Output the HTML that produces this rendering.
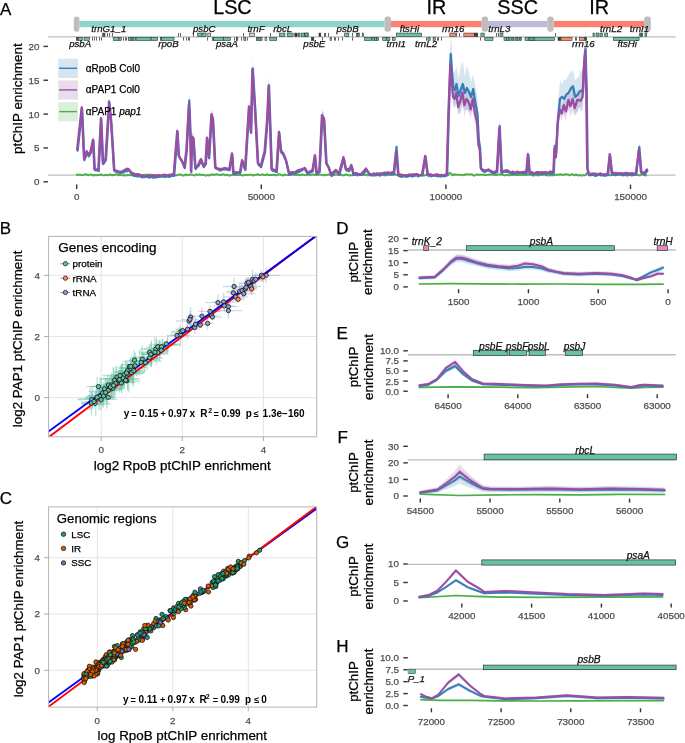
<!DOCTYPE html>
<html><head><meta charset="utf-8"><title>ptChIP figure</title>
<style>html,body{margin:0;padding:0;background:#fff;}body{width:685px;height:743px;overflow:hidden;}svg{display:block;}</style>
</head><body>
<svg width="685" height="743" viewBox="0 0 685 743" font-family='"Liberation Sans", Arial, sans-serif'>
<text x="0" y="14.8" font-size="17" text-anchor="start" fill="#000" stroke="#000" stroke-width="0.25">A</text>
<rect x="79.4" y="20.9" width="305.1" height="6.3" fill="#8dd3c7" stroke="none" stroke-width="0.5" rx="0"/>
<rect x="391" y="20.9" width="90.7" height="6.3" fill="#fb8072" stroke="none" stroke-width="0.5" rx="0"/>
<rect x="488" y="20.9" width="59.4" height="6.3" fill="#bebada" stroke="none" stroke-width="0.5" rx="0"/>
<rect x="553.6" y="20.9" width="90.6" height="6.3" fill="#fb8072" stroke="none" stroke-width="0.5" rx="0"/>
<rect x="73.8" y="16.4" width="5.6" height="15.4" fill="#bdbdbd" stroke="none" stroke-width="0.5" rx="2.8"/>
<rect x="384.5" y="16.4" width="6.5" height="15.4" fill="#bdbdbd" stroke="none" stroke-width="0.5" rx="2.8"/>
<rect x="481.7" y="16.4" width="6.3" height="15.4" fill="#bdbdbd" stroke="none" stroke-width="0.5" rx="2.8"/>
<rect x="547.4" y="16.4" width="6.2" height="15.4" fill="#bdbdbd" stroke="none" stroke-width="0.5" rx="2.8"/>
<rect x="644.2" y="16.4" width="6.6" height="15.4" fill="#bdbdbd" stroke="none" stroke-width="0.5" rx="2.8"/>
<text x="232.4" y="14.4" font-size="19.8" text-anchor="middle" fill="#000" stroke="#000" stroke-width="0.25">LSC</text>
<text x="436.4" y="14.4" font-size="19.8" text-anchor="middle" fill="#000" stroke="#000" stroke-width="0.25">IR</text>
<text x="517.6" y="14.4" font-size="19.8" text-anchor="middle" fill="#000" stroke="#000" stroke-width="0.25">SSC</text>
<text x="599.2" y="14.4" font-size="19.8" text-anchor="middle" fill="#000" stroke="#000" stroke-width="0.25">IR</text>
<line x1="48" y1="36.8" x2="675.5" y2="36.8" stroke="#bebebe" stroke-width="1.3"/>
<rect x="76.4" y="37.3" width="1.8" height="3.2" fill="#3d5f55" stroke="#333" stroke-width="0.6" rx="0"/>
<rect x="78.2" y="37.3" width="4.1" height="3.2" fill="#66c2a5" stroke="#333" stroke-width="0.6" rx="0"/>
<rect x="84" y="37.3" width="5.3" height="3.2" fill="#66c2a5" stroke="#333" stroke-width="0.6" rx="0"/>
<rect x="113.2" y="37.3" width="5.8" height="3.2" fill="#66c2a5" stroke="#333" stroke-width="0.6" rx="0"/>
<rect x="119" y="37.3" width="2.4" height="3.2" fill="#66c2a5" stroke="#333" stroke-width="0.6" rx="0"/>
<rect x="128.4" y="37.3" width="2.6" height="3.2" fill="#66c2a5" stroke="#333" stroke-width="0.6" rx="0"/>
<rect x="131" y="37.3" width="2" height="3.2" fill="#66c2a5" stroke="#333" stroke-width="0.6" rx="0"/>
<rect x="133" y="37.3" width="2.4" height="3.2" fill="#66c2a5" stroke="#333" stroke-width="0.6" rx="0"/>
<rect x="136" y="37.3" width="15" height="3.2" fill="#66c2a5" stroke="#333" stroke-width="0.6" rx="0"/>
<rect x="151" y="37.3" width="6.6" height="3.2" fill="#66c2a5" stroke="#333" stroke-width="0.6" rx="0"/>
<rect x="160.3" y="37.3" width="1.4" height="3.2" fill="#66c2a5" stroke="#333" stroke-width="0.6" rx="0"/>
<rect x="161.7" y="37.3" width="12.3" height="3.2" fill="#66c2a5" stroke="#333" stroke-width="0.6" rx="0"/>
<rect x="212.5" y="37.3" width="1.1" height="3.2" fill="#66c2a5" stroke="#333" stroke-width="0.6" rx="0"/>
<rect x="213.6" y="37.3" width="10" height="3.2" fill="#66c2a5" stroke="#333" stroke-width="0.6" rx="0"/>
<rect x="223.6" y="37.3" width="6.9" height="3.2" fill="#66c2a5" stroke="#333" stroke-width="0.6" rx="0"/>
<rect x="236.3" y="37.3" width="1.6" height="3.2" fill="#66c2a5" stroke="#333" stroke-width="0.6" rx="0"/>
<rect x="243.8" y="37.3" width="2" height="3.2" fill="#66c2a5" stroke="#333" stroke-width="0.6" rx="0"/>
<rect x="256.3" y="37.3" width="1.7" height="3.2" fill="#66c2a5" stroke="#333" stroke-width="0.6" rx="0"/>
<rect x="258" y="37.3" width="2.2" height="3.2" fill="#66c2a5" stroke="#333" stroke-width="0.6" rx="0"/>
<rect x="260.2" y="37.3" width="1.9" height="3.2" fill="#66c2a5" stroke="#333" stroke-width="0.6" rx="0"/>
<rect x="265" y="37.3" width="1.8" height="3.2" fill="#cfcfcf" stroke="#333" stroke-width="0.6" rx="0"/>
<rect x="269.7" y="37.3" width="7" height="3.2" fill="#66c2a5" stroke="#333" stroke-width="0.6" rx="0"/>
<rect x="311.4" y="37.3" width="2.4" height="3.2" fill="#2f3f3a" stroke="#333" stroke-width="0.6" rx="0"/>
<rect x="330.1" y="37.3" width="1.2" height="3.2" fill="#66c2a5" stroke="#333" stroke-width="0.6" rx="0"/>
<rect x="364.6" y="37.3" width="7" height="3.2" fill="#66c2a5" stroke="#333" stroke-width="0.6" rx="0"/>
<rect x="372.2" y="37.3" width="2.3" height="3.2" fill="#66c2a5" stroke="#333" stroke-width="0.6" rx="0"/>
<rect x="374.5" y="37.3" width="2.1" height="3.2" fill="#66c2a5" stroke="#333" stroke-width="0.6" rx="0"/>
<rect x="376.6" y="37.3" width="2" height="3.2" fill="#66c2a5" stroke="#333" stroke-width="0.6" rx="0"/>
<rect x="382.7" y="37.3" width="4.3" height="3.2" fill="#66c2a5" stroke="#333" stroke-width="0.6" rx="0"/>
<rect x="387" y="37.3" width="2.9" height="3.2" fill="#66c2a5" stroke="#333" stroke-width="0.6" rx="0"/>
<rect x="392.3" y="37.3" width="2.9" height="3.2" fill="#66c2a5" stroke="#333" stroke-width="0.6" rx="0"/>
<rect x="427.9" y="37.3" width="2.3" height="3.2" fill="#66c2a5" stroke="#333" stroke-width="0.6" rx="0"/>
<rect x="433.1" y="37.3" width="2.4" height="3.2" fill="#66c2a5" stroke="#333" stroke-width="0.6" rx="0"/>
<rect x="484.8" y="37.3" width="8.2" height="3.2" fill="#66c2a5" stroke="#333" stroke-width="0.6" rx="0"/>
<rect x="504" y="37.3" width="2.5" height="3.2" fill="#66c2a5" stroke="#333" stroke-width="0.6" rx="0"/>
<rect x="506.5" y="37.3" width="2.5" height="3.2" fill="#66c2a5" stroke="#333" stroke-width="0.6" rx="0"/>
<rect x="509" y="37.3" width="2.6" height="3.2" fill="#66c2a5" stroke="#333" stroke-width="0.6" rx="0"/>
<rect x="512.2" y="37.3" width="1.8" height="3.2" fill="#66c2a5" stroke="#333" stroke-width="0.6" rx="0"/>
<rect x="515" y="37.3" width="2" height="3.2" fill="#66c2a5" stroke="#333" stroke-width="0.6" rx="0"/>
<rect x="517.5" y="37.3" width="2" height="3.2" fill="#66c2a5" stroke="#333" stroke-width="0.6" rx="0"/>
<rect x="520" y="37.3" width="1.6" height="3.2" fill="#66c2a5" stroke="#333" stroke-width="0.6" rx="0"/>
<rect x="525" y="37.3" width="4" height="3.2" fill="#66c2a5" stroke="#333" stroke-width="0.6" rx="0"/>
<rect x="529" y="37.3" width="3" height="3.2" fill="#66c2a5" stroke="#333" stroke-width="0.6" rx="0"/>
<rect x="532" y="37.3" width="3" height="3.2" fill="#66c2a5" stroke="#333" stroke-width="0.6" rx="0"/>
<rect x="530" y="37.3" width="2.9" height="3.2" fill="#66c2a5" stroke="#333" stroke-width="0.6" rx="0"/>
<rect x="534.1" y="37.3" width="20.4" height="3.2" fill="#66c2a5" stroke="#333" stroke-width="0.6" rx="0"/>
<rect x="558" y="37.3" width="2.9" height="3.2" fill="#3a3a3a" stroke="#333" stroke-width="0.6" rx="0"/>
<rect x="560.9" y="37.3" width="11.1" height="3.2" fill="#fc8d62" stroke="#333" stroke-width="0.6" rx="0"/>
<rect x="579.6" y="37.3" width="5.3" height="3.2" fill="#fc8d62" stroke="#333" stroke-width="0.6" rx="0"/>
<rect x="584.9" y="37.3" width="1.7" height="3.2" fill="#3a3a3a" stroke="#333" stroke-width="0.6" rx="0"/>
<rect x="613.4" y="37.3" width="25.7" height="3.2" fill="#66c2a5" stroke="#333" stroke-width="0.6" rx="0"/>
<rect x="102.7" y="33.1" width="2.3" height="3.4" fill="#4a5a55" stroke="#333" stroke-width="0.6" rx="0"/>
<rect x="197.6" y="33.1" width="4.4" height="3.4" fill="#66c2a5" stroke="#333" stroke-width="0.6" rx="0"/>
<rect x="202" y="33.1" width="4.1" height="3.4" fill="#66c2a5" stroke="#333" stroke-width="0.6" rx="0"/>
<rect x="207.8" y="33.1" width="2.9" height="3.4" fill="#cfcfcf" stroke="#333" stroke-width="0.6" rx="0"/>
<rect x="249.3" y="33.1" width="5.2" height="3.4" fill="#d0d0d0" stroke="#333" stroke-width="0.6" rx="0"/>
<rect x="279.6" y="33.1" width="5.3" height="3.4" fill="#66c2a5" stroke="#333" stroke-width="0.6" rx="0"/>
<rect x="287.2" y="33.1" width="5.9" height="3.4" fill="#66c2a5" stroke="#333" stroke-width="0.6" rx="0"/>
<rect x="294.8" y="33.1" width="2.4" height="3.4" fill="#2f3f3a" stroke="#333" stroke-width="0.6" rx="0"/>
<rect x="298.3" y="33.1" width="1.7" height="3.4" fill="#66c2a5" stroke="#333" stroke-width="0.6" rx="0"/>
<rect x="301.2" y="33.1" width="3.3" height="3.4" fill="#66c2a5" stroke="#333" stroke-width="0.6" rx="0"/>
<rect x="304.5" y="33.1" width="3.7" height="3.4" fill="#66c2a5" stroke="#333" stroke-width="0.6" rx="0"/>
<rect x="305" y="33.1" width="2.9" height="3.4" fill="#66c2a5" stroke="#333" stroke-width="0.6" rx="0"/>
<rect x="319" y="33.1" width="1.8" height="3.4" fill="#2f3f3a" stroke="#333" stroke-width="0.6" rx="0"/>
<rect x="344.7" y="33.1" width="4.1" height="3.4" fill="#66c2a5" stroke="#333" stroke-width="0.6" rx="0"/>
<rect x="356.4" y="33.1" width="1.5" height="3.4" fill="#66c2a5" stroke="#333" stroke-width="0.6" rx="0"/>
<rect x="357.9" y="33.1" width="1.4" height="3.4" fill="#66c2a5" stroke="#333" stroke-width="0.6" rx="0"/>
<rect x="362.2" y="33.1" width="1.2" height="3.4" fill="#66c2a5" stroke="#333" stroke-width="0.6" rx="0"/>
<rect x="396.4" y="33.1" width="25.1" height="3.4" fill="#66c2a5" stroke="#333" stroke-width="0.6" rx="0"/>
<rect x="449.8" y="33.1" width="5.5" height="3.4" fill="#fc8d62" stroke="#333" stroke-width="0.6" rx="0"/>
<rect x="463.8" y="33.1" width="10.5" height="3.4" fill="#fc8d62" stroke="#333" stroke-width="0.6" rx="0"/>
<rect x="474.3" y="33.1" width="3.5" height="3.4" fill="#3a3a3a" stroke="#333" stroke-width="0.6" rx="0"/>
<rect x="480.9" y="33.1" width="3.3" height="3.4" fill="#66c2a5" stroke="#333" stroke-width="0.6" rx="0"/>
<rect x="500" y="33.1" width="2.9" height="3.4" fill="#66c2a5" stroke="#333" stroke-width="0.6" rx="0"/>
<rect x="593" y="33.1" width="1.2" height="3.4" fill="#66c2a5" stroke="#333" stroke-width="0.6" rx="0"/>
<rect x="596" y="33.1" width="2.9" height="3.4" fill="#66c2a5" stroke="#333" stroke-width="0.6" rx="0"/>
<rect x="600" y="33.1" width="2.3" height="3.4" fill="#66c2a5" stroke="#333" stroke-width="0.6" rx="0"/>
<rect x="604.7" y="33.1" width="3" height="3.4" fill="#66c2a5" stroke="#333" stroke-width="0.6" rx="0"/>
<rect x="639.7" y="33.1" width="2.9" height="3.4" fill="#2e7a62" stroke="#333" stroke-width="0.6" rx="0"/>
<rect x="645" y="33.1" width="1.7" height="3.4" fill="#66c2a5" stroke="#333" stroke-width="0.6" rx="0"/>
<line x1="92.5" y1="37.3" x2="92.5" y2="40.6" stroke="#3c3c3c" stroke-width="0.8"/>
<line x1="94.5" y1="37.3" x2="94.5" y2="40.6" stroke="#3c3c3c" stroke-width="0.8"/>
<line x1="96.5" y1="37.3" x2="96.5" y2="40.6" stroke="#3c3c3c" stroke-width="0.8"/>
<line x1="99.5" y1="37.3" x2="99.5" y2="40.6" stroke="#3c3c3c" stroke-width="0.8"/>
<line x1="101.5" y1="37.3" x2="101.5" y2="40.6" stroke="#3c3c3c" stroke-width="0.8"/>
<line x1="123.5" y1="37.3" x2="123.5" y2="40.6" stroke="#3c3c3c" stroke-width="0.8"/>
<line x1="125.5" y1="37.3" x2="125.5" y2="40.6" stroke="#3c3c3c" stroke-width="0.8"/>
<line x1="126.5" y1="37.3" x2="126.5" y2="40.6" stroke="#3c3c3c" stroke-width="0.8"/>
<line x1="183.5" y1="37.3" x2="183.5" y2="40.6" stroke="#3c3c3c" stroke-width="0.8"/>
<line x1="186.5" y1="37.3" x2="186.5" y2="40.6" stroke="#3c3c3c" stroke-width="0.8"/>
<line x1="188.5" y1="37.3" x2="188.5" y2="40.6" stroke="#3c3c3c" stroke-width="0.8"/>
<line x1="189.5" y1="37.3" x2="189.5" y2="40.6" stroke="#3c3c3c" stroke-width="0.8"/>
<line x1="207.5" y1="37.3" x2="207.5" y2="40.6" stroke="#3c3c3c" stroke-width="0.8"/>
<line x1="234.5" y1="37.3" x2="234.5" y2="40.6" stroke="#3c3c3c" stroke-width="0.8"/>
<line x1="236.5" y1="37.3" x2="236.5" y2="40.6" stroke="#3c3c3c" stroke-width="0.8"/>
<line x1="241.5" y1="37.3" x2="241.5" y2="40.6" stroke="#3c3c3c" stroke-width="0.8"/>
<line x1="247.5" y1="37.3" x2="247.5" y2="40.6" stroke="#3c3c3c" stroke-width="0.8"/>
<line x1="322.5" y1="37.3" x2="322.5" y2="40.6" stroke="#3c3c3c" stroke-width="0.8"/>
<line x1="334.5" y1="37.3" x2="334.5" y2="40.6" stroke="#3c3c3c" stroke-width="0.8"/>
<line x1="335.5" y1="37.3" x2="335.5" y2="40.6" stroke="#3c3c3c" stroke-width="0.8"/>
<line x1="338.5" y1="37.3" x2="338.5" y2="40.6" stroke="#3c3c3c" stroke-width="0.8"/>
<line x1="342.5" y1="37.3" x2="342.5" y2="40.6" stroke="#3c3c3c" stroke-width="0.8"/>
<line x1="352.5" y1="37.3" x2="352.5" y2="40.6" stroke="#3c3c3c" stroke-width="0.8"/>
<line x1="426.5" y1="37.3" x2="426.5" y2="40.6" stroke="#3c3c3c" stroke-width="0.8"/>
<line x1="437.5" y1="37.3" x2="437.5" y2="40.6" stroke="#3c3c3c" stroke-width="0.8"/>
<line x1="438.5" y1="37.3" x2="438.5" y2="40.6" stroke="#3c3c3c" stroke-width="0.8"/>
<line x1="441.5" y1="37.3" x2="441.5" y2="40.6" stroke="#3c3c3c" stroke-width="0.8"/>
<line x1="480.5" y1="37.3" x2="480.5" y2="40.6" stroke="#3c3c3c" stroke-width="0.8"/>
<line x1="575.5" y1="37.3" x2="575.5" y2="40.6" stroke="#3c3c3c" stroke-width="0.8"/>
<line x1="576.5" y1="37.3" x2="576.5" y2="40.6" stroke="#3c3c3c" stroke-width="0.8"/>
<line x1="107.5" y1="33" x2="107.5" y2="36.6" stroke="#3c3c3c" stroke-width="0.8"/>
<line x1="109.5" y1="33" x2="109.5" y2="36.6" stroke="#3c3c3c" stroke-width="0.8"/>
<line x1="112.5" y1="33" x2="112.5" y2="36.6" stroke="#3c3c3c" stroke-width="0.8"/>
<line x1="178.5" y1="33" x2="178.5" y2="36.6" stroke="#3c3c3c" stroke-width="0.8"/>
<line x1="180.5" y1="33" x2="180.5" y2="36.6" stroke="#3c3c3c" stroke-width="0.8"/>
<line x1="193.5" y1="33" x2="193.5" y2="36.6" stroke="#3c3c3c" stroke-width="0.8"/>
<line x1="243.5" y1="33" x2="243.5" y2="36.6" stroke="#3c3c3c" stroke-width="0.8"/>
<line x1="270.5" y1="33" x2="270.5" y2="36.6" stroke="#3c3c3c" stroke-width="0.8"/>
<line x1="324.5" y1="33" x2="324.5" y2="36.6" stroke="#3c3c3c" stroke-width="0.8"/>
<line x1="325.5" y1="33" x2="325.5" y2="36.6" stroke="#3c3c3c" stroke-width="0.8"/>
<line x1="328.5" y1="33" x2="328.5" y2="36.6" stroke="#3c3c3c" stroke-width="0.8"/>
<line x1="352.5" y1="33" x2="352.5" y2="36.6" stroke="#3c3c3c" stroke-width="0.8"/>
<line x1="456.5" y1="33" x2="456.5" y2="36.6" stroke="#3c3c3c" stroke-width="0.8"/>
<line x1="459.5" y1="33" x2="459.5" y2="36.6" stroke="#3c3c3c" stroke-width="0.8"/>
<line x1="496.5" y1="33" x2="496.5" y2="36.6" stroke="#3c3c3c" stroke-width="0.8"/>
<line x1="498.5" y1="33" x2="498.5" y2="36.6" stroke="#3c3c3c" stroke-width="0.8"/>
<line x1="555.5" y1="33" x2="555.5" y2="36.6" stroke="#3c3c3c" stroke-width="0.8"/>
<text x="108.8" y="32.3" font-size="9.7" text-anchor="middle" fill="#111" stroke="#111" stroke-width="0.25" font-style="italic">trnG1_1</text>
<text x="204.3" y="32.3" font-size="9.7" text-anchor="middle" fill="#111" stroke="#111" stroke-width="0.25" font-style="italic">psbC</text>
<text x="256" y="32.3" font-size="9.7" text-anchor="middle" fill="#111" stroke="#111" stroke-width="0.25" font-style="italic">trnF</text>
<text x="282.8" y="32.3" font-size="9.7" text-anchor="middle" fill="#111" stroke="#111" stroke-width="0.25" font-style="italic">rbcL</text>
<text x="347.6" y="32.3" font-size="9.7" text-anchor="middle" fill="#111" stroke="#111" stroke-width="0.25" font-style="italic">psbB</text>
<text x="409.4" y="32.3" font-size="9.7" text-anchor="middle" fill="#111" stroke="#111" stroke-width="0.25" font-style="italic">ftsHi</text>
<text x="453.2" y="32.3" font-size="9.7" text-anchor="middle" fill="#111" stroke="#111" stroke-width="0.25" font-style="italic">rrn16</text>
<text x="499.3" y="32.3" font-size="9.7" text-anchor="middle" fill="#111" stroke="#111" stroke-width="0.25" font-style="italic">trnL3</text>
<text x="611" y="32.3" font-size="9.7" text-anchor="middle" fill="#111" stroke="#111" stroke-width="0.25" font-style="italic">trnL2</text>
<text x="639.5" y="32.3" font-size="9.7" text-anchor="middle" fill="#111" stroke="#111" stroke-width="0.25" font-style="italic">trnI1</text>
<text x="80.2" y="47.2" font-size="9.7" text-anchor="middle" fill="#111" stroke="#111" stroke-width="0.25" font-style="italic">psbA</text>
<text x="168.4" y="47.2" font-size="9.7" text-anchor="middle" fill="#111" stroke="#111" stroke-width="0.25" font-style="italic">rpoB</text>
<text x="227" y="47.2" font-size="9.7" text-anchor="middle" fill="#111" stroke="#111" stroke-width="0.25" font-style="italic">psaA</text>
<text x="314.3" y="47.2" font-size="9.7" text-anchor="middle" fill="#111" stroke="#111" stroke-width="0.25" font-style="italic">psbE</text>
<text x="396.3" y="47.2" font-size="9.7" text-anchor="middle" fill="#111" stroke="#111" stroke-width="0.25" font-style="italic">trnI1</text>
<text x="426" y="47.2" font-size="9.7" text-anchor="middle" fill="#111" stroke="#111" stroke-width="0.25" font-style="italic">trnL2</text>
<text x="583.4" y="47.2" font-size="9.7" text-anchor="middle" fill="#111" stroke="#111" stroke-width="0.25" font-style="italic">rrn16</text>
<text x="627.2" y="47.2" font-size="9.7" text-anchor="middle" fill="#111" stroke="#111" stroke-width="0.25" font-style="italic">ftsHi</text>
<line x1="43.5" y1="181.8" x2="48" y2="181.8" stroke="#333333" stroke-width="1.4"/>
<text x="39.5" y="185.2" font-size="9.8" text-anchor="end" fill="#4d4d4d" stroke="#4d4d4d" stroke-width="0.25">0</text>
<line x1="43.5" y1="147.95" x2="48" y2="147.95" stroke="#333333" stroke-width="1.4"/>
<text x="39.5" y="151.35" font-size="9.8" text-anchor="end" fill="#4d4d4d" stroke="#4d4d4d" stroke-width="0.25">5</text>
<line x1="43.5" y1="114.1" x2="48" y2="114.1" stroke="#333333" stroke-width="1.4"/>
<text x="39.5" y="117.5" font-size="9.8" text-anchor="end" fill="#4d4d4d" stroke="#4d4d4d" stroke-width="0.25">10</text>
<line x1="43.5" y1="80.25" x2="48" y2="80.25" stroke="#333333" stroke-width="1.4"/>
<text x="39.5" y="83.65" font-size="9.8" text-anchor="end" fill="#4d4d4d" stroke="#4d4d4d" stroke-width="0.25">15</text>
<line x1="43.5" y1="46.4" x2="48" y2="46.4" stroke="#333333" stroke-width="1.4"/>
<text x="39.5" y="49.8" font-size="9.8" text-anchor="end" fill="#4d4d4d" stroke="#4d4d4d" stroke-width="0.25">20</text>
<line x1="76.7" y1="184.6" x2="76.7" y2="189" stroke="#333333" stroke-width="1.4"/>
<text x="76.7" y="199.9" font-size="9.8" text-anchor="middle" fill="#4d4d4d" stroke="#4d4d4d" stroke-width="0.25">0</text>
<line x1="261.3" y1="184.6" x2="261.3" y2="189" stroke="#333333" stroke-width="1.4"/>
<text x="261.3" y="199.9" font-size="9.8" text-anchor="middle" fill="#4d4d4d" stroke="#4d4d4d" stroke-width="0.25">50000</text>
<line x1="445.9" y1="184.6" x2="445.9" y2="189" stroke="#333333" stroke-width="1.4"/>
<text x="445.9" y="199.9" font-size="9.8" text-anchor="middle" fill="#4d4d4d" stroke="#4d4d4d" stroke-width="0.25">100000</text>
<line x1="630.5" y1="184.6" x2="630.5" y2="189" stroke="#333333" stroke-width="1.4"/>
<text x="630.5" y="199.9" font-size="9.8" text-anchor="middle" fill="#4d4d4d" stroke="#4d4d4d" stroke-width="0.25">150000</text>
<text x="21.8" y="98.7" font-size="13.4" text-anchor="middle" fill="#000" stroke="#000" stroke-width="0.25" transform="rotate(-90 21.8 98.7)">ptChIP enrichment</text>
<line x1="48" y1="175.03" x2="675.5" y2="175.03" stroke="#bebebe" stroke-width="1.3"/>
<polygon points="77.6,147.11 79.1,132.3 80.6,115.59 82.1,100.25 84.4,157.36 87,148.63 88.9,154.37 90.9,149.45 93.4,135.71 94.8,168.26 96.75,167.83 98.7,169.83 101.3,113.64 103.2,162.34 105.9,157.65 107.65,127.21 109.4,97.65 111.4,118.66 112.9,143.6 114.4,169.1 115.85,169.2 117.3,170.85 119.25,171.03 121.2,171.83 122.68,170.57 124.16,171.19 125.64,169.71 127.12,169.39 128.6,168.68 130.03,170.15 131.47,171.7 132.9,173.42 134.3,174.73 135.7,174.17 137.1,175.08 138.5,174.95 139.9,174.64 141.3,175.54 142.7,175.46 144.24,175.45 145.78,175.17 147.32,175.49 148.86,176.43 150.4,176.14 151.83,176.2 153.26,176.68 154.69,176.21 156.11,176.19 157.54,175.99 158.97,175.62 160.4,175.52 161.92,175.62 163.44,174.68 164.97,175.82 166.49,174.96 168.01,175.42 169.53,175.42 171.06,175.39 172.58,173.93 174.1,175.04 175.85,151.08 177.6,126.29 179,154.38 180.45,156.07 181.9,159.08 183.35,162.05 184.8,166.86 186.8,148.2 189.3,94.71 190.7,131.38 191.3,170.82 192.2,132.98 193.6,133.65 195.6,166.87 197.05,165.24 198.5,164.35 199.95,161.02 201.4,157.42 203.8,165.7 205.9,161.72 207.3,133.97 209.2,155.22 211.8,110.99 213.1,112.02 215.5,166.78 217.25,166.83 219,168.29 220.47,168.41 221.95,168.08 223.43,167.28 224.9,167.38 226.5,167.8 228.1,168.5 229.7,168.71 232.3,152.27 233.6,172.88 235.3,172.83 237,171.38 238.7,171.89 240.4,171.9 242.4,158.22 243.9,163.73 245.4,168.49 247.35,134.99 249.3,100.53 251.2,127.44 252.8,58.82 255.3,103.36 256.75,133.82 258.2,161.51 259.65,164.26 261.1,165.28 263.05,156.74 265,150.06 267.6,112.75 269,74.55 270.3,117.33 271.9,168.12 273.53,169.74 275.17,169.94 276.8,170.86 279.3,127.39 281.3,149.76 283.6,151.63 285.05,154.37 286.5,159.51 288,167.11 289.5,173.73 291.06,172.86 292.62,172.16 294.18,171.68 295.74,172 297.3,170.64 298.86,170.92 300.42,169.44 301.98,168.06 303.54,166.98 305.1,167.3 306.55,170.62 308,172.74 309.63,171.42 311.27,170.79 312.9,169.22 315.2,153.01 316.8,172.72 318.25,171.12 319.7,170.32 322.3,109.72 324.2,112.98 326.6,161.71 328.5,165.42 330,169.58 331.5,174.86 333.1,172.8 334.7,170.55 336.3,169.31 337.8,171.06 339.3,173.37 340.8,167.62 342.3,162.09 343.8,156.51 346.1,168.35 347.65,169.39 349.2,169.32 351.7,164.23 353.7,173.46 355.34,173.13 356.98,173.76 358.62,173.13 360.26,173.45 361.9,173.52 363.4,172.02 364.9,170.64 366.4,167.63 368.05,170.45 369.7,173.56 371.26,173.76 372.82,173.18 374.38,173.46 375.94,173.45 377.5,173.51 379.13,173.65 380.77,173.09 382.4,172.91 384.03,173.03 385.67,172.77 387.3,172.43 389,172.65 390.7,172.83 392.4,173.03 394.1,172.48 396.5,143.72 398.6,174.61 400.17,174.8 401.75,175.52 403.32,174.32 404.9,175.64 406.36,175.46 407.82,175.36 409.27,174.72 410.73,174.71 412.19,175.02 413.65,174.61 415.11,174.72 416.57,174.01 418.02,175.4 419.48,174.58 420.94,174.11 422.4,174.43 424,164.24 425.6,154.74 427.9,174.63 429.46,174.11 431.02,175.15 432.59,174.15 434.15,174.42 435.71,174.55 437.27,174.72 438.84,175.13 440.4,175.37 442.07,174.89 443.75,174.99 445.42,175.12 447.1,173.66 448.8,102.32 450.7,35.67 451.9,46.29 453.4,73.92 455,71.31 456.5,66.47 458.6,78.17 460.7,66.8 462.8,60.89 464.8,76.25 466.9,65.91 469,72.68 471.1,81.52 473.2,74.55 475.3,85.29 477.4,98.88 478.8,129.55 480.1,139.55 481.1,166.32 482.9,169.53 484.7,170.22 486.8,169.57 488.9,169.41 490.95,170.16 493,171.65 495.1,171.97 497.2,170.45 499.7,119.68 501.8,171.85 503.4,170.49 505,170.32 506.6,170.1 508.33,170.25 510.07,171.35 511.8,171.81 513.2,172.19 514.6,172.34 516,172.17 517.4,171.22 518.8,171.54 520.2,171.61 521.6,171.34 523,171.66 524.4,171.75 526.7,171.81 528.3,152.45 529.8,172.59 531.24,171.73 532.67,173.03 534.11,172.83 535.55,171.61 536.99,172.3 538.42,173.14 539.86,171.95 541.3,172.89 542.86,172.23 544.42,171.51 545.99,172.91 547.55,171.62 549.11,172.52 550.67,172.27 552.24,172.77 553.8,171.3 554.8,139.11 556.3,145.7 558,104.61 560,80.08 562.1,83.82 564.2,79.91 566.3,79.5 568.8,74.56 570.9,71.7 573,69.67 575.1,79.66 577.8,77.81 579.35,75.6 580.9,69.74 583,73.23 584,51.69 585.5,26.29 586.7,72.28 587.6,165.75 589.2,173.62 590.65,173.92 592.09,173.72 593.54,173.47 594.98,174.46 596.43,174.29 597.88,173.01 599.32,173.63 600.77,174.11 602.22,173.11 603.66,174.41 605.11,174.53 606.55,173.72 608,174.12 610.1,152.76 612.2,173.12 613.61,173.48 615.02,173.65 616.44,173.24 617.85,172.95 619.26,173.19 620.67,172.64 622.08,173.58 623.49,173.65 624.91,173.68 626.32,173.81 627.73,174.06 629.14,173.03 630.55,173.48 631.96,173.86 633.38,173.54 634.79,173.52 636.2,173.57 637.75,158.15 639.3,142.74 641.4,171.51 642.95,172.42 644.5,173.2 647.3,168.49 647.3,172.51 644.5,176 642.95,174.32 641.4,174.49 639.3,150.86 637.75,163.69 636.2,175.63 634.79,175.36 633.38,176.39 631.96,176.39 630.55,175.45 629.14,175.3 627.73,176.46 626.32,176.28 624.91,176.07 623.49,175.58 622.08,176.57 620.67,175.61 619.26,175.38 617.85,175.38 616.44,175.99 615.02,176.53 613.61,175.33 612.2,176.08 610.1,157.64 608,176.08 606.55,176.63 605.11,176.77 603.66,176.64 602.22,176.18 600.77,176.48 599.32,176.23 597.88,175.82 596.43,176.8 594.98,176.76 593.54,176.29 592.09,175.47 590.65,176.38 589.2,176.58 587.6,171.85 586.7,107.72 585.5,71.31 584,84.31 583,110.77 580.9,111.26 579.35,108.26 577.8,111.59 575.1,113.94 573,102.93 570.9,105.1 568.8,110.64 566.3,109.9 564.2,117.89 562.1,109.78 560,117.72 558,131.39 556.3,158.3 554.8,152.89 553.8,174.7 552.24,175.22 550.67,175.59 549.11,174.6 547.55,173.99 545.99,175.08 544.42,174.67 542.86,175.49 541.3,175.11 539.86,174.67 538.42,174.95 536.99,175.39 535.55,174.75 534.11,175.08 532.67,175.46 531.24,174.62 529.8,174.61 528.3,157.95 526.7,174.19 524.4,174.45 523,175.09 521.6,173.82 520.2,174.2 518.8,174.27 517.4,174.73 516,174.46 514.6,175.09 513.2,175.42 511.8,175.19 510.07,173.92 508.33,173.93 506.6,172.7 505,172.78 503.4,173.27 501.8,174.35 499.7,132.32 497.2,173.55 495.1,174.1 493,174.55 490.95,173.2 488.9,171.79 486.8,171.74 484.7,173.78 482.9,172.31 481.1,171.48 480.1,156.45 478.8,150.45 477.4,127.12 475.3,118.71 473.2,103.45 471.1,112.48 469,111.32 466.9,110.09 464.8,109.75 462.8,107.11 460.7,113.2 458.6,113.83 456.5,101.53 455,108.69 453.4,102.08 451.9,93.71 450.7,72.33 448.8,126.88 447.1,176.54 445.42,176.97 443.75,177.26 442.07,176.97 440.4,177.63 438.84,176.81 437.27,177.7 435.71,176.57 434.15,176.95 432.59,176.71 431.02,177.38 429.46,176.46 427.9,176.37 425.6,159.06 424,167.37 422.4,176.57 420.94,175.98 419.48,176.34 418.02,177.41 416.57,176.37 415.11,176.46 413.65,177.2 412.19,177.69 410.73,176.7 409.27,177.33 407.82,177.68 406.36,177.37 404.9,177.36 403.32,177.03 401.75,178.12 400.17,177.6 398.6,177.19 396.5,150.28 394.1,175.32 392.4,175.66 390.7,175.77 389,174.74 387.3,175.37 385.67,175.63 384.03,175.81 382.4,175.41 380.77,176.19 379.13,176.53 377.5,175.49 375.94,175.94 374.38,175.93 372.82,176.29 371.26,176.85 369.7,176.24 368.05,173.94 366.4,171.57 364.9,173.27 363.4,175.16 361.9,176.28 360.26,176.1 358.62,175.42 356.98,176.59 355.34,175.83 353.7,176.34 351.7,167.97 349.2,172.68 347.65,172.02 346.1,171.65 343.8,160.09 342.3,166.41 340.8,171.21 339.3,176.43 337.8,173.54 336.3,172.69 334.7,173.86 333.1,175.33 331.5,176.94 330,172.94 328.5,168.78 326.6,166.49 324.2,125.42 322.3,122.88 319.7,173.68 318.25,174.36 316.8,175.08 315.2,159.59 312.9,172.78 311.27,173.27 309.63,173.53 308,175.06 306.55,173.49 305.1,170.9 303.54,171.25 301.98,172.18 300.42,172.28 298.86,173.18 297.3,173.36 295.74,174.36 294.18,174.36 292.62,175.13 291.06,175.38 289.5,176.07 288,171.38 286.5,164.89 285.05,161.08 283.6,157.17 281.3,155.04 279.3,138.41 276.8,173.14 275.17,172.8 273.53,172.08 271.9,171.88 270.3,128.87 269,95.85 267.6,125.65 265,154.74 263.05,162.58 261.1,168.92 259.65,167.06 258.2,166.69 256.75,140.05 255.3,115.64 252.8,77.78 251.2,138.36 249.3,114.47 247.35,141.94 245.4,171.51 243.9,167.7 242.4,164.18 240.4,173.9 238.7,174.06 237,174.88 235.3,175.64 233.6,174.92 232.3,156.53 229.7,171.29 228.1,171.35 226.5,170.74 224.9,170.82 223.43,171.42 221.95,171.04 220.47,172.33 219,171.71 217.25,169.96 215.5,169.42 213.1,126.38 211.8,119.61 209.2,161.38 207.3,143.63 205.9,166.48 203.8,168.5 201.4,162.98 199.95,165.37 198.5,167.85 197.05,168.59 195.6,171.13 193.6,143.95 192.2,142.62 191.3,173.18 190.7,142.22 189.3,106.29 186.8,152.8 184.8,169.34 183.35,166.37 181.9,163.32 180.45,161.89 179,158.22 177.6,137.51 175.85,157.63 174.1,176.76 172.58,177.02 171.06,177.15 169.53,178.12 168.01,177.79 166.49,177.09 164.97,178.19 163.44,177.54 161.92,177.74 160.4,177.68 158.97,178.28 157.54,177.68 156.11,178.73 154.69,178.33 153.26,178.46 151.83,178.09 150.4,178.06 148.86,178.63 147.32,177.6 145.78,178.14 144.24,178.52 142.7,178.14 141.3,178.58 139.9,176.61 138.5,177.61 137.1,177.54 135.7,177.23 134.3,176.82 132.9,176.38 131.47,175.12 130.03,172.62 128.6,171.32 127.12,173.06 125.64,171.86 124.16,173.39 122.68,173.64 121.2,173.97 119.25,174.3 117.3,173.15 115.85,172.73 114.4,172.9 112.9,149.62 111.4,127.54 109.4,107.55 107.65,136.89 105.9,162.55 103.2,165.86 101.3,124.76 98.7,172.17 96.75,171.83 94.8,171.74 93.4,145.69 90.9,155.35 88.9,158.23 87,156.17 84.4,162.84 82.1,116.75 80.6,128.4 79.1,141.98 77.6,153.89" fill="rgba(55,126,184,0.2)"/>
<polygon points="77.2,146.48 78.7,131.11 80.2,117.83 81.7,103.48 84,157.6 86.6,148.68 88.5,153.05 90.5,148.54 93,136.86 94.4,167.15 96.35,168.32 98.3,168.18 100.9,113.5 102.8,161.29 105.5,156.95 107.25,126.41 109,97.52 111,118.03 112.5,142.39 114,168.65 115.45,169.14 116.9,169.34 118.85,170.14 120.8,170.57 122.28,170.19 123.76,168.97 125.24,167.96 126.72,167.32 128.2,167.76 129.63,169.18 131.07,170.84 132.5,172.7 133.9,171.85 135.3,173.48 136.7,173.22 138.1,173.17 139.5,173.39 140.9,174.61 142.3,174.21 143.84,174.88 145.38,175.04 146.92,174.7 148.46,173.87 150,174.46 151.43,174.83 152.86,174.75 154.29,173.97 155.71,175.29 157.14,174.19 158.57,174.18 160,174.03 161.52,174.65 163.04,173.89 164.57,174.55 166.09,174.06 167.61,174.2 169.13,173.62 170.66,173.99 172.18,173.43 173.7,173.32 175.45,149.53 177.2,128.39 178.6,152.64 180.05,156.71 181.5,158.35 182.95,160.95 184.4,165.28 186.4,147.21 188.9,100.12 190.3,132.75 190.9,169.81 191.8,132.65 193.2,135.46 195.2,166.42 196.65,165 198.1,163.4 199.55,159.24 201,157.41 203.4,163.88 205.5,160.78 206.9,134.32 208.8,154.62 211.4,110.09 212.7,113.25 215.1,165.12 216.85,167.07 218.6,167.42 220.07,167.55 221.55,167.38 223.03,167.45 224.5,166.22 226.1,167.1 227.7,167.43 229.3,167.14 231.9,151.46 233.2,171.87 234.9,170.98 236.6,170.86 238.3,171.29 240,170.64 242,158.21 243.5,161.89 245,167.62 246.95,135.37 248.9,100.72 250.8,128.21 252.4,63.72 254.9,103.94 256.35,133.15 257.8,161.59 259.25,162.77 260.7,164.54 262.65,156.06 264.6,149.17 267.2,113.67 268.6,78.65 269.9,117.17 271.5,167.51 273.13,167.93 274.77,168.78 276.4,169.58 278.9,128.46 280.9,148.5 283.2,150.42 284.65,156.1 286.1,159.77 287.6,165.75 289.1,172.87 290.66,171.61 292.22,170.5 293.78,171.34 295.34,170.65 296.9,169.61 298.46,168.5 300.02,167.95 301.58,168.13 303.14,167.7 304.7,166.03 306.15,168.46 307.6,171.55 309.23,170.41 310.87,169.28 312.5,168.45 314.8,153.05 316.4,171.8 317.85,170.78 319.3,169.79 321.9,110.69 323.8,113.8 326.2,161.58 328.1,164.22 329.6,168.85 331.1,173.88 332.7,171.28 334.3,169.97 335.9,168.1 337.4,171.02 338.9,172.39 340.4,166.85 341.9,160.7 343.4,155.63 345.7,167.29 347.25,167.27 348.8,168.09 351.3,162.9 353.3,172.58 354.94,171.81 356.58,171.68 358.22,173.27 359.86,172.62 361.5,172.23 363,170.55 364.5,168.86 366,167.02 367.65,170.2 369.3,172.38 370.86,173.37 372.42,172.82 373.98,171.78 375.54,173.08 377.1,171.78 378.73,173.01 380.37,171.77 382,172.54 383.63,171.32 385.27,171.47 386.9,171.16 388.6,171.49 390.3,172.36 392,170.74 393.7,171.38 396.1,148.86 398.2,173.93 399.77,173.36 401.35,174.42 402.93,174.76 404.5,173.85 405.96,173.9 407.42,174.18 408.88,173.15 410.33,173.63 411.79,173.78 413.25,173.41 414.71,173.41 416.17,172.85 417.62,173.22 419.08,173.93 420.54,174.27 422,173.48 423.6,163.75 425.2,154.25 427.5,173.15 429.06,173.53 430.62,173.23 432.19,174.47 433.75,173.68 435.31,174.23 436.88,173.47 438.44,173.87 440,174.15 441.68,174.03 443.35,173.97 445.02,173.92 446.7,172.83 448.4,106.78 450.3,50.45 451.5,64.09 453,86.59 454.6,91.12 456.1,83.41 458.2,99.16 460.3,91.99 462.4,82.97 464.4,93.67 466.5,89.04 468.6,91.87 470.7,99.78 472.8,88.5 474.9,104.08 477,115.4 478.4,139.83 479.7,143.79 480.7,166.21 482.5,167.91 484.3,169.59 486.4,169.03 488.5,168.43 490.55,169.24 492.6,170.96 494.7,170.41 496.8,169.83 499.3,124.84 501.4,171.03 503,169.74 504.6,169.27 506.2,169.1 507.93,169.22 509.67,170.39 511.4,171.23 512.8,170.33 514.2,171.07 515.6,171.31 517,170.46 518.4,170.85 519.8,171.31 521.2,171.57 522.6,170.43 524,171.01 526.3,170.2 527.9,151.52 529.4,171.04 530.84,170.69 532.27,171.02 533.71,172.17 535.15,172.02 536.59,171.14 538.02,170.61 539.46,170.72 540.9,171.37 542.46,171 544.02,171.18 545.59,170.87 547.15,171.38 548.71,170.97 550.27,169.85 551.84,170.56 553.4,170.19 554.4,144.15 555.9,154.92 557.6,116.69 559.6,103.24 561.7,106.17 563.8,98.25 565.9,101 568.4,93.12 570.5,95.22 572.6,86.76 574.7,99.98 577.4,88.55 578.95,93.05 580.5,93.57 582.6,89.88 583.6,62.39 585.1,40.48 586.3,80.31 587.2,166.19 588.8,172.68 590.25,172.91 591.69,172.62 593.14,172.32 594.58,172.53 596.03,172.21 597.48,173.14 598.92,172.75 600.37,172.03 601.82,172.97 603.26,173.31 604.71,173.32 606.15,173.45 607.6,172.46 609.7,152.27 611.8,172.26 613.21,171.26 614.62,172.11 616.04,171.23 617.45,172.38 618.86,171.74 620.27,172.82 621.68,171.79 623.09,172.53 624.51,171.67 625.92,171.53 627.33,171.91 628.74,171.7 630.15,172.84 631.56,171.66 632.98,171.92 634.39,172.56 635.8,171.9 637.35,160.14 638.9,147.03 641,170.68 642.55,170.99 644.1,172.51 646.9,168.03 646.9,170.77 644.1,174.49 642.55,173.28 641,173.12 638.9,152.97 637.35,164.61 635.8,175.1 634.39,174.58 632.98,175.08 631.56,174.77 630.15,175.29 628.74,174.76 627.33,174.78 625.92,174.19 624.51,174.81 623.09,175.02 621.68,174.52 620.27,174.77 618.86,174.35 617.45,175.36 616.04,174.55 614.62,174.79 613.21,174.36 611.8,174.74 609.7,155.93 607.6,175.54 606.15,175.37 604.71,175.45 603.26,175.73 601.82,175.62 600.37,174.7 598.92,175.39 597.48,175.44 596.03,175.45 594.58,174.59 593.14,174.74 591.69,174.6 590.25,175.07 588.8,175.32 587.2,169.21 586.3,104.89 585.1,61.32 583.6,81.01 582.6,103.72 580.5,108.23 578.95,106.87 577.4,111.25 574.7,116.42 572.6,111.04 570.5,117.18 568.4,106.68 565.9,121.8 563.8,111.95 561.7,120.83 559.6,115.36 557.6,131.11 555.9,159.68 554.4,153.65 553.4,173.61 551.84,173.59 550.27,173.4 548.71,174.01 547.15,174.45 545.59,173.17 544.02,173.97 542.46,173.22 540.9,174.43 539.46,173.84 538.02,173.86 536.59,173.34 535.15,174.51 533.71,174.41 532.27,173.91 530.84,173.73 529.4,173.96 527.9,156.68 526.3,173.6 524,172.99 522.6,173.89 521.2,173.59 519.8,173.36 518.4,173.77 517,172.65 515.6,174.49 514.2,174.07 512.8,173.01 511.4,173.57 509.67,173.76 507.93,172.16 506.2,171.5 504.6,172.56 503,172.59 501.4,172.97 499.3,131.36 496.8,171.97 494.7,173.46 492.6,173.04 490.55,172.49 488.5,170.57 486.4,171.16 484.3,172.21 482.5,171.08 480.7,169.39 479.7,154.21 478.4,149.77 477,128.4 474.9,122.92 472.8,109.3 470.7,118.82 468.6,112.13 466.5,108.76 464.4,116.73 462.4,102.23 460.3,110.01 458.2,115.24 456.1,101.79 454.6,106.68 453,107.01 451.5,91.91 450.3,78.35 448.4,120.22 446.7,175.17 445.02,175.85 443.35,176.26 441.68,177.02 440,176.65 438.44,175.88 436.88,175.51 435.31,176.46 433.75,176.19 432.19,176.37 430.62,175.38 429.06,175.46 427.5,175.65 425.2,157.35 423.6,167.14 422,175.32 420.54,176.05 419.08,176.32 417.62,175.63 416.17,175.41 414.71,175.3 413.25,176.17 411.79,175.6 410.33,175.83 408.88,175.89 407.42,177.23 405.96,176.68 404.5,176.95 402.93,176.51 401.35,176.63 399.77,175.34 398.2,175.67 396.1,153.74 393.7,174.22 392,173.91 390.3,174.29 388.6,173.4 386.9,174.44 385.27,173.98 383.63,174.65 382,174.74 380.37,174.89 378.73,174.89 377.1,175.02 375.54,175.25 373.98,175.08 372.42,175.74 370.86,175.19 369.3,175.22 367.65,172.59 366,169.98 364.5,172.19 363,173.17 361.5,175.37 359.86,175.76 358.22,175.21 356.58,174.71 354.94,174.68 353.3,175.02 351.3,167.1 348.8,171.71 347.25,170.99 345.7,170.51 343.4,158.77 341.9,165.04 340.4,169.25 338.9,175.21 337.4,173.88 335.9,171.7 334.3,172.67 332.7,174.13 331.1,175.72 329.6,171.05 328.1,167.78 326.2,164.42 323.8,122.4 321.9,119.71 319.3,172.01 317.85,173.26 316.4,173.8 314.8,157.35 312.5,171.35 310.87,172.61 309.23,173.57 307.6,174.05 306.15,171.56 304.7,169.97 303.14,170.15 301.58,170.33 300.02,171.5 298.46,172.13 296.9,172.19 295.34,173.69 293.78,173.39 292.22,173.64 290.66,173.51 289.1,174.73 287.6,168.83 286.1,162.43 284.65,159.69 283.2,156.18 280.9,154.1 278.9,135.14 276.4,172.22 274.77,171.36 273.13,171.06 271.5,170.29 269.9,126.83 268.6,93.15 267.2,122.53 264.6,153.43 262.65,160.86 260.7,167.46 259.25,165.98 257.8,164.41 256.35,139.34 254.9,112.86 252.4,74.88 250.8,135.39 248.9,112.08 246.95,141.12 245,170.18 243.5,166.28 242,161.99 240,172.96 238.3,173.72 236.6,173.68 234.9,173.07 233.2,173.73 231.9,155.14 229.3,170.66 227.7,170.41 226.1,169.73 224.5,169.78 223.03,169.74 221.55,170.23 220.07,170.9 218.6,170.38 216.85,170.14 215.1,168.88 212.7,122.95 211.4,118.31 208.8,159.78 206.9,141.08 205.5,165.22 203.4,168.12 201,160.79 199.55,164.05 198.1,166.6 196.65,168.69 195.2,169.38 193.2,139.94 191.8,140.75 190.9,171.99 190.3,138.65 188.9,108.88 186.4,151.59 184.4,168.72 182.95,165.4 181.5,161.85 180.05,159.61 178.6,157.76 177.2,133.21 175.45,154.77 173.7,176.28 172.18,175.45 170.66,175.88 169.13,176.01 167.61,176.17 166.09,176.19 164.57,177.18 163.04,175.75 161.52,177.08 160,176.97 158.57,175.99 157.14,176.72 155.71,177.41 154.29,176.52 152.86,176.95 151.43,176.55 150,177.54 148.46,176.71 146.92,177.38 145.38,177.65 143.84,177.3 142.3,177.19 140.9,177.64 139.5,175.64 138.1,175.85 136.7,175.26 135.3,176.03 133.9,175.09 132.5,174.9 131.07,173.73 129.63,171.52 128.2,170.04 126.72,170.25 125.24,171.42 123.76,172.32 122.28,172.29 120.8,173.03 118.85,173.42 116.9,172.46 115.45,172.48 114,171.15 112.5,148.71 111,125.97 109,105.48 107.25,134.04 105.5,161.05 102.8,164.71 100.9,122.7 98.3,171.62 96.35,170.86 94.4,170.65 93,142.34 90.5,154.06 88.5,157.35 86.6,153.92 84,160.4 81.7,111.32 80.2,125.5 78.7,138.75 77.2,152.32" fill="rgba(152,78,163,0.2)"/>
<polygon points="76.7,173.33 78.3,173.76 79.9,173.52 81.5,173.85 83.1,173.88 84.7,173.09 86.3,173.02 87.9,174.17 89.5,173.36 91.1,173.33 92.7,174.39 94.3,173.66 95.9,174.17 97.5,173.67 99.1,173.89 100.7,173.21 102.3,173.89 103.9,174.22 105.5,173.73 107.1,174.04 108.7,173.94 110.3,173.09 111.9,174.06 113.5,173.83 115.1,173.42 116.7,173.04 118.3,174.21 119.9,173.66 121.5,174.01 123.1,174.23 124.7,174 126.3,174.29 127.9,173.55 129.5,174.12 131.1,173.62 132.7,174.31 134.3,174.23 135.9,173.14 137.5,173.19 139.1,173.3 140.7,174.35 142.3,173.61 143.9,173.88 145.5,173.42 147.1,173.71 148.7,173.54 150.3,173.49 151.9,173.82 153.5,173.82 155.1,174.27 156.7,173.95 158.3,174.3 159.9,174.2 161.5,174.39 163.1,173.94 164.7,173.23 166.3,174.2 167.9,174.35 169.5,174.27 171.1,173.8 172.7,174 174.3,173.3 175.9,174.16 177.5,173.8 179.1,173.4 180.7,173.09 182.3,174.2 183.9,174.39 185.5,173.12 187.1,174.12 188.7,173.57 190.3,173.21 191.9,173.41 193.5,174.08 195.1,174.22 196.7,173.06 198.3,173.86 199.9,173.06 201.5,174.01 203.1,173.46 204.7,174.23 206.3,174.37 207.9,173.71 209.5,174.4 211.1,173.43 212.7,173.11 214.3,173.84 215.9,173.04 217.5,173.28 219.1,173.57 220.7,173.85 222.3,173.22 223.9,173.06 225.5,174.21 227.1,173.44 228.7,174.34 230.3,174.26 231.9,173.53 233.5,173.64 235.1,173.73 236.7,173.9 238.3,173.83 239.9,173.78 241.5,173.87 243.1,174.32 244.7,173.71 246.3,173.6 247.9,174.01 249.5,173.33 251.1,173.42 252.7,174.37 254.3,173.73 255.9,173.77 257.5,173.02 259.1,173.58 260.7,173.81 262.3,173.03 263.9,173.86 265.5,173.89 267.1,173.08 268.7,173.88 270.3,173.65 271.9,173.95 273.5,173.49 275.1,173.99 276.7,174.03 278.3,173.03 279.9,173.08 281.5,173.95 283.1,174.35 284.7,173.35 286.3,173.64 287.9,173.83 289.5,173.45 291.1,173.51 292.7,173.44 294.3,173.52 295.9,173.83 297.5,173.42 299.1,173.53 300.7,174.08 302.3,173.04 303.9,173.8 305.5,174.03 307.1,173.43 308.7,173.31 310.3,174.13 311.9,173.33 313.5,173.26 315.1,173.61 316.7,173.98 318.3,173.14 319.9,173.45 321.5,173.47 323.1,174.17 324.7,173.61 326.3,174.2 327.9,173.24 329.5,173.47 331.1,173.91 332.7,174.24 334.3,173.63 335.9,173.32 337.5,173.17 339.1,173.74 340.7,173.27 342.3,174.13 343.9,174.17 345.5,173.26 347.1,173.39 348.7,174.13 350.3,173.9 351.9,174.13 353.5,173.48 355.1,173.18 356.7,173.41 358.3,174.11 359.9,173.38 361.5,173.48 363.1,173.58 364.7,173.59 366.3,173.57 367.9,174.29 369.5,173.22 371.1,173.01 372.7,174.32 374.3,174.23 375.9,174.38 377.5,173.61 379.1,174.33 380.7,174.3 382.3,173.31 383.9,174.04 385.5,174.17 387.1,173.93 388.7,173.73 390.3,173.4 391.9,173.48 393.5,173.32 395.1,173.1 396.7,173.82 398.3,173.4 399.9,174.13 401.5,173.06 403.1,174.27 404.7,173.97 406.3,174.29 407.9,174.26 409.5,174.26 411.1,173.81 412.7,173.02 414.3,174.04 415.9,173.24 417.5,173.42 419.1,173.93 420.7,173.73 422.3,173.58 423.9,174.31 425.5,173.86 427.1,173.48 428.7,173.35 430.3,174.21 431.9,173.67 433.5,174.1 435.1,173.49 436.7,173.28 438.3,173.75 439.9,174.14 441.5,173.24 443.1,174.11 444.7,174.29 446.3,174.13 447.9,174.15 449.5,171.51 451.1,172.38 452.7,174.21 454.3,173.07 455.9,173.38 457.5,173.38 459.1,173.74 460.7,173.59 462.3,173.66 463.9,174.09 465.5,173 467.1,173.08 468.7,173.18 470.3,173.17 471.9,173.1 473.5,174.36 475.1,174.2 476.7,173.12 478.3,173.7 479.9,173.44 481.5,173.44 483.1,173.49 484.7,173.91 486.3,173.82 487.9,173.51 489.5,173.27 491.1,173.46 492.7,173.17 494.3,173.78 495.9,174 497.5,173.53 499.1,173.11 500.7,173.25 502.3,173.52 503.9,173.85 505.5,174.1 507.1,173.53 508.7,174.12 510.3,173.87 511.9,173.6 513.5,173.52 515.1,173.69 516.7,173.98 518.3,173.59 519.9,173.97 521.5,173.65 523.1,173.34 524.7,173.75 526.3,173.97 527.9,173.1 529.5,173.59 531.1,173.6 532.7,174.23 534.3,174.31 535.9,173.52 537.5,174.26 539.1,174.11 540.7,173.37 542.3,173.65 543.9,173.17 545.5,174.14 547.1,173.93 548.7,174.24 550.3,174.11 551.9,173.93 553.5,174.03 555.1,173.79 556.7,173.14 558.3,173.82 559.9,173.01 561.5,173.2 563.1,174.08 564.7,173.06 566.3,173.13 567.9,173.14 569.5,174.23 571.1,173.25 572.7,173.03 574.3,174.18 575.9,173.17 577.5,174.18 579.1,173.94 580.7,174.17 582.3,174.33 583.9,173.81 585.5,174.12 587.1,171.55 588.7,172.57 590.3,173.72 591.9,174 593.5,173.15 595.1,174.05 596.7,174.31 598.3,173.09 599.9,173.45 601.5,173.79 603.1,174.16 604.7,173.34 606.3,173.25 607.9,173.35 609.5,173.86 611.1,174.05 612.7,173.55 614.3,173.51 615.9,173.56 617.5,173.49 619.1,173.59 620.7,173.12 622.3,173.7 623.9,174.36 625.5,173.58 627.1,174.05 628.7,173.22 630.3,173.97 631.9,174.06 633.5,173.94 635.1,173.72 636.7,173.68 638.3,173.9 639.9,174.26 641.5,173.21 643.1,173.13 644.7,174.05 646.3,174.28 646.3,176.68 644.7,176.45 643.1,175.53 641.5,175.61 639.9,176.66 638.3,176.3 636.7,176.08 635.1,176.12 633.5,176.34 631.9,176.46 630.3,176.37 628.7,175.62 627.1,176.45 625.5,175.98 623.9,176.76 622.3,176.1 620.7,175.52 619.1,175.99 617.5,175.89 615.9,175.96 614.3,175.91 612.7,175.95 611.1,176.45 609.5,176.26 607.9,175.75 606.3,175.65 604.7,175.74 603.1,176.56 601.5,176.19 599.9,175.85 598.3,175.49 596.7,176.71 595.1,176.45 593.5,175.55 591.9,176.4 590.3,176.12 588.7,174.97 587.1,173.95 585.5,176.52 583.9,176.21 582.3,176.73 580.7,176.57 579.1,176.34 577.5,176.58 575.9,175.57 574.3,176.58 572.7,175.43 571.1,175.65 569.5,176.63 567.9,175.54 566.3,175.53 564.7,175.46 563.1,176.48 561.5,175.6 559.9,175.41 558.3,176.22 556.7,175.54 555.1,176.19 553.5,176.43 551.9,176.33 550.3,176.51 548.7,176.64 547.1,176.33 545.5,176.54 543.9,175.57 542.3,176.05 540.7,175.77 539.1,176.51 537.5,176.66 535.9,175.92 534.3,176.71 532.7,176.63 531.1,176 529.5,175.99 527.9,175.5 526.3,176.37 524.7,176.15 523.1,175.74 521.5,176.05 519.9,176.37 518.3,175.99 516.7,176.38 515.1,176.09 513.5,175.92 511.9,176 510.3,176.27 508.7,176.52 507.1,175.93 505.5,176.5 503.9,176.25 502.3,175.92 500.7,175.65 499.1,175.51 497.5,175.93 495.9,176.4 494.3,176.18 492.7,175.57 491.1,175.86 489.5,175.67 487.9,175.91 486.3,176.22 484.7,176.31 483.1,175.89 481.5,175.84 479.9,175.84 478.3,176.1 476.7,175.52 475.1,176.6 473.5,176.76 471.9,175.5 470.3,175.57 468.7,175.58 467.1,175.48 465.5,175.4 463.9,176.49 462.3,176.06 460.7,175.99 459.1,176.14 457.5,175.78 455.9,175.78 454.3,175.47 452.7,176.61 451.1,174.78 449.5,173.91 447.9,176.55 446.3,176.53 444.7,176.69 443.1,176.51 441.5,175.64 439.9,176.54 438.3,176.15 436.7,175.68 435.1,175.89 433.5,176.5 431.9,176.07 430.3,176.61 428.7,175.75 427.1,175.88 425.5,176.26 423.9,176.71 422.3,175.98 420.7,176.13 419.1,176.33 417.5,175.82 415.9,175.64 414.3,176.44 412.7,175.42 411.1,176.21 409.5,176.66 407.9,176.66 406.3,176.69 404.7,176.37 403.1,176.67 401.5,175.46 399.9,176.53 398.3,175.8 396.7,176.22 395.1,175.5 393.5,175.72 391.9,175.88 390.3,175.8 388.7,176.13 387.1,176.33 385.5,176.57 383.9,176.44 382.3,175.71 380.7,176.7 379.1,176.73 377.5,176.01 375.9,176.78 374.3,176.63 372.7,176.72 371.1,175.41 369.5,175.62 367.9,176.69 366.3,175.97 364.7,175.99 363.1,175.98 361.5,175.88 359.9,175.78 358.3,176.51 356.7,175.81 355.1,175.58 353.5,175.88 351.9,176.53 350.3,176.3 348.7,176.53 347.1,175.79 345.5,175.66 343.9,176.57 342.3,176.53 340.7,175.67 339.1,176.14 337.5,175.57 335.9,175.72 334.3,176.03 332.7,176.64 331.1,176.31 329.5,175.87 327.9,175.64 326.3,176.6 324.7,176.01 323.1,176.57 321.5,175.87 319.9,175.85 318.3,175.54 316.7,176.38 315.1,176.01 313.5,175.66 311.9,175.73 310.3,176.53 308.7,175.71 307.1,175.83 305.5,176.43 303.9,176.2 302.3,175.44 300.7,176.48 299.1,175.93 297.5,175.82 295.9,176.23 294.3,175.92 292.7,175.84 291.1,175.91 289.5,175.85 287.9,176.23 286.3,176.04 284.7,175.75 283.1,176.75 281.5,176.35 279.9,175.48 278.3,175.43 276.7,176.43 275.1,176.39 273.5,175.89 271.9,176.35 270.3,176.05 268.7,176.28 267.1,175.48 265.5,176.29 263.9,176.26 262.3,175.43 260.7,176.21 259.1,175.98 257.5,175.42 255.9,176.17 254.3,176.13 252.7,176.77 251.1,175.82 249.5,175.73 247.9,176.41 246.3,176 244.7,176.11 243.1,176.72 241.5,176.27 239.9,176.18 238.3,176.23 236.7,176.3 235.1,176.13 233.5,176.04 231.9,175.93 230.3,176.66 228.7,176.74 227.1,175.84 225.5,176.61 223.9,175.46 222.3,175.62 220.7,176.25 219.1,175.97 217.5,175.68 215.9,175.44 214.3,176.24 212.7,175.51 211.1,175.83 209.5,176.8 207.9,176.11 206.3,176.77 204.7,176.63 203.1,175.86 201.5,176.41 199.9,175.46 198.3,176.26 196.7,175.46 195.1,176.62 193.5,176.48 191.9,175.81 190.3,175.61 188.7,175.97 187.1,176.52 185.5,175.52 183.9,176.79 182.3,176.6 180.7,175.49 179.1,175.8 177.5,176.2 175.9,176.56 174.3,175.7 172.7,176.4 171.1,176.2 169.5,176.67 167.9,176.75 166.3,176.6 164.7,175.63 163.1,176.34 161.5,176.79 159.9,176.6 158.3,176.7 156.7,176.35 155.1,176.67 153.5,176.22 151.9,176.22 150.3,175.89 148.7,175.94 147.1,176.11 145.5,175.82 143.9,176.28 142.3,176.01 140.7,176.75 139.1,175.7 137.5,175.59 135.9,175.54 134.3,176.63 132.7,176.71 131.1,176.02 129.5,176.52 127.9,175.95 126.3,176.69 124.7,176.4 123.1,176.63 121.5,176.41 119.9,176.06 118.3,176.61 116.7,175.44 115.1,175.82 113.5,176.23 111.9,176.46 110.3,175.49 108.7,176.34 107.1,176.44 105.5,176.13 103.9,176.62 102.3,176.29 100.7,175.61 99.1,176.29 97.5,176.07 95.9,176.57 94.3,176.06 92.7,176.79 91.1,175.73 89.5,175.76 87.9,176.57 86.3,175.42 84.7,175.49 83.1,176.28 81.5,176.25 79.9,175.92 78.3,176.16 76.7,175.73" fill="rgba(77,175,74,0.2)"/>
<polyline points="76.7,174.53 78.3,174.96 79.9,174.72 81.5,175.05 83.1,175.08 84.7,174.29 86.3,174.22 87.9,175.37 89.5,174.56 91.1,174.53 92.7,175.59 94.3,174.86 95.9,175.37 97.5,174.87 99.1,175.09 100.7,174.41 102.3,175.09 103.9,175.42 105.5,174.93 107.1,175.24 108.7,175.14 110.3,174.29 111.9,175.26 113.5,175.03 115.1,174.62 116.7,174.24 118.3,175.41 119.9,174.86 121.5,175.21 123.1,175.43 124.7,175.2 126.3,175.49 127.9,174.75 129.5,175.32 131.1,174.82 132.7,175.51 134.3,175.43 135.9,174.34 137.5,174.39 139.1,174.5 140.7,175.55 142.3,174.81 143.9,175.08 145.5,174.62 147.1,174.91 148.7,174.74 150.3,174.69 151.9,175.02 153.5,175.02 155.1,175.47 156.7,175.15 158.3,175.5 159.9,175.4 161.5,175.59 163.1,175.14 164.7,174.43 166.3,175.4 167.9,175.55 169.5,175.47 171.1,175 172.7,175.2 174.3,174.5 175.9,175.36 177.5,175 179.1,174.6 180.7,174.29 182.3,175.4 183.9,175.59 185.5,174.32 187.1,175.32 188.7,174.77 190.3,174.41 191.9,174.61 193.5,175.28 195.1,175.42 196.7,174.26 198.3,175.06 199.9,174.26 201.5,175.21 203.1,174.66 204.7,175.43 206.3,175.57 207.9,174.91 209.5,175.6 211.1,174.63 212.7,174.31 214.3,175.04 215.9,174.24 217.5,174.48 219.1,174.77 220.7,175.05 222.3,174.42 223.9,174.26 225.5,175.41 227.1,174.64 228.7,175.54 230.3,175.46 231.9,174.73 233.5,174.84 235.1,174.93 236.7,175.1 238.3,175.03 239.9,174.98 241.5,175.07 243.1,175.52 244.7,174.91 246.3,174.8 247.9,175.21 249.5,174.53 251.1,174.62 252.7,175.57 254.3,174.93 255.9,174.97 257.5,174.22 259.1,174.78 260.7,175.01 262.3,174.23 263.9,175.06 265.5,175.09 267.1,174.28 268.7,175.08 270.3,174.85 271.9,175.15 273.5,174.69 275.1,175.19 276.7,175.23 278.3,174.23 279.9,174.28 281.5,175.15 283.1,175.55 284.7,174.55 286.3,174.84 287.9,175.03 289.5,174.65 291.1,174.71 292.7,174.64 294.3,174.72 295.9,175.03 297.5,174.62 299.1,174.73 300.7,175.28 302.3,174.24 303.9,175 305.5,175.23 307.1,174.63 308.7,174.51 310.3,175.33 311.9,174.53 313.5,174.46 315.1,174.81 316.7,175.18 318.3,174.34 319.9,174.65 321.5,174.67 323.1,175.37 324.7,174.81 326.3,175.4 327.9,174.44 329.5,174.67 331.1,175.11 332.7,175.44 334.3,174.83 335.9,174.52 337.5,174.37 339.1,174.94 340.7,174.47 342.3,175.33 343.9,175.37 345.5,174.46 347.1,174.59 348.7,175.33 350.3,175.1 351.9,175.33 353.5,174.68 355.1,174.38 356.7,174.61 358.3,175.31 359.9,174.58 361.5,174.68 363.1,174.78 364.7,174.79 366.3,174.77 367.9,175.49 369.5,174.42 371.1,174.21 372.7,175.52 374.3,175.43 375.9,175.58 377.5,174.81 379.1,175.53 380.7,175.5 382.3,174.51 383.9,175.24 385.5,175.37 387.1,175.13 388.7,174.93 390.3,174.6 391.9,174.68 393.5,174.52 395.1,174.3 396.7,175.02 398.3,174.6 399.9,175.33 401.5,174.26 403.1,175.47 404.7,175.17 406.3,175.49 407.9,175.46 409.5,175.46 411.1,175.01 412.7,174.22 414.3,175.24 415.9,174.44 417.5,174.62 419.1,175.13 420.7,174.93 422.3,174.78 423.9,175.51 425.5,175.06 427.1,174.68 428.7,174.55 430.3,175.41 431.9,174.87 433.5,175.3 435.1,174.69 436.7,174.48 438.3,174.95 439.9,175.34 441.5,174.44 443.1,175.31 444.7,175.49 446.3,175.33 447.9,175.35 449.5,172.71 451.1,173.58 452.7,175.41 454.3,174.27 455.9,174.58 457.5,174.58 459.1,174.94 460.7,174.79 462.3,174.86 463.9,175.29 465.5,174.2 467.1,174.28 468.7,174.38 470.3,174.37 471.9,174.3 473.5,175.56 475.1,175.4 476.7,174.32 478.3,174.9 479.9,174.64 481.5,174.64 483.1,174.69 484.7,175.11 486.3,175.02 487.9,174.71 489.5,174.47 491.1,174.66 492.7,174.37 494.3,174.98 495.9,175.2 497.5,174.73 499.1,174.31 500.7,174.45 502.3,174.72 503.9,175.05 505.5,175.3 507.1,174.73 508.7,175.32 510.3,175.07 511.9,174.8 513.5,174.72 515.1,174.89 516.7,175.18 518.3,174.79 519.9,175.17 521.5,174.85 523.1,174.54 524.7,174.95 526.3,175.17 527.9,174.3 529.5,174.79 531.1,174.8 532.7,175.43 534.3,175.51 535.9,174.72 537.5,175.46 539.1,175.31 540.7,174.57 542.3,174.85 543.9,174.37 545.5,175.34 547.1,175.13 548.7,175.44 550.3,175.31 551.9,175.13 553.5,175.23 555.1,174.99 556.7,174.34 558.3,175.02 559.9,174.21 561.5,174.4 563.1,175.28 564.7,174.26 566.3,174.33 567.9,174.34 569.5,175.43 571.1,174.45 572.7,174.23 574.3,175.38 575.9,174.37 577.5,175.38 579.1,175.14 580.7,175.37 582.3,175.53 583.9,175.01 585.5,175.32 587.1,172.75 588.7,173.77 590.3,174.92 591.9,175.2 593.5,174.35 595.1,175.25 596.7,175.51 598.3,174.29 599.9,174.65 601.5,174.99 603.1,175.36 604.7,174.54 606.3,174.45 607.9,174.55 609.5,175.06 611.1,175.25 612.7,174.75 614.3,174.71 615.9,174.76 617.5,174.69 619.1,174.79 620.7,174.32 622.3,174.9 623.9,175.56 625.5,174.78 627.1,175.25 628.7,174.42 630.3,175.17 631.9,175.26 633.5,175.14 635.1,174.92 636.7,174.88 638.3,175.1 639.9,175.46 641.5,174.41 643.1,174.33 644.7,175.25 646.3,175.48" fill="none" stroke="#4daf4a" stroke-width="1.8" stroke-linejoin="round" stroke-linecap="round"/>
<polyline points="77.6,150.5 79.1,137.14 80.6,122 82.1,108.5 84.4,160.1 87,152.4 88.9,156.3 90.9,152.4 93.4,140.7 94.8,170 96.75,169.83 98.7,171 101.3,119.2 103.2,164.1 105.9,160.1 107.65,132.05 109.4,102.6 111.4,123.1 112.9,146.61 114.4,171 115.85,170.97 117.3,172 119.25,172.66 121.2,172.9 122.68,172.1 124.16,172.29 125.64,170.78 127.12,171.22 128.6,170 130.03,171.38 131.47,173.41 132.9,174.9 134.3,175.78 135.7,175.7 137.1,176.31 138.5,176.28 139.9,175.62 141.3,177.06 142.7,176.8 144.24,176.99 145.78,176.65 147.32,176.55 148.86,177.53 150.4,177.1 151.83,177.14 153.26,177.57 154.69,177.27 156.11,177.46 157.54,176.84 158.97,176.95 160.4,176.6 161.92,176.68 163.44,176.11 164.97,177.01 166.49,176.03 168.01,176.6 169.53,176.77 171.06,176.27 172.58,175.48 174.1,175.9 175.85,154.36 177.6,131.9 179,156.3 180.45,158.98 181.9,161.2 183.35,164.21 184.8,168.1 186.8,150.5 189.3,100.5 190.7,136.8 191.3,172 192.2,137.8 193.6,138.8 195.6,169 197.05,166.92 198.5,166.1 199.95,163.19 201.4,160.2 203.8,167.1 205.9,164.1 207.3,138.8 209.2,158.3 211.8,115.3 213.1,119.2 215.5,168.1 217.25,168.4 219,170 220.47,170.37 221.95,169.56 223.43,169.35 224.9,169.1 226.5,169.27 228.1,169.93 229.7,170 232.3,154.4 233.6,173.9 235.3,174.23 237,173.13 238.7,172.97 240.4,172.9 242.4,161.2 243.9,165.72 245.4,170 247.35,138.47 249.3,107.5 251.2,132.9 252.8,68.3 255.3,109.5 256.75,136.93 258.2,164.1 259.65,165.66 261.1,167.1 263.05,159.66 265,152.4 267.6,119.2 269,85.2 270.3,123.1 271.9,170 273.53,170.91 275.17,171.37 276.8,172 279.3,132.9 281.3,152.4 283.6,154.4 285.05,157.72 286.5,162.2 288,169.25 289.5,174.9 291.06,174.12 292.62,173.64 294.18,173.02 295.74,173.18 297.3,172 298.86,172.05 300.42,170.86 301.98,170.12 303.54,169.12 305.1,169.1 306.55,172.05 308,173.9 309.63,172.47 311.27,172.03 312.9,171 315.2,156.3 316.8,173.9 318.25,172.74 319.7,172 322.3,116.3 324.2,119.2 326.6,164.1 328.5,167.1 330,171.26 331.5,175.9 333.1,174.07 334.7,172.2 336.3,171 337.8,172.3 339.3,174.9 340.8,169.42 342.3,164.25 343.8,158.3 346.1,170 347.65,170.71 349.2,171 351.7,166.1 353.7,174.9 355.34,174.48 356.98,175.17 358.62,174.27 360.26,174.78 361.9,174.9 363.4,173.59 364.9,171.96 366.4,169.6 368.05,172.19 369.7,174.9 371.26,175.31 372.82,174.74 374.38,174.69 375.94,174.7 377.5,174.5 379.13,175.09 380.77,174.64 382.4,174.16 384.03,174.42 385.67,174.2 387.3,173.9 389,173.7 390.7,174.3 392.4,174.35 394.1,173.9 396.5,147 398.6,175.9 400.17,176.2 401.75,176.82 403.32,175.68 404.9,176.5 406.36,176.42 407.82,176.52 409.27,176.03 410.73,175.71 412.19,176.35 413.65,175.91 415.11,175.59 416.57,175.19 418.02,176.4 419.48,175.46 420.94,175.05 422.4,175.5 424,165.8 425.6,156.9 427.9,175.5 429.46,175.28 431.02,176.26 432.59,175.43 434.15,175.69 435.71,175.56 437.27,176.21 438.84,175.97 440.4,176.5 442.07,175.93 443.75,176.13 445.42,176.05 447.1,175.1 448.8,114.6 450.7,54 451.9,70 453.4,88 455,90 456.5,84 458.6,96 460.7,90 462.8,84 464.8,93 466.9,88 469,92 471.1,97 473.2,89 475.3,102 477.4,113 478.8,140 480.1,148 481.1,168.9 482.9,170.92 484.7,172 486.8,170.65 488.9,170.6 490.95,171.68 493,173.1 495.1,173.04 497.2,172 499.7,126 501.8,173.1 503.4,171.88 505,171.55 506.6,171.4 508.33,172.09 510.07,172.64 511.8,173.5 513.2,173.81 514.6,173.72 516,173.32 517.4,172.97 518.8,172.9 520.2,172.91 521.6,172.58 523,173.38 524.4,173.1 526.7,173 528.3,155.2 529.8,173.6 531.24,173.17 532.67,174.25 534.11,173.95 535.55,173.18 536.99,173.85 538.42,174.05 539.86,173.31 541.3,174 542.86,173.86 544.42,173.09 545.99,174 547.55,172.81 549.11,173.56 550.67,173.93 552.24,174 553.8,173 554.8,146 556.3,152 558,118 560,98.9 562.1,96.8 564.2,98.9 566.3,94.7 568.8,92.6 570.9,88.4 573,86.3 575.1,96.8 577.8,94.7 579.35,91.93 580.9,90.5 583,92 584,68 585.5,48.8 586.7,90 587.6,168.8 589.2,175.1 590.65,175.15 592.09,174.6 593.54,174.88 594.98,175.61 596.43,175.54 597.88,174.41 599.32,174.93 600.77,175.3 602.22,174.65 603.66,175.52 605.11,175.65 606.55,175.17 608,175.1 610.1,155.2 612.2,174.6 613.61,174.41 615.02,175.09 616.44,174.62 617.85,174.16 619.26,174.29 620.67,174.12 622.08,175.07 623.49,174.61 624.91,174.88 626.32,175.04 627.73,175.26 629.14,174.17 630.55,174.47 631.96,175.12 633.38,174.97 634.79,174.44 636.2,174.6 637.75,160.92 639.3,146.8 641.4,173 642.95,173.37 644.5,174.6 647.3,170.5" fill="none" stroke="#377eb8" stroke-width="2.3" stroke-linejoin="round" stroke-linecap="round"/>
<polyline points="77.2,149.4 78.7,134.93 80.2,121.67 81.7,107.4 84,159 86.6,151.3 88.5,155.2 90.5,151.3 93,139.6 94.4,168.9 96.35,169.59 98.3,169.9 100.9,118.1 102.8,163 105.5,159 107.25,130.22 109,101.5 111,122 112.5,145.55 114,169.9 115.45,170.81 116.9,170.9 118.85,171.78 120.8,171.8 122.28,171.24 123.76,170.65 125.24,169.69 126.72,168.78 128.2,168.9 129.63,170.35 131.07,172.29 132.5,173.8 133.9,173.47 135.3,174.75 136.7,174.24 138.1,174.51 139.5,174.52 140.9,176.13 142.3,175.7 143.84,176.09 145.38,176.35 146.92,176.04 148.46,175.29 150,176 151.43,175.69 152.86,175.85 154.29,175.25 155.71,176.35 157.14,175.46 158.57,175.09 160,175.5 161.52,175.87 163.04,174.82 164.57,175.87 166.09,175.12 167.61,175.18 169.13,174.81 170.66,174.93 172.18,174.44 173.7,174.8 175.45,152.15 177.2,130.8 178.6,155.2 180.05,158.16 181.5,160.1 182.95,163.18 184.4,167 186.4,149.4 188.9,104.5 190.3,135.7 190.9,170.9 191.8,136.7 193.2,137.7 195.2,167.9 196.65,166.84 198.1,165 199.55,161.64 201,159.1 203.4,166 205.5,163 206.9,137.7 208.8,157.2 211.4,114.2 212.7,118.1 215.1,167 216.85,168.61 218.6,168.9 220.07,169.23 221.55,168.81 223.03,168.59 224.5,168 226.1,168.41 227.7,168.92 229.3,168.9 231.9,153.3 233.2,172.8 234.9,172.02 236.6,172.27 238.3,172.51 240,171.8 242,160.1 243.5,164.08 245,168.9 246.95,138.24 248.9,106.4 250.8,131.8 252.4,69.3 254.9,108.4 256.35,136.24 257.8,163 259.25,164.37 260.7,166 262.65,158.46 264.6,151.3 267.2,118.1 268.6,85.9 269.9,122 271.5,168.9 273.13,169.5 274.77,170.07 276.4,170.9 278.9,131.8 280.9,151.3 283.2,153.3 284.65,157.89 286.1,161.1 287.6,167.29 289.1,173.8 290.66,172.56 292.22,172.07 293.78,172.37 295.34,172.17 296.9,170.9 298.46,170.31 300.02,169.73 301.58,169.23 303.14,168.93 304.7,168 306.15,170.01 307.6,172.8 309.23,171.99 310.87,170.95 312.5,169.9 314.8,155.2 316.4,172.8 317.85,172.02 319.3,170.9 321.9,115.2 323.8,118.1 326.2,163 328.1,166 329.6,169.95 331.1,174.8 332.7,172.7 334.3,171.32 335.9,169.9 337.4,172.45 338.9,173.8 340.4,168.05 341.9,162.87 343.4,157.2 345.7,168.9 347.25,169.13 348.8,169.9 351.3,165 353.3,173.8 354.94,173.24 356.58,173.19 358.22,174.24 359.86,174.19 361.5,173.8 363,171.86 364.5,170.52 366,168.5 367.65,171.4 369.3,173.8 370.86,174.28 372.42,174.28 373.98,173.43 375.54,174.16 377.1,173.4 378.73,173.95 380.37,173.33 382,173.64 383.63,172.99 385.27,172.73 386.9,172.8 388.6,172.45 390.3,173.33 392,172.33 393.7,172.8 396.1,151.3 398.2,174.8 399.77,174.35 401.35,175.53 402.93,175.63 404.5,175.4 405.96,175.29 407.42,175.71 408.88,174.52 410.33,174.73 411.79,174.69 413.25,174.79 414.71,174.36 416.17,174.13 417.62,174.42 419.08,175.13 420.54,175.16 422,174.4 423.6,165.44 425.2,155.8 427.5,174.4 429.06,174.5 430.62,174.3 432.19,175.42 433.75,174.94 435.31,175.35 436.88,174.49 438.44,174.87 440,175.4 441.68,175.52 443.35,175.11 445.02,174.88 446.7,174 448.4,113.5 450.3,64.4 451.5,78 453,96.8 454.6,98.9 456.1,92.6 458.2,107.2 460.3,101 462.4,92.6 464.4,105.2 466.5,98.9 468.6,102 470.7,109.3 472.8,98.9 474.9,113.5 477,121.9 478.4,144.8 479.7,149 480.7,167.8 482.5,169.49 484.3,170.9 486.4,170.1 488.5,169.5 490.55,170.86 492.6,172 494.7,171.94 496.8,170.9 499.3,128.1 501.4,172 503,171.16 504.6,170.91 506.2,170.3 507.93,170.69 509.67,172.08 511.4,172.4 512.8,171.67 514.2,172.57 515.6,172.9 517,171.56 518.4,172.31 519.8,172.33 521.2,172.58 522.6,172.16 524,172 526.3,171.9 527.9,154.1 529.4,172.5 530.84,172.21 532.27,172.47 533.71,173.29 535.15,173.27 536.59,172.24 538.02,172.23 539.46,172.28 540.9,172.9 542.46,172.11 544.02,172.58 545.59,172.02 547.15,172.91 548.71,172.49 550.27,171.63 551.84,172.08 553.4,171.9 554.4,148.9 555.9,157.3 557.6,123.9 559.6,109.3 561.7,113.5 563.8,105.1 565.9,111.4 568.4,99.9 570.5,106.2 572.6,98.9 574.7,108.2 577.4,99.9 578.95,99.96 580.5,100.9 582.6,96.8 583.6,71.7 585.1,50.9 586.3,92.6 587.2,167.7 588.8,174 590.25,173.99 591.69,173.61 593.14,173.53 594.58,173.56 596.03,173.83 597.48,174.29 598.92,174.07 600.37,173.36 601.82,174.3 603.26,174.52 604.71,174.38 606.15,174.41 607.6,174 609.7,154.1 611.8,173.5 613.21,172.81 614.62,173.45 616.04,172.89 617.45,173.87 618.86,173.05 620.27,173.8 621.68,173.15 623.09,173.78 624.51,173.24 625.92,172.86 627.33,173.34 628.74,173.23 630.15,174.06 631.56,173.21 632.98,173.5 634.39,173.57 635.8,173.5 637.35,162.38 638.9,150 641,171.9 642.55,172.14 644.1,173.5 646.9,169.4" fill="none" stroke="#984ea3" stroke-width="2.3" stroke-linejoin="round" stroke-linecap="round"/>
<rect x="58.3" y="58.8" width="19.7" height="19.2" fill="rgba(55,126,184,0.2)" stroke="none" stroke-width="0.5" rx="0"/>
<line x1="59.2" y1="68.3" x2="77" y2="68.3" stroke="#377eb8" stroke-width="1.4"/>
<text x="85.8" y="71.8" font-size="10" text-anchor="start" fill="#000" stroke="#000" stroke-width="0.25">αRpoB Col0</text>
<rect x="58.3" y="80.4" width="19.7" height="19.2" fill="rgba(152,78,163,0.2)" stroke="none" stroke-width="0.5" rx="0"/>
<line x1="59.2" y1="89.9" x2="77" y2="89.9" stroke="#984ea3" stroke-width="1.4"/>
<text x="85.8" y="93.4" font-size="10" text-anchor="start" fill="#000" stroke="#000" stroke-width="0.25">αPAP1 Col0</text>
<rect x="58.3" y="102.1" width="19.7" height="19.2" fill="rgba(77,175,74,0.2)" stroke="none" stroke-width="0.5" rx="0"/>
<line x1="59.2" y1="111.6" x2="77" y2="111.6" stroke="#4daf4a" stroke-width="1.4"/>
<text x="85.8" y="115.1" font-size="10" text-anchor="start" fill="#000" stroke="#000" stroke-width="0.25">αPAP1 <tspan font-style="italic">pap1</tspan></text>
<text x="-0.3" y="234.1" font-size="17" text-anchor="start" fill="#000" stroke="#000" stroke-width="0.25">B</text>
<clipPath id="clipB"><rect x="48.6" y="236.4" width="268.09999999999997" height="200.4"/></clipPath>
<line x1="101.2" y1="236.4" x2="101.2" y2="436.8" stroke="#e4e4e4" stroke-width="1"/>
<line x1="48.6" y1="397.6" x2="316.7" y2="397.6" stroke="#e4e4e4" stroke-width="1"/>
<line x1="182.3" y1="236.4" x2="182.3" y2="436.8" stroke="#e4e4e4" stroke-width="1"/>
<line x1="48.6" y1="336.5" x2="316.7" y2="336.5" stroke="#e4e4e4" stroke-width="1"/>
<line x1="263.4" y1="236.4" x2="263.4" y2="436.8" stroke="#e4e4e4" stroke-width="1"/>
<line x1="48.6" y1="275.4" x2="316.7" y2="275.4" stroke="#e4e4e4" stroke-width="1"/>
<g clip-path="url(#clipB)">
<line x1="90.03" y1="386.46" x2="110.17" y2="386.46" stroke="rgba(102,194,165,0.45)" stroke-width="1.3"/>
<line x1="100.1" y1="376.98" x2="100.1" y2="395.94" stroke="rgba(102,194,165,0.45)" stroke-width="1.3"/>
<line x1="86.57" y1="386.65" x2="107.71" y2="386.65" stroke="rgba(102,194,165,0.45)" stroke-width="1.3"/>
<line x1="97.14" y1="376.95" x2="97.14" y2="396.35" stroke="rgba(102,194,165,0.45)" stroke-width="1.3"/>
<line x1="78.41" y1="398.91" x2="101.75" y2="398.91" stroke="rgba(102,194,165,0.45)" stroke-width="1.3"/>
<line x1="90.08" y1="387.57" x2="90.08" y2="410.26" stroke="rgba(102,194,165,0.45)" stroke-width="1.3"/>
<line x1="85.66" y1="397.87" x2="99.29" y2="397.87" stroke="rgba(102,194,165,0.45)" stroke-width="1.3"/>
<line x1="92.47" y1="386.39" x2="92.47" y2="409.34" stroke="rgba(102,194,165,0.45)" stroke-width="1.3"/>
<line x1="80.88" y1="403.86" x2="110.56" y2="403.86" stroke="rgba(102,194,165,0.45)" stroke-width="1.3"/>
<line x1="95.72" y1="391.14" x2="95.72" y2="416.58" stroke="rgba(102,194,165,0.45)" stroke-width="1.3"/>
<line x1="87.8" y1="401.64" x2="102.63" y2="401.64" stroke="rgba(102,194,165,0.45)" stroke-width="1.3"/>
<line x1="95.21" y1="396.52" x2="95.21" y2="406.76" stroke="rgba(102,194,165,0.45)" stroke-width="1.3"/>
<line x1="81.81" y1="402.86" x2="97.23" y2="402.86" stroke="rgba(102,194,165,0.45)" stroke-width="1.3"/>
<line x1="89.52" y1="395.92" x2="89.52" y2="409.79" stroke="rgba(102,194,165,0.45)" stroke-width="1.3"/>
<line x1="81.51" y1="403.56" x2="101.44" y2="403.56" stroke="rgba(102,194,165,0.45)" stroke-width="1.3"/>
<line x1="91.48" y1="391.82" x2="91.48" y2="415.3" stroke="rgba(102,194,165,0.45)" stroke-width="1.3"/>
<line x1="88.83" y1="395.41" x2="109.83" y2="395.41" stroke="rgba(102,194,165,0.45)" stroke-width="1.3"/>
<line x1="99.33" y1="385.11" x2="99.33" y2="405.71" stroke="rgba(102,194,165,0.45)" stroke-width="1.3"/>
<line x1="85.88" y1="397.13" x2="115.84" y2="397.13" stroke="rgba(102,194,165,0.45)" stroke-width="1.3"/>
<line x1="100.86" y1="384.17" x2="100.86" y2="410.1" stroke="rgba(102,194,165,0.45)" stroke-width="1.3"/>
<line x1="87.42" y1="395.58" x2="105.09" y2="395.58" stroke="rgba(102,194,165,0.45)" stroke-width="1.3"/>
<line x1="96.26" y1="388.74" x2="96.26" y2="402.42" stroke="rgba(102,194,165,0.45)" stroke-width="1.3"/>
<line x1="85.59" y1="396.85" x2="111.38" y2="396.85" stroke="rgba(102,194,165,0.45)" stroke-width="1.3"/>
<line x1="98.49" y1="388.64" x2="98.49" y2="405.05" stroke="rgba(102,194,165,0.45)" stroke-width="1.3"/>
<line x1="84.48" y1="398.54" x2="113.72" y2="398.54" stroke="rgba(102,194,165,0.45)" stroke-width="1.3"/>
<line x1="99.1" y1="386.76" x2="99.1" y2="410.32" stroke="rgba(102,194,165,0.45)" stroke-width="1.3"/>
<line x1="88.83" y1="399.29" x2="117.21" y2="399.29" stroke="rgba(102,194,165,0.45)" stroke-width="1.3"/>
<line x1="103.02" y1="390.53" x2="103.02" y2="408.05" stroke="rgba(102,194,165,0.45)" stroke-width="1.3"/>
<line x1="98.96" y1="387.98" x2="112.27" y2="387.98" stroke="rgba(102,194,165,0.45)" stroke-width="1.3"/>
<line x1="105.61" y1="377.94" x2="105.61" y2="398.01" stroke="rgba(102,194,165,0.45)" stroke-width="1.3"/>
<line x1="99.57" y1="389.93" x2="113.14" y2="389.93" stroke="rgba(102,194,165,0.45)" stroke-width="1.3"/>
<line x1="106.36" y1="382.27" x2="106.36" y2="397.59" stroke="rgba(102,194,165,0.45)" stroke-width="1.3"/>
<line x1="99.54" y1="388.54" x2="113.67" y2="388.54" stroke="rgba(102,194,165,0.45)" stroke-width="1.3"/>
<line x1="106.6" y1="381.57" x2="106.6" y2="395.51" stroke="rgba(102,194,165,0.45)" stroke-width="1.3"/>
<line x1="95.26" y1="390.09" x2="121.61" y2="390.09" stroke="rgba(102,194,165,0.45)" stroke-width="1.3"/>
<line x1="108.44" y1="383.67" x2="108.44" y2="396.51" stroke="rgba(102,194,165,0.45)" stroke-width="1.3"/>
<line x1="99.01" y1="397.87" x2="114.44" y2="397.87" stroke="rgba(102,194,165,0.45)" stroke-width="1.3"/>
<line x1="106.72" y1="387.02" x2="106.72" y2="408.73" stroke="rgba(102,194,165,0.45)" stroke-width="1.3"/>
<line x1="100" y1="396.38" x2="114.1" y2="396.38" stroke="rgba(102,194,165,0.45)" stroke-width="1.3"/>
<line x1="107.05" y1="388.01" x2="107.05" y2="404.75" stroke="rgba(102,194,165,0.45)" stroke-width="1.3"/>
<line x1="92.98" y1="386.44" x2="122.45" y2="386.44" stroke="rgba(102,194,165,0.45)" stroke-width="1.3"/>
<line x1="107.72" y1="375.01" x2="107.72" y2="397.87" stroke="rgba(102,194,165,0.45)" stroke-width="1.3"/>
<line x1="102.02" y1="385.47" x2="117.81" y2="385.47" stroke="rgba(102,194,165,0.45)" stroke-width="1.3"/>
<line x1="109.92" y1="377.31" x2="109.92" y2="393.62" stroke="rgba(102,194,165,0.45)" stroke-width="1.3"/>
<line x1="94.45" y1="392.03" x2="108.26" y2="392.03" stroke="rgba(102,194,165,0.45)" stroke-width="1.3"/>
<line x1="101.35" y1="379.12" x2="101.35" y2="404.95" stroke="rgba(102,194,165,0.45)" stroke-width="1.3"/>
<line x1="88.73" y1="391.29" x2="114.64" y2="391.29" stroke="rgba(102,194,165,0.45)" stroke-width="1.3"/>
<line x1="101.69" y1="383.66" x2="101.69" y2="398.93" stroke="rgba(102,194,165,0.45)" stroke-width="1.3"/>
<line x1="105.06" y1="388.61" x2="118.68" y2="388.61" stroke="rgba(102,194,165,0.45)" stroke-width="1.3"/>
<line x1="111.87" y1="378.94" x2="111.87" y2="398.27" stroke="rgba(102,194,165,0.45)" stroke-width="1.3"/>
<line x1="105.39" y1="388.13" x2="124.08" y2="388.13" stroke="rgba(102,194,165,0.45)" stroke-width="1.3"/>
<line x1="114.74" y1="379.51" x2="114.74" y2="396.76" stroke="rgba(102,194,165,0.45)" stroke-width="1.3"/>
<line x1="102.16" y1="378.82" x2="124.5" y2="378.82" stroke="rgba(102,194,165,0.45)" stroke-width="1.3"/>
<line x1="113.33" y1="366.88" x2="113.33" y2="390.75" stroke="rgba(102,194,165,0.45)" stroke-width="1.3"/>
<line x1="99.42" y1="378.96" x2="127.77" y2="378.96" stroke="rgba(102,194,165,0.45)" stroke-width="1.3"/>
<line x1="113.6" y1="367.42" x2="113.6" y2="390.5" stroke="rgba(102,194,165,0.45)" stroke-width="1.3"/>
<line x1="103.13" y1="378.9" x2="128.44" y2="378.9" stroke="rgba(102,194,165,0.45)" stroke-width="1.3"/>
<line x1="115.79" y1="366.38" x2="115.79" y2="391.42" stroke="rgba(102,194,165,0.45)" stroke-width="1.3"/>
<line x1="102.75" y1="375.52" x2="130.63" y2="375.52" stroke="rgba(102,194,165,0.45)" stroke-width="1.3"/>
<line x1="116.69" y1="365.69" x2="116.69" y2="385.34" stroke="rgba(102,194,165,0.45)" stroke-width="1.3"/>
<line x1="114.31" y1="377.92" x2="127" y2="377.92" stroke="rgba(102,194,165,0.45)" stroke-width="1.3"/>
<line x1="120.65" y1="365.22" x2="120.65" y2="390.62" stroke="rgba(102,194,165,0.45)" stroke-width="1.3"/>
<line x1="113.77" y1="376.27" x2="130.4" y2="376.27" stroke="rgba(102,194,165,0.45)" stroke-width="1.3"/>
<line x1="122.09" y1="364.68" x2="122.09" y2="387.86" stroke="rgba(102,194,165,0.45)" stroke-width="1.3"/>
<line x1="112" y1="381.81" x2="127.15" y2="381.81" stroke="rgba(102,194,165,0.45)" stroke-width="1.3"/>
<line x1="119.58" y1="371.05" x2="119.58" y2="392.58" stroke="rgba(102,194,165,0.45)" stroke-width="1.3"/>
<line x1="110.72" y1="382.02" x2="132.79" y2="382.02" stroke="rgba(102,194,165,0.45)" stroke-width="1.3"/>
<line x1="121.76" y1="370.2" x2="121.76" y2="393.84" stroke="rgba(102,194,165,0.45)" stroke-width="1.3"/>
<line x1="109.11" y1="379.28" x2="137.62" y2="379.28" stroke="rgba(102,194,165,0.45)" stroke-width="1.3"/>
<line x1="123.37" y1="372.64" x2="123.37" y2="385.91" stroke="rgba(102,194,165,0.45)" stroke-width="1.3"/>
<line x1="113.99" y1="379.68" x2="134.02" y2="379.68" stroke="rgba(102,194,165,0.45)" stroke-width="1.3"/>
<line x1="124.01" y1="374.19" x2="124.01" y2="385.16" stroke="rgba(102,194,165,0.45)" stroke-width="1.3"/>
<line x1="106.9" y1="381.76" x2="129.2" y2="381.76" stroke="rgba(102,194,165,0.45)" stroke-width="1.3"/>
<line x1="118.05" y1="375.71" x2="118.05" y2="387.82" stroke="rgba(102,194,165,0.45)" stroke-width="1.3"/>
<line x1="104.54" y1="380.54" x2="134.19" y2="380.54" stroke="rgba(102,194,165,0.45)" stroke-width="1.3"/>
<line x1="119.36" y1="370.28" x2="119.36" y2="390.79" stroke="rgba(102,194,165,0.45)" stroke-width="1.3"/>
<line x1="114.81" y1="376.44" x2="129.33" y2="376.44" stroke="rgba(102,194,165,0.45)" stroke-width="1.3"/>
<line x1="122.07" y1="371.16" x2="122.07" y2="381.72" stroke="rgba(102,194,165,0.45)" stroke-width="1.3"/>
<line x1="109.78" y1="375.34" x2="134.39" y2="375.34" stroke="rgba(102,194,165,0.45)" stroke-width="1.3"/>
<line x1="122.09" y1="362.64" x2="122.09" y2="388.05" stroke="rgba(102,194,165,0.45)" stroke-width="1.3"/>
<line x1="116.34" y1="372.8" x2="137.02" y2="372.8" stroke="rgba(102,194,165,0.45)" stroke-width="1.3"/>
<line x1="126.68" y1="361.95" x2="126.68" y2="383.64" stroke="rgba(102,194,165,0.45)" stroke-width="1.3"/>
<line x1="121.67" y1="372.4" x2="135.03" y2="372.4" stroke="rgba(102,194,165,0.45)" stroke-width="1.3"/>
<line x1="128.35" y1="363.03" x2="128.35" y2="381.77" stroke="rgba(102,194,165,0.45)" stroke-width="1.3"/>
<line x1="117.94" y1="368.36" x2="143.21" y2="368.36" stroke="rgba(102,194,165,0.45)" stroke-width="1.3"/>
<line x1="130.57" y1="357.73" x2="130.57" y2="378.99" stroke="rgba(102,194,165,0.45)" stroke-width="1.3"/>
<line x1="121.84" y1="368.18" x2="140.17" y2="368.18" stroke="rgba(102,194,165,0.45)" stroke-width="1.3"/>
<line x1="131" y1="357.7" x2="131" y2="378.67" stroke="rgba(102,194,165,0.45)" stroke-width="1.3"/>
<line x1="103.6" y1="385.19" x2="123.11" y2="385.19" stroke="rgba(102,194,165,0.45)" stroke-width="1.3"/>
<line x1="113.35" y1="373.87" x2="113.35" y2="396.52" stroke="rgba(102,194,165,0.45)" stroke-width="1.3"/>
<line x1="100.61" y1="385.34" x2="123.86" y2="385.34" stroke="rgba(102,194,165,0.45)" stroke-width="1.3"/>
<line x1="112.23" y1="377.28" x2="112.23" y2="393.39" stroke="rgba(102,194,165,0.45)" stroke-width="1.3"/>
<line x1="121.95" y1="382.32" x2="135.4" y2="382.32" stroke="rgba(102,194,165,0.45)" stroke-width="1.3"/>
<line x1="128.67" y1="372.2" x2="128.67" y2="392.43" stroke="rgba(102,194,165,0.45)" stroke-width="1.3"/>
<line x1="115.09" y1="381.12" x2="140.19" y2="381.12" stroke="rgba(102,194,165,0.45)" stroke-width="1.3"/>
<line x1="127.64" y1="373.02" x2="127.64" y2="389.23" stroke="rgba(102,194,165,0.45)" stroke-width="1.3"/>
<line x1="93.87" y1="393.5" x2="113.8" y2="393.5" stroke="rgba(102,194,165,0.45)" stroke-width="1.3"/>
<line x1="103.84" y1="381.79" x2="103.84" y2="405.21" stroke="rgba(102,194,165,0.45)" stroke-width="1.3"/>
<line x1="99.16" y1="391.42" x2="111.69" y2="391.42" stroke="rgba(102,194,165,0.45)" stroke-width="1.3"/>
<line x1="105.42" y1="381.61" x2="105.42" y2="401.23" stroke="rgba(102,194,165,0.45)" stroke-width="1.3"/>
<line x1="98.67" y1="388.68" x2="123.24" y2="388.68" stroke="rgba(102,194,165,0.45)" stroke-width="1.3"/>
<line x1="110.96" y1="379.7" x2="110.96" y2="397.66" stroke="rgba(102,194,165,0.45)" stroke-width="1.3"/>
<line x1="101.4" y1="387.71" x2="118.01" y2="387.71" stroke="rgba(102,194,165,0.45)" stroke-width="1.3"/>
<line x1="109.7" y1="382.62" x2="109.7" y2="392.8" stroke="rgba(102,194,165,0.45)" stroke-width="1.3"/>
<line x1="109.3" y1="384.14" x2="124.95" y2="384.14" stroke="rgba(102,194,165,0.45)" stroke-width="1.3"/>
<line x1="117.12" y1="377.78" x2="117.12" y2="390.5" stroke="rgba(102,194,165,0.45)" stroke-width="1.3"/>
<line x1="104.83" y1="384.16" x2="124.79" y2="384.16" stroke="rgba(102,194,165,0.45)" stroke-width="1.3"/>
<line x1="114.81" y1="372.03" x2="114.81" y2="396.3" stroke="rgba(102,194,165,0.45)" stroke-width="1.3"/>
<line x1="112.94" y1="381.16" x2="128.51" y2="381.16" stroke="rgba(102,194,165,0.45)" stroke-width="1.3"/>
<line x1="120.72" y1="372.71" x2="120.72" y2="389.6" stroke="rgba(102,194,165,0.45)" stroke-width="1.3"/>
<line x1="105.91" y1="378.77" x2="133.75" y2="378.77" stroke="rgba(102,194,165,0.45)" stroke-width="1.3"/>
<line x1="119.83" y1="370.69" x2="119.83" y2="386.84" stroke="rgba(102,194,165,0.45)" stroke-width="1.3"/>
<line x1="117.12" y1="379.39" x2="131.57" y2="379.39" stroke="rgba(102,194,165,0.45)" stroke-width="1.3"/>
<line x1="124.35" y1="370.42" x2="124.35" y2="388.37" stroke="rgba(102,194,165,0.45)" stroke-width="1.3"/>
<line x1="109.71" y1="376.68" x2="134.51" y2="376.68" stroke="rgba(102,194,165,0.45)" stroke-width="1.3"/>
<line x1="122.11" y1="364.08" x2="122.11" y2="389.28" stroke="rgba(102,194,165,0.45)" stroke-width="1.3"/>
<line x1="92.3" y1="395.66" x2="112.41" y2="395.66" stroke="rgba(102,194,165,0.45)" stroke-width="1.3"/>
<line x1="102.36" y1="388.45" x2="102.36" y2="402.86" stroke="rgba(102,194,165,0.45)" stroke-width="1.3"/>
<line x1="91.13" y1="397.36" x2="114.39" y2="397.36" stroke="rgba(102,194,165,0.45)" stroke-width="1.3"/>
<line x1="102.76" y1="388.41" x2="102.76" y2="406.31" stroke="rgba(102,194,165,0.45)" stroke-width="1.3"/>
<line x1="77.46" y1="399.63" x2="107.14" y2="399.63" stroke="rgba(102,194,165,0.45)" stroke-width="1.3"/>
<line x1="92.3" y1="391.01" x2="92.3" y2="408.25" stroke="rgba(102,194,165,0.45)" stroke-width="1.3"/>
<line x1="80.98" y1="401.78" x2="108.69" y2="401.78" stroke="rgba(102,194,165,0.45)" stroke-width="1.3"/>
<line x1="94.83" y1="396.45" x2="94.83" y2="407.11" stroke="rgba(102,194,165,0.45)" stroke-width="1.3"/>
<line x1="102.8" y1="384.04" x2="120.36" y2="384.04" stroke="rgba(102,194,165,0.45)" stroke-width="1.3"/>
<line x1="111.58" y1="372.71" x2="111.58" y2="395.38" stroke="rgba(102,194,165,0.45)" stroke-width="1.3"/>
<line x1="104.73" y1="384.45" x2="124.91" y2="384.45" stroke="rgba(102,194,165,0.45)" stroke-width="1.3"/>
<line x1="114.82" y1="379.25" x2="114.82" y2="389.65" stroke="rgba(102,194,165,0.45)" stroke-width="1.3"/>
<line x1="113.25" y1="375.29" x2="127.78" y2="375.29" stroke="rgba(102,194,165,0.45)" stroke-width="1.3"/>
<line x1="120.52" y1="369.91" x2="120.52" y2="380.66" stroke="rgba(102,194,165,0.45)" stroke-width="1.3"/>
<line x1="109.56" y1="377.33" x2="132.9" y2="377.33" stroke="rgba(102,194,165,0.45)" stroke-width="1.3"/>
<line x1="121.23" y1="367.09" x2="121.23" y2="387.57" stroke="rgba(102,194,165,0.45)" stroke-width="1.3"/>
<line x1="115.74" y1="372.71" x2="140.06" y2="372.71" stroke="rgba(102,194,165,0.45)" stroke-width="1.3"/>
<line x1="127.9" y1="366.12" x2="127.9" y2="379.31" stroke="rgba(102,194,165,0.45)" stroke-width="1.3"/>
<line x1="122.76" y1="372.72" x2="134.95" y2="372.72" stroke="rgba(102,194,165,0.45)" stroke-width="1.3"/>
<line x1="128.86" y1="363.94" x2="128.86" y2="381.49" stroke="rgba(102,194,165,0.45)" stroke-width="1.3"/>
<line x1="126.84" y1="360.28" x2="143.74" y2="360.28" stroke="rgba(102,194,165,0.45)" stroke-width="1.3"/>
<line x1="135.29" y1="352.52" x2="135.29" y2="368.05" stroke="rgba(102,194,165,0.45)" stroke-width="1.3"/>
<line x1="122.54" y1="361.37" x2="145.6" y2="361.37" stroke="rgba(102,194,165,0.45)" stroke-width="1.3"/>
<line x1="134.07" y1="350.32" x2="134.07" y2="372.42" stroke="rgba(102,194,165,0.45)" stroke-width="1.3"/>
<line x1="118.37" y1="367.29" x2="146.69" y2="367.29" stroke="rgba(102,194,165,0.45)" stroke-width="1.3"/>
<line x1="132.53" y1="361.59" x2="132.53" y2="372.99" stroke="rgba(102,194,165,0.45)" stroke-width="1.3"/>
<line x1="124.13" y1="368.04" x2="138.47" y2="368.04" stroke="rgba(102,194,165,0.45)" stroke-width="1.3"/>
<line x1="131.3" y1="359.41" x2="131.3" y2="376.67" stroke="rgba(102,194,165,0.45)" stroke-width="1.3"/>
<line x1="127.33" y1="366.89" x2="146.11" y2="366.89" stroke="rgba(102,194,165,0.45)" stroke-width="1.3"/>
<line x1="136.72" y1="357.34" x2="136.72" y2="376.44" stroke="rgba(102,194,165,0.45)" stroke-width="1.3"/>
<line x1="121.31" y1="364.52" x2="150.3" y2="364.52" stroke="rgba(102,194,165,0.45)" stroke-width="1.3"/>
<line x1="135.81" y1="355.81" x2="135.81" y2="373.23" stroke="rgba(102,194,165,0.45)" stroke-width="1.3"/>
<line x1="119.67" y1="373.47" x2="144.66" y2="373.47" stroke="rgba(102,194,165,0.45)" stroke-width="1.3"/>
<line x1="132.17" y1="361.92" x2="132.17" y2="385.02" stroke="rgba(102,194,165,0.45)" stroke-width="1.3"/>
<line x1="125.6" y1="374.51" x2="141.44" y2="374.51" stroke="rgba(102,194,165,0.45)" stroke-width="1.3"/>
<line x1="133.52" y1="362.31" x2="133.52" y2="386.71" stroke="rgba(102,194,165,0.45)" stroke-width="1.3"/>
<line x1="122.25" y1="372.44" x2="143.91" y2="372.44" stroke="rgba(102,194,165,0.45)" stroke-width="1.3"/>
<line x1="133.08" y1="361.11" x2="133.08" y2="383.77" stroke="rgba(102,194,165,0.45)" stroke-width="1.3"/>
<line x1="118.43" y1="370.56" x2="145.83" y2="370.56" stroke="rgba(102,194,165,0.45)" stroke-width="1.3"/>
<line x1="132.13" y1="362.78" x2="132.13" y2="378.35" stroke="rgba(102,194,165,0.45)" stroke-width="1.3"/>
<line x1="131.2" y1="357.21" x2="153.1" y2="357.21" stroke="rgba(102,194,165,0.45)" stroke-width="1.3"/>
<line x1="142.15" y1="346.07" x2="142.15" y2="368.36" stroke="rgba(102,194,165,0.45)" stroke-width="1.3"/>
<line x1="130.12" y1="357.79" x2="156.68" y2="357.79" stroke="rgba(102,194,165,0.45)" stroke-width="1.3"/>
<line x1="143.4" y1="352.28" x2="143.4" y2="363.3" stroke="rgba(102,194,165,0.45)" stroke-width="1.3"/>
<line x1="130.65" y1="360.99" x2="148.68" y2="360.99" stroke="rgba(102,194,165,0.45)" stroke-width="1.3"/>
<line x1="139.66" y1="349.69" x2="139.66" y2="372.3" stroke="rgba(102,194,165,0.45)" stroke-width="1.3"/>
<line x1="131.81" y1="363.16" x2="153.11" y2="363.16" stroke="rgba(102,194,165,0.45)" stroke-width="1.3"/>
<line x1="142.46" y1="352.37" x2="142.46" y2="373.95" stroke="rgba(102,194,165,0.45)" stroke-width="1.3"/>
<line x1="132.68" y1="361.04" x2="161.71" y2="361.04" stroke="rgba(102,194,165,0.45)" stroke-width="1.3"/>
<line x1="147.2" y1="352.1" x2="147.2" y2="369.98" stroke="rgba(102,194,165,0.45)" stroke-width="1.3"/>
<line x1="136.57" y1="363.62" x2="152.55" y2="363.62" stroke="rgba(102,194,165,0.45)" stroke-width="1.3"/>
<line x1="144.56" y1="354.4" x2="144.56" y2="372.83" stroke="rgba(102,194,165,0.45)" stroke-width="1.3"/>
<line x1="139.42" y1="357.84" x2="162.92" y2="357.84" stroke="rgba(102,194,165,0.45)" stroke-width="1.3"/>
<line x1="151.17" y1="348.66" x2="151.17" y2="367.02" stroke="rgba(102,194,165,0.45)" stroke-width="1.3"/>
<line x1="142.38" y1="359.2" x2="159.99" y2="359.2" stroke="rgba(102,194,165,0.45)" stroke-width="1.3"/>
<line x1="151.18" y1="351.15" x2="151.18" y2="367.25" stroke="rgba(102,194,165,0.45)" stroke-width="1.3"/>
<line x1="143.5" y1="352.3" x2="159.25" y2="352.3" stroke="rgba(102,194,165,0.45)" stroke-width="1.3"/>
<line x1="151.37" y1="340.49" x2="151.37" y2="364.1" stroke="rgba(102,194,165,0.45)" stroke-width="1.3"/>
<line x1="138.49" y1="352.21" x2="160.8" y2="352.21" stroke="rgba(102,194,165,0.45)" stroke-width="1.3"/>
<line x1="149.64" y1="345.6" x2="149.64" y2="358.82" stroke="rgba(102,194,165,0.45)" stroke-width="1.3"/>
<line x1="141.33" y1="354.36" x2="164.22" y2="354.36" stroke="rgba(102,194,165,0.45)" stroke-width="1.3"/>
<line x1="152.78" y1="349.14" x2="152.78" y2="359.59" stroke="rgba(102,194,165,0.45)" stroke-width="1.3"/>
<line x1="141.55" y1="354.26" x2="160.76" y2="354.26" stroke="rgba(102,194,165,0.45)" stroke-width="1.3"/>
<line x1="151.15" y1="342.86" x2="151.15" y2="365.67" stroke="rgba(102,194,165,0.45)" stroke-width="1.3"/>
<line x1="143.64" y1="348.86" x2="168.07" y2="348.86" stroke="rgba(102,194,165,0.45)" stroke-width="1.3"/>
<line x1="155.85" y1="343.33" x2="155.85" y2="354.38" stroke="rgba(102,194,165,0.45)" stroke-width="1.3"/>
<line x1="140.17" y1="349.09" x2="169.39" y2="349.09" stroke="rgba(102,194,165,0.45)" stroke-width="1.3"/>
<line x1="154.78" y1="336.71" x2="154.78" y2="361.48" stroke="rgba(102,194,165,0.45)" stroke-width="1.3"/>
<line x1="151.92" y1="348.3" x2="166.21" y2="348.3" stroke="rgba(102,194,165,0.45)" stroke-width="1.3"/>
<line x1="159.06" y1="339.83" x2="159.06" y2="356.77" stroke="rgba(102,194,165,0.45)" stroke-width="1.3"/>
<line x1="146.28" y1="347.17" x2="166.85" y2="347.17" stroke="rgba(102,194,165,0.45)" stroke-width="1.3"/>
<line x1="156.57" y1="339.63" x2="156.57" y2="354.71" stroke="rgba(102,194,165,0.45)" stroke-width="1.3"/>
<line x1="148.29" y1="344.79" x2="176.94" y2="344.79" stroke="rgba(102,194,165,0.45)" stroke-width="1.3"/>
<line x1="162.62" y1="338.76" x2="162.62" y2="350.83" stroke="rgba(102,194,165,0.45)" stroke-width="1.3"/>
<line x1="154.5" y1="345.99" x2="170" y2="345.99" stroke="rgba(102,194,165,0.45)" stroke-width="1.3"/>
<line x1="162.25" y1="339.17" x2="162.25" y2="352.81" stroke="rgba(102,194,165,0.45)" stroke-width="1.3"/>
<line x1="150.32" y1="351.22" x2="168.72" y2="351.22" stroke="rgba(102,194,165,0.45)" stroke-width="1.3"/>
<line x1="159.52" y1="341.27" x2="159.52" y2="361.18" stroke="rgba(102,194,165,0.45)" stroke-width="1.3"/>
<line x1="153" y1="349.09" x2="167.21" y2="349.09" stroke="rgba(102,194,165,0.45)" stroke-width="1.3"/>
<line x1="160.1" y1="340.01" x2="160.1" y2="358.17" stroke="rgba(102,194,165,0.45)" stroke-width="1.3"/>
<line x1="146.53" y1="352.15" x2="168.08" y2="352.15" stroke="rgba(102,194,165,0.45)" stroke-width="1.3"/>
<line x1="157.3" y1="343.66" x2="157.3" y2="360.65" stroke="rgba(102,194,165,0.45)" stroke-width="1.3"/>
<line x1="145.85" y1="353.03" x2="167.38" y2="353.03" stroke="rgba(102,194,165,0.45)" stroke-width="1.3"/>
<line x1="156.62" y1="346.75" x2="156.62" y2="359.3" stroke="rgba(102,194,165,0.45)" stroke-width="1.3"/>
<line x1="155.86" y1="344.25" x2="179.35" y2="344.25" stroke="rgba(102,194,165,0.45)" stroke-width="1.3"/>
<line x1="167.61" y1="335.01" x2="167.61" y2="353.48" stroke="rgba(102,194,165,0.45)" stroke-width="1.3"/>
<line x1="153.45" y1="345.04" x2="180.87" y2="345.04" stroke="rgba(102,194,165,0.45)" stroke-width="1.3"/>
<line x1="167.16" y1="338.18" x2="167.16" y2="351.9" stroke="rgba(102,194,165,0.45)" stroke-width="1.3"/>
<line x1="140.04" y1="353.89" x2="168.28" y2="353.89" stroke="rgba(102,194,165,0.45)" stroke-width="1.3"/>
<line x1="154.16" y1="346.36" x2="154.16" y2="361.42" stroke="rgba(102,194,165,0.45)" stroke-width="1.3"/>
<line x1="148.49" y1="350.74" x2="164.41" y2="350.74" stroke="rgba(102,194,165,0.45)" stroke-width="1.3"/>
<line x1="156.45" y1="337.75" x2="156.45" y2="363.72" stroke="rgba(102,194,165,0.45)" stroke-width="1.3"/>
<line x1="117.38" y1="371.39" x2="133.69" y2="371.39" stroke="rgba(102,194,165,0.45)" stroke-width="1.3"/>
<line x1="125.54" y1="360.58" x2="125.54" y2="382.2" stroke="rgba(102,194,165,0.45)" stroke-width="1.3"/>
<line x1="114.17" y1="371.5" x2="141.15" y2="371.5" stroke="rgba(102,194,165,0.45)" stroke-width="1.3"/>
<line x1="127.66" y1="363.13" x2="127.66" y2="379.88" stroke="rgba(102,194,165,0.45)" stroke-width="1.3"/>
<line x1="114.15" y1="379.1" x2="133.4" y2="379.1" stroke="rgba(102,194,165,0.45)" stroke-width="1.3"/>
<line x1="123.77" y1="368.62" x2="123.77" y2="389.59" stroke="rgba(102,194,165,0.45)" stroke-width="1.3"/>
<line x1="115.43" y1="378.76" x2="139.71" y2="378.76" stroke="rgba(102,194,165,0.45)" stroke-width="1.3"/>
<line x1="127.57" y1="366.47" x2="127.57" y2="391.05" stroke="rgba(102,194,165,0.45)" stroke-width="1.3"/>
<line x1="169.76" y1="335.44" x2="190.86" y2="335.44" stroke="rgba(102,194,165,0.45)" stroke-width="1.3"/>
<line x1="180.31" y1="324.38" x2="180.31" y2="346.51" stroke="rgba(102,194,165,0.45)" stroke-width="1.3"/>
<line x1="171.02" y1="332.85" x2="186.43" y2="332.85" stroke="rgba(102,194,165,0.45)" stroke-width="1.3"/>
<line x1="178.72" y1="327.29" x2="178.72" y2="338.41" stroke="rgba(102,194,165,0.45)" stroke-width="1.3"/>
<line x1="167.48" y1="335.5" x2="186.52" y2="335.5" stroke="rgba(141,160,203,0.4)" stroke-width="1.3"/>
<line x1="177" y1="328.9" x2="177" y2="342.1" stroke="rgba(141,160,203,0.4)" stroke-width="1.3"/>
<line x1="171.41" y1="331.5" x2="190.79" y2="331.5" stroke="rgba(141,160,203,0.4)" stroke-width="1.3"/>
<line x1="181.1" y1="327.47" x2="181.1" y2="335.53" stroke="rgba(141,160,203,0.4)" stroke-width="1.3"/>
<line x1="176.85" y1="330.7" x2="188.55" y2="330.7" stroke="rgba(141,160,203,0.4)" stroke-width="1.3"/>
<line x1="182.7" y1="326.27" x2="182.7" y2="335.13" stroke="rgba(141,160,203,0.4)" stroke-width="1.3"/>
<line x1="175.1" y1="329.1" x2="199.9" y2="329.1" stroke="rgba(141,160,203,0.4)" stroke-width="1.3"/>
<line x1="187.5" y1="319.17" x2="187.5" y2="339.03" stroke="rgba(141,160,203,0.4)" stroke-width="1.3"/>
<line x1="175.83" y1="321" x2="202.37" y2="321" stroke="rgba(141,160,203,0.4)" stroke-width="1.3"/>
<line x1="189.1" y1="317.33" x2="189.1" y2="324.67" stroke="rgba(141,160,203,0.4)" stroke-width="1.3"/>
<line x1="186.08" y1="317" x2="195.32" y2="317" stroke="rgba(141,160,203,0.4)" stroke-width="1.3"/>
<line x1="190.7" y1="307.34" x2="190.7" y2="326.66" stroke="rgba(141,160,203,0.4)" stroke-width="1.3"/>
<line x1="181.28" y1="319.4" x2="198.52" y2="319.4" stroke="rgba(141,160,203,0.4)" stroke-width="1.3"/>
<line x1="189.9" y1="311.05" x2="189.9" y2="327.75" stroke="rgba(141,160,203,0.4)" stroke-width="1.3"/>
<line x1="187.43" y1="327.4" x2="201.97" y2="327.4" stroke="rgba(141,160,203,0.4)" stroke-width="1.3"/>
<line x1="194.7" y1="321.13" x2="194.7" y2="333.67" stroke="rgba(141,160,203,0.4)" stroke-width="1.3"/>
<line x1="186.35" y1="324.2" x2="204.65" y2="324.2" stroke="rgba(141,160,203,0.4)" stroke-width="1.3"/>
<line x1="195.5" y1="318.19" x2="195.5" y2="330.21" stroke="rgba(141,160,203,0.4)" stroke-width="1.3"/>
<line x1="190.29" y1="325" x2="210.31" y2="325" stroke="rgba(141,160,203,0.4)" stroke-width="1.3"/>
<line x1="200.3" y1="321.91" x2="200.3" y2="328.09" stroke="rgba(141,160,203,0.4)" stroke-width="1.3"/>
<line x1="190.89" y1="316.2" x2="212.91" y2="316.2" stroke="rgba(141,160,203,0.4)" stroke-width="1.3"/>
<line x1="201.9" y1="307.29" x2="201.9" y2="325.11" stroke="rgba(141,160,203,0.4)" stroke-width="1.3"/>
<line x1="201.79" y1="323.4" x2="213.41" y2="323.4" stroke="rgba(141,160,203,0.4)" stroke-width="1.3"/>
<line x1="207.6" y1="317.22" x2="207.6" y2="329.58" stroke="rgba(141,160,203,0.4)" stroke-width="1.3"/>
<line x1="198.61" y1="311.4" x2="221.39" y2="311.4" stroke="rgba(141,160,203,0.4)" stroke-width="1.3"/>
<line x1="210" y1="305.56" x2="210" y2="317.24" stroke="rgba(141,160,203,0.4)" stroke-width="1.3"/>
<line x1="205.65" y1="315.4" x2="217.55" y2="315.4" stroke="rgba(141,160,203,0.4)" stroke-width="1.3"/>
<line x1="211.6" y1="311.24" x2="211.6" y2="319.56" stroke="rgba(141,160,203,0.4)" stroke-width="1.3"/>
<line x1="203.27" y1="317" x2="221.53" y2="317" stroke="rgba(141,160,203,0.4)" stroke-width="1.3"/>
<line x1="212.4" y1="313.89" x2="212.4" y2="320.11" stroke="rgba(141,160,203,0.4)" stroke-width="1.3"/>
<line x1="205.07" y1="302.6" x2="230.93" y2="302.6" stroke="rgba(141,160,203,0.4)" stroke-width="1.3"/>
<line x1="218" y1="293.99" x2="218" y2="311.21" stroke="rgba(141,160,203,0.4)" stroke-width="1.3"/>
<line x1="212.55" y1="301.8" x2="234.65" y2="301.8" stroke="rgba(141,160,203,0.4)" stroke-width="1.3"/>
<line x1="223.6" y1="292.77" x2="223.6" y2="310.83" stroke="rgba(141,160,203,0.4)" stroke-width="1.3"/>
<line x1="214.11" y1="305.8" x2="234.69" y2="305.8" stroke="rgba(141,160,203,0.4)" stroke-width="1.3"/>
<line x1="224.4" y1="299.97" x2="224.4" y2="311.63" stroke="rgba(141,160,203,0.4)" stroke-width="1.3"/>
<line x1="218.4" y1="306.6" x2="238.4" y2="306.6" stroke="rgba(141,160,203,0.4)" stroke-width="1.3"/>
<line x1="228.4" y1="300.07" x2="228.4" y2="313.13" stroke="rgba(141,160,203,0.4)" stroke-width="1.3"/>
<line x1="214.57" y1="310.6" x2="242.23" y2="310.6" stroke="rgba(141,160,203,0.4)" stroke-width="1.3"/>
<line x1="228.4" y1="301.97" x2="228.4" y2="319.23" stroke="rgba(141,160,203,0.4)" stroke-width="1.3"/>
<line x1="226.72" y1="292.9" x2="239.88" y2="292.9" stroke="rgba(141,160,203,0.4)" stroke-width="1.3"/>
<line x1="233.3" y1="283.52" x2="233.3" y2="302.28" stroke="rgba(141,160,203,0.4)" stroke-width="1.3"/>
<line x1="222.66" y1="286.5" x2="245.54" y2="286.5" stroke="rgba(141,160,203,0.4)" stroke-width="1.3"/>
<line x1="234.1" y1="278.05" x2="234.1" y2="294.95" stroke="rgba(141,160,203,0.4)" stroke-width="1.3"/>
<line x1="223.55" y1="296.9" x2="247.85" y2="296.9" stroke="rgba(141,160,203,0.4)" stroke-width="1.3"/>
<line x1="235.7" y1="291.06" x2="235.7" y2="302.74" stroke="rgba(141,160,203,0.4)" stroke-width="1.3"/>
<line x1="226.73" y1="291.3" x2="252.67" y2="291.3" stroke="rgba(141,160,203,0.4)" stroke-width="1.3"/>
<line x1="239.7" y1="282.14" x2="239.7" y2="300.46" stroke="rgba(141,160,203,0.4)" stroke-width="1.3"/>
<line x1="231.15" y1="290.5" x2="253.05" y2="290.5" stroke="rgba(141,160,203,0.4)" stroke-width="1.3"/>
<line x1="242.1" y1="282.13" x2="242.1" y2="298.87" stroke="rgba(141,160,203,0.4)" stroke-width="1.3"/>
<line x1="232.05" y1="293.7" x2="255.35" y2="293.7" stroke="rgba(141,160,203,0.4)" stroke-width="1.3"/>
<line x1="243.7" y1="287.86" x2="243.7" y2="299.54" stroke="rgba(141,160,203,0.4)" stroke-width="1.3"/>
<line x1="234.07" y1="288.9" x2="256.53" y2="288.9" stroke="rgba(141,160,203,0.4)" stroke-width="1.3"/>
<line x1="245.3" y1="285.41" x2="245.3" y2="292.39" stroke="rgba(141,160,203,0.4)" stroke-width="1.3"/>
<line x1="239.48" y1="283.3" x2="254.32" y2="283.3" stroke="rgba(141,160,203,0.4)" stroke-width="1.3"/>
<line x1="246.9" y1="277.02" x2="246.9" y2="289.58" stroke="rgba(141,160,203,0.4)" stroke-width="1.3"/>
<line x1="244.39" y1="282.5" x2="252.61" y2="282.5" stroke="rgba(141,160,203,0.4)" stroke-width="1.3"/>
<line x1="248.5" y1="277.01" x2="248.5" y2="287.99" stroke="rgba(141,160,203,0.4)" stroke-width="1.3"/>
<line x1="240.51" y1="286.5" x2="261.29" y2="286.5" stroke="rgba(141,160,203,0.4)" stroke-width="1.3"/>
<line x1="250.9" y1="279.13" x2="250.9" y2="293.87" stroke="rgba(141,160,203,0.4)" stroke-width="1.3"/>
<line x1="246.18" y1="279.3" x2="258.82" y2="279.3" stroke="rgba(141,160,203,0.4)" stroke-width="1.3"/>
<line x1="252.5" y1="269.69" x2="252.5" y2="288.91" stroke="rgba(141,160,203,0.4)" stroke-width="1.3"/>
<line x1="243.44" y1="280.9" x2="264.76" y2="280.9" stroke="rgba(141,160,203,0.4)" stroke-width="1.3"/>
<line x1="254.1" y1="275.54" x2="254.1" y2="286.26" stroke="rgba(141,160,203,0.4)" stroke-width="1.3"/>
<line x1="245.1" y1="279.3" x2="266.3" y2="279.3" stroke="rgba(141,160,203,0.4)" stroke-width="1.3"/>
<line x1="255.7" y1="272.31" x2="255.7" y2="286.29" stroke="rgba(141,160,203,0.4)" stroke-width="1.3"/>
<line x1="252.07" y1="275.3" x2="270.73" y2="275.3" stroke="rgba(141,160,203,0.4)" stroke-width="1.3"/>
<line x1="261.4" y1="269.57" x2="261.4" y2="281.03" stroke="rgba(141,160,203,0.4)" stroke-width="1.3"/>
<line x1="252.2" y1="275.3" x2="280.2" y2="275.3" stroke="rgba(141,160,203,0.4)" stroke-width="1.3"/>
<line x1="266.2" y1="267.8" x2="266.2" y2="282.8" stroke="rgba(141,160,203,0.4)" stroke-width="1.3"/>
<line x1="235.09" y1="287.3" x2="257.11" y2="287.3" stroke="rgba(141,160,203,0.4)" stroke-width="1.3"/>
<line x1="246.1" y1="278.97" x2="246.1" y2="295.63" stroke="rgba(141,160,203,0.4)" stroke-width="1.3"/>
<line x1="232.16" y1="299.3" x2="244.04" y2="299.3" stroke="rgba(252,141,98,0.45)" stroke-width="1.2"/>
<line x1="238.1" y1="296.19" x2="238.1" y2="302.41" stroke="rgba(252,141,98,0.45)" stroke-width="1.2"/>
<line x1="246.85" y1="288.9" x2="256.55" y2="288.9" stroke="rgba(252,141,98,0.45)" stroke-width="1.2"/>
<line x1="251.7" y1="282.21" x2="251.7" y2="295.59" stroke="rgba(252,141,98,0.45)" stroke-width="1.2"/>
<line x1="259.23" y1="276.9" x2="266.77" y2="276.9" stroke="rgba(252,141,98,0.45)" stroke-width="1.2"/>
<line x1="263" y1="271.89" x2="263" y2="281.91" stroke="rgba(252,141,98,0.45)" stroke-width="1.2"/>
<line x1="44.43" y1="440.37" x2="320.17" y2="232.63" stroke="#ff0000" stroke-width="1.9"/>
<line x1="44.43" y1="434.5" x2="320.17" y2="233" stroke="#0000ff" stroke-width="1.9"/>
<circle cx="98.4" cy="386.6" r="2.15" fill="#66c2a5" stroke="#111" stroke-width="0.8"/>
<circle cx="91.7" cy="399.7" r="2.15" fill="#66c2a5" stroke="#111" stroke-width="0.8"/>
<circle cx="95.1" cy="403.4" r="2.15" fill="#66c2a5" stroke="#111" stroke-width="0.8"/>
<circle cx="91.4" cy="403" r="2.15" fill="#66c2a5" stroke="#111" stroke-width="0.8"/>
<circle cx="99.5" cy="396.3" r="2.15" fill="#66c2a5" stroke="#111" stroke-width="0.8"/>
<circle cx="97.1" cy="397.3" r="2.15" fill="#66c2a5" stroke="#111" stroke-width="0.8"/>
<circle cx="101.1" cy="399.7" r="2.15" fill="#66c2a5" stroke="#111" stroke-width="0.8"/>
<circle cx="104.5" cy="388.9" r="2.15" fill="#66c2a5" stroke="#111" stroke-width="0.8"/>
<circle cx="108.2" cy="390.3" r="2.15" fill="#66c2a5" stroke="#111" stroke-width="0.8"/>
<circle cx="108.2" cy="397.3" r="2.15" fill="#66c2a5" stroke="#111" stroke-width="0.8"/>
<circle cx="108.5" cy="384.9" r="2.15" fill="#66c2a5" stroke="#111" stroke-width="0.8"/>
<circle cx="102.5" cy="393" r="2.15" fill="#66c2a5" stroke="#111" stroke-width="0.8"/>
<circle cx="112.9" cy="388.2" r="2.15" fill="#66c2a5" stroke="#111" stroke-width="0.8"/>
<circle cx="114.6" cy="380.2" r="2.15" fill="#66c2a5" stroke="#111" stroke-width="0.8"/>
<circle cx="117" cy="377.1" r="2.15" fill="#66c2a5" stroke="#111" stroke-width="0.8"/>
<circle cx="121.7" cy="377.1" r="2.15" fill="#66c2a5" stroke="#111" stroke-width="0.8"/>
<circle cx="121.3" cy="382.9" r="2.15" fill="#66c2a5" stroke="#111" stroke-width="0.8"/>
<circle cx="125.3" cy="380.2" r="2.15" fill="#66c2a5" stroke="#111" stroke-width="0.8"/>
<circle cx="118.6" cy="380.2" r="2.15" fill="#66c2a5" stroke="#111" stroke-width="0.8"/>
<circle cx="124" cy="374.8" r="2.15" fill="#66c2a5" stroke="#111" stroke-width="0.8"/>
<circle cx="127.4" cy="370.8" r="2.15" fill="#66c2a5" stroke="#111" stroke-width="0.8"/>
<circle cx="129.4" cy="366.7" r="2.15" fill="#66c2a5" stroke="#111" stroke-width="0.8"/>
<circle cx="111.9" cy="384.9" r="2.15" fill="#66c2a5" stroke="#111" stroke-width="0.8"/>
<circle cx="126.7" cy="380.8" r="2.15" fill="#66c2a5" stroke="#111" stroke-width="0.8"/>
<circle cx="105.5" cy="392.5" r="2.15" fill="#66c2a5" stroke="#111" stroke-width="0.8"/>
<circle cx="110.5" cy="387" r="2.15" fill="#66c2a5" stroke="#111" stroke-width="0.8"/>
<circle cx="115.5" cy="383.5" r="2.15" fill="#66c2a5" stroke="#111" stroke-width="0.8"/>
<circle cx="119.5" cy="379.5" r="2.15" fill="#66c2a5" stroke="#111" stroke-width="0.8"/>
<circle cx="123" cy="378" r="2.15" fill="#66c2a5" stroke="#111" stroke-width="0.8"/>
<circle cx="103.5" cy="396" r="2.15" fill="#66c2a5" stroke="#111" stroke-width="0.8"/>
<circle cx="94" cy="401.5" r="2.15" fill="#66c2a5" stroke="#111" stroke-width="0.8"/>
<circle cx="113.5" cy="385.5" r="2.15" fill="#66c2a5" stroke="#111" stroke-width="0.8"/>
<circle cx="120" cy="375.5" r="2.15" fill="#66c2a5" stroke="#111" stroke-width="0.8"/>
<circle cx="128" cy="374" r="2.15" fill="#66c2a5" stroke="#111" stroke-width="0.8"/>
<circle cx="134.5" cy="360.2" r="2.15" fill="#66c2a5" stroke="#111" stroke-width="0.8"/>
<circle cx="130.8" cy="366.4" r="2.15" fill="#66c2a5" stroke="#111" stroke-width="0.8"/>
<circle cx="135.2" cy="365.7" r="2.15" fill="#66c2a5" stroke="#111" stroke-width="0.8"/>
<circle cx="131.6" cy="372.6" r="2.15" fill="#66c2a5" stroke="#111" stroke-width="0.8"/>
<circle cx="133.8" cy="370.8" r="2.15" fill="#66c2a5" stroke="#111" stroke-width="0.8"/>
<circle cx="142.2" cy="359.1" r="2.15" fill="#66c2a5" stroke="#111" stroke-width="0.8"/>
<circle cx="141.1" cy="362.4" r="2.15" fill="#66c2a5" stroke="#111" stroke-width="0.8"/>
<circle cx="145.4" cy="362.7" r="2.15" fill="#66c2a5" stroke="#111" stroke-width="0.8"/>
<circle cx="149.8" cy="357.6" r="2.15" fill="#66c2a5" stroke="#111" stroke-width="0.8"/>
<circle cx="149.5" cy="352.2" r="2.15" fill="#66c2a5" stroke="#111" stroke-width="0.8"/>
<circle cx="150.9" cy="354.3" r="2.15" fill="#66c2a5" stroke="#111" stroke-width="0.8"/>
<circle cx="155.7" cy="349.2" r="2.15" fill="#66c2a5" stroke="#111" stroke-width="0.8"/>
<circle cx="157.8" cy="346.7" r="2.15" fill="#66c2a5" stroke="#111" stroke-width="0.8"/>
<circle cx="161.5" cy="346.7" r="2.15" fill="#66c2a5" stroke="#111" stroke-width="0.8"/>
<circle cx="161.1" cy="350.3" r="2.15" fill="#66c2a5" stroke="#111" stroke-width="0.8"/>
<circle cx="157.8" cy="352.5" r="2.15" fill="#66c2a5" stroke="#111" stroke-width="0.8"/>
<circle cx="166.2" cy="343.8" r="2.15" fill="#66c2a5" stroke="#111" stroke-width="0.8"/>
<circle cx="154.9" cy="352.2" r="2.15" fill="#66c2a5" stroke="#111" stroke-width="0.8"/>
<circle cx="126.5" cy="373" r="2.15" fill="#66c2a5" stroke="#111" stroke-width="0.8"/>
<circle cx="125.7" cy="380.3" r="2.15" fill="#66c2a5" stroke="#111" stroke-width="0.8"/>
<circle cx="180.3" cy="334.7" r="2.15" fill="#66c2a5" stroke="#111" stroke-width="0.8"/>
<circle cx="177" cy="335.5" r="2.15" fill="#8da0cb" stroke="#111" stroke-width="0.8"/>
<circle cx="181.1" cy="331.5" r="2.15" fill="#8da0cb" stroke="#111" stroke-width="0.8"/>
<circle cx="182.7" cy="330.7" r="2.15" fill="#8da0cb" stroke="#111" stroke-width="0.8"/>
<circle cx="187.5" cy="329.1" r="2.15" fill="#8da0cb" stroke="#111" stroke-width="0.8"/>
<circle cx="189.1" cy="321" r="2.15" fill="#8da0cb" stroke="#111" stroke-width="0.8"/>
<circle cx="190.7" cy="317" r="2.15" fill="#8da0cb" stroke="#111" stroke-width="0.8"/>
<circle cx="189.9" cy="319.4" r="2.15" fill="#8da0cb" stroke="#111" stroke-width="0.8"/>
<circle cx="194.7" cy="327.4" r="2.15" fill="#8da0cb" stroke="#111" stroke-width="0.8"/>
<circle cx="195.5" cy="324.2" r="2.15" fill="#8da0cb" stroke="#111" stroke-width="0.8"/>
<circle cx="200.3" cy="325" r="2.15" fill="#8da0cb" stroke="#111" stroke-width="0.8"/>
<circle cx="201.9" cy="316.2" r="2.15" fill="#8da0cb" stroke="#111" stroke-width="0.8"/>
<circle cx="207.6" cy="323.4" r="2.15" fill="#8da0cb" stroke="#111" stroke-width="0.8"/>
<circle cx="210" cy="311.4" r="2.15" fill="#8da0cb" stroke="#111" stroke-width="0.8"/>
<circle cx="211.6" cy="315.4" r="2.15" fill="#8da0cb" stroke="#111" stroke-width="0.8"/>
<circle cx="212.4" cy="317" r="2.15" fill="#8da0cb" stroke="#111" stroke-width="0.8"/>
<circle cx="218" cy="302.6" r="2.15" fill="#8da0cb" stroke="#111" stroke-width="0.8"/>
<circle cx="223.6" cy="301.8" r="2.15" fill="#8da0cb" stroke="#111" stroke-width="0.8"/>
<circle cx="224.4" cy="305.8" r="2.15" fill="#8da0cb" stroke="#111" stroke-width="0.8"/>
<circle cx="228.4" cy="306.6" r="2.15" fill="#8da0cb" stroke="#111" stroke-width="0.8"/>
<circle cx="228.4" cy="310.6" r="2.15" fill="#8da0cb" stroke="#111" stroke-width="0.8"/>
<circle cx="233.3" cy="292.9" r="2.15" fill="#8da0cb" stroke="#111" stroke-width="0.8"/>
<circle cx="234.1" cy="286.5" r="2.15" fill="#8da0cb" stroke="#111" stroke-width="0.8"/>
<circle cx="235.7" cy="296.9" r="2.15" fill="#8da0cb" stroke="#111" stroke-width="0.8"/>
<circle cx="239.7" cy="291.3" r="2.15" fill="#8da0cb" stroke="#111" stroke-width="0.8"/>
<circle cx="242.1" cy="290.5" r="2.15" fill="#8da0cb" stroke="#111" stroke-width="0.8"/>
<circle cx="243.7" cy="293.7" r="2.15" fill="#8da0cb" stroke="#111" stroke-width="0.8"/>
<circle cx="245.3" cy="288.9" r="2.15" fill="#8da0cb" stroke="#111" stroke-width="0.8"/>
<circle cx="246.9" cy="283.3" r="2.15" fill="#8da0cb" stroke="#111" stroke-width="0.8"/>
<circle cx="248.5" cy="282.5" r="2.15" fill="#8da0cb" stroke="#111" stroke-width="0.8"/>
<circle cx="250.9" cy="286.5" r="2.15" fill="#8da0cb" stroke="#111" stroke-width="0.8"/>
<circle cx="252.5" cy="279.3" r="2.15" fill="#8da0cb" stroke="#111" stroke-width="0.8"/>
<circle cx="254.1" cy="280.9" r="2.15" fill="#8da0cb" stroke="#111" stroke-width="0.8"/>
<circle cx="255.7" cy="279.3" r="2.15" fill="#8da0cb" stroke="#111" stroke-width="0.8"/>
<circle cx="261.4" cy="275.3" r="2.15" fill="#8da0cb" stroke="#111" stroke-width="0.8"/>
<circle cx="266.2" cy="275.3" r="2.15" fill="#8da0cb" stroke="#111" stroke-width="0.8"/>
<circle cx="246.1" cy="287.3" r="2.15" fill="#8da0cb" stroke="#111" stroke-width="0.8"/>
<circle cx="238.1" cy="299.3" r="2.15" fill="#fc8d62" stroke="#111" stroke-width="0.8"/>
<circle cx="251.7" cy="288.9" r="2.15" fill="#fc8d62" stroke="#111" stroke-width="0.8"/>
<circle cx="263" cy="276.9" r="2.15" fill="#fc8d62" stroke="#111" stroke-width="0.8"/>
</g>
<rect x="48.6" y="236.4" width="268.1" height="200.4" fill="none" stroke="#b3b3b3" stroke-width="1" rx="0"/>
<line x1="44" y1="397.6" x2="48.6" y2="397.6" stroke="#b3b3b3" stroke-width="1.1"/>
<text x="40" y="401" font-size="9.8" text-anchor="end" fill="#4d4d4d" stroke="#4d4d4d" stroke-width="0.25">0</text>
<line x1="101.2" y1="436.8" x2="101.2" y2="441" stroke="#b3b3b3" stroke-width="1.1"/>
<text x="101.2" y="453" font-size="9.8" text-anchor="middle" fill="#4d4d4d" stroke="#4d4d4d" stroke-width="0.25">0</text>
<line x1="44" y1="336.5" x2="48.6" y2="336.5" stroke="#b3b3b3" stroke-width="1.1"/>
<text x="40" y="339.9" font-size="9.8" text-anchor="end" fill="#4d4d4d" stroke="#4d4d4d" stroke-width="0.25">2</text>
<line x1="182.3" y1="436.8" x2="182.3" y2="441" stroke="#b3b3b3" stroke-width="1.1"/>
<text x="182.3" y="453" font-size="9.8" text-anchor="middle" fill="#4d4d4d" stroke="#4d4d4d" stroke-width="0.25">2</text>
<line x1="44" y1="275.4" x2="48.6" y2="275.4" stroke="#b3b3b3" stroke-width="1.1"/>
<text x="40" y="278.8" font-size="9.8" text-anchor="end" fill="#4d4d4d" stroke="#4d4d4d" stroke-width="0.25">4</text>
<line x1="263.4" y1="436.8" x2="263.4" y2="441" stroke="#b3b3b3" stroke-width="1.1"/>
<text x="263.4" y="453" font-size="9.8" text-anchor="middle" fill="#4d4d4d" stroke="#4d4d4d" stroke-width="0.25">4</text>
<text x="182.3" y="470" font-size="13.4" text-anchor="middle" fill="#000" stroke="#000" stroke-width="0.25">log2 RpoB ptChIP enrichment</text>
<text x="22.5" y="338.9" font-size="13.4" text-anchor="middle" fill="#000" stroke="#000" stroke-width="0.25" transform="rotate(-90 22.5 338.9)">log2 PAP1 ptChIP enrichment</text>
<text x="58.2" y="251.9" font-size="13.5" text-anchor="start" fill="#000" stroke="#000" stroke-width="0.25">Genes encoding</text>
<line x1="60.3" y1="263.7" x2="70" y2="263.7" stroke="#66c2a5" stroke-width="1.2"/>
<circle cx="65.4" cy="263.7" r="2.15" fill="#66c2a5" stroke="#1a1a1a" stroke-width="0.75"/>
<text x="72.6" y="267.2" font-size="9.8" text-anchor="start" fill="#000" stroke="#000" stroke-width="0.25">protein</text>
<line x1="60.3" y1="278.2" x2="70" y2="278.2" stroke="#fc8d62" stroke-width="1.2"/>
<circle cx="65.4" cy="278.2" r="2.15" fill="#fc8d62" stroke="#1a1a1a" stroke-width="0.75"/>
<text x="72.6" y="281.7" font-size="9.8" text-anchor="start" fill="#000" stroke="#000" stroke-width="0.25">rRNA</text>
<line x1="60.3" y1="292.5" x2="70" y2="292.5" stroke="#8da0cb" stroke-width="1.2"/>
<circle cx="65.4" cy="292.5" r="2.15" fill="#8da0cb" stroke="#1a1a1a" stroke-width="0.75"/>
<text x="72.6" y="296" font-size="9.8" text-anchor="start" fill="#000" stroke="#000" stroke-width="0.25">tRNA</text>
<text x="123.8" y="417.4" font-size="10" font-weight="bold" fill="#000">y</text>
<text x="131.2" y="417.1" font-size="9.2" font-weight="bold" fill="#000">=</text>
<text x="138.9" y="417.4" font-size="10" font-weight="bold" fill="#000">0.15</text>
<text x="160.6" y="417.1" font-size="9.2" font-weight="bold" fill="#000">+</text>
<text x="168" y="417.4" font-size="10" font-weight="bold" fill="#000">0.97</text>
<text x="189.6" y="417.4" font-size="10" font-weight="bold" fill="#000">x</text>
<text x="200.2" y="417.4" font-size="10" font-weight="bold" fill="#000">R</text>
<text x="208.2" y="413.2" font-size="7" font-weight="bold" fill="#000">2</text>
<text x="213.5" y="417.1" font-size="9.2" font-weight="bold" fill="#000">=</text>
<text x="221.2" y="417.4" font-size="10" font-weight="bold" fill="#000">0.99</text>
<text x="245.8" y="417.4" font-size="10" font-weight="bold" fill="#000">p</text>
<text x="253.6" y="417.1" font-size="9.2" font-weight="bold" fill="#000">≤</text>
<text x="262.6" y="417.4" font-size="10" font-weight="bold" fill="#000">1.3e−160</text>
<text x="-0.3" y="504" font-size="17" text-anchor="start" fill="#000" stroke="#000" stroke-width="0.25">C</text>
<clipPath id="clipC"><rect x="48.6" y="506.9" width="268.09999999999997" height="200.20000000000005"/></clipPath>
<line x1="97.3" y1="506.9" x2="97.3" y2="707.1" stroke="#e4e4e4" stroke-width="1"/>
<line x1="48.6" y1="670.3" x2="316.7" y2="670.3" stroke="#e4e4e4" stroke-width="1"/>
<line x1="172.8" y1="506.9" x2="172.8" y2="707.1" stroke="#e4e4e4" stroke-width="1"/>
<line x1="48.6" y1="614" x2="316.7" y2="614" stroke="#e4e4e4" stroke-width="1"/>
<line x1="248.3" y1="506.9" x2="248.3" y2="707.1" stroke="#e4e4e4" stroke-width="1"/>
<line x1="48.6" y1="557.7" x2="316.7" y2="557.7" stroke="#e4e4e4" stroke-width="1"/>
<g clip-path="url(#clipC)">
<line x1="44.45" y1="705.43" x2="323.8" y2="503.37" stroke="#0000ff" stroke-width="1.9"/>
<line x1="44.45" y1="709.71" x2="323.8" y2="501.4" stroke="#ff0000" stroke-width="1.9"/>
<circle cx="103.34" cy="664.6" r="2.15" fill="#d95f02" stroke="#111" stroke-width="0.75"/>
<circle cx="85.87" cy="675.52" r="2.15" fill="#d95f02" stroke="#111" stroke-width="0.75"/>
<circle cx="99.35" cy="667.62" r="2.15" fill="#d95f02" stroke="#111" stroke-width="0.75"/>
<circle cx="104.55" cy="658.99" r="2.15" fill="#d95f02" stroke="#111" stroke-width="0.75"/>
<circle cx="94.21" cy="670.27" r="2.15" fill="#d95f02" stroke="#111" stroke-width="0.75"/>
<circle cx="172.18" cy="611.39" r="2.15" fill="#1b9e77" stroke="#111" stroke-width="0.75"/>
<circle cx="231.13" cy="571.58" r="2.15" fill="#1b9e77" stroke="#111" stroke-width="0.75"/>
<circle cx="106.93" cy="663.05" r="2.15" fill="#d95f02" stroke="#111" stroke-width="0.75"/>
<circle cx="83.89" cy="675.37" r="2.15" fill="#7570b3" stroke="#111" stroke-width="0.75"/>
<circle cx="120.71" cy="648.86" r="2.15" fill="#1b9e77" stroke="#111" stroke-width="0.75"/>
<circle cx="126.86" cy="650.3" r="2.15" fill="#d95f02" stroke="#111" stroke-width="0.75"/>
<circle cx="100.09" cy="662.36" r="2.15" fill="#d95f02" stroke="#111" stroke-width="0.75"/>
<circle cx="216.59" cy="582.81" r="2.15" fill="#1b9e77" stroke="#111" stroke-width="0.75"/>
<circle cx="127.09" cy="641.61" r="2.15" fill="#1b9e77" stroke="#111" stroke-width="0.75"/>
<circle cx="99.98" cy="666.79" r="2.15" fill="#d95f02" stroke="#111" stroke-width="0.75"/>
<circle cx="108.27" cy="662.82" r="2.15" fill="#1b9e77" stroke="#111" stroke-width="0.75"/>
<circle cx="215.79" cy="586.57" r="2.15" fill="#1b9e77" stroke="#111" stroke-width="0.75"/>
<circle cx="178.61" cy="603.37" r="2.15" fill="#1b9e77" stroke="#111" stroke-width="0.75"/>
<circle cx="85.84" cy="676.6" r="2.15" fill="#d95f02" stroke="#111" stroke-width="0.75"/>
<circle cx="202.65" cy="592.13" r="2.15" fill="#1b9e77" stroke="#111" stroke-width="0.75"/>
<circle cx="131.41" cy="642.33" r="2.15" fill="#1b9e77" stroke="#111" stroke-width="0.75"/>
<circle cx="129.23" cy="639.83" r="2.15" fill="#d95f02" stroke="#111" stroke-width="0.75"/>
<circle cx="232.83" cy="571.42" r="2.15" fill="#1b9e77" stroke="#111" stroke-width="0.75"/>
<circle cx="138.36" cy="640.1" r="2.15" fill="#1b9e77" stroke="#111" stroke-width="0.75"/>
<circle cx="221.72" cy="576.69" r="2.15" fill="#1b9e77" stroke="#111" stroke-width="0.75"/>
<circle cx="138.26" cy="638.29" r="2.15" fill="#1b9e77" stroke="#111" stroke-width="0.75"/>
<circle cx="106.03" cy="661.55" r="2.15" fill="#1b9e77" stroke="#111" stroke-width="0.75"/>
<circle cx="240.58" cy="566.06" r="2.15" fill="#d95f02" stroke="#111" stroke-width="0.75"/>
<circle cx="117.82" cy="651.27" r="2.15" fill="#d95f02" stroke="#111" stroke-width="0.75"/>
<circle cx="216.48" cy="582.68" r="2.15" fill="#1b9e77" stroke="#111" stroke-width="0.75"/>
<circle cx="223.11" cy="577.29" r="2.15" fill="#d95f02" stroke="#111" stroke-width="0.75"/>
<circle cx="102.31" cy="661.4" r="2.15" fill="#d95f02" stroke="#111" stroke-width="0.75"/>
<circle cx="143.69" cy="628.84" r="2.15" fill="#d95f02" stroke="#111" stroke-width="0.75"/>
<circle cx="227.76" cy="568.36" r="2.15" fill="#d95f02" stroke="#111" stroke-width="0.75"/>
<circle cx="142.73" cy="635.43" r="2.15" fill="#d95f02" stroke="#111" stroke-width="0.75"/>
<circle cx="153.54" cy="627.72" r="2.15" fill="#1b9e77" stroke="#111" stroke-width="0.75"/>
<circle cx="189.57" cy="604.28" r="2.15" fill="#d95f02" stroke="#111" stroke-width="0.75"/>
<circle cx="150.82" cy="630.97" r="2.15" fill="#1b9e77" stroke="#111" stroke-width="0.75"/>
<circle cx="124.37" cy="650.61" r="2.15" fill="#d95f02" stroke="#111" stroke-width="0.75"/>
<circle cx="190.99" cy="606.08" r="2.15" fill="#d95f02" stroke="#111" stroke-width="0.75"/>
<circle cx="203.93" cy="591.35" r="2.15" fill="#1b9e77" stroke="#111" stroke-width="0.75"/>
<circle cx="93.29" cy="669.26" r="2.15" fill="#d95f02" stroke="#111" stroke-width="0.75"/>
<circle cx="170.08" cy="610.57" r="2.15" fill="#d95f02" stroke="#111" stroke-width="0.75"/>
<circle cx="249.28" cy="556.16" r="2.15" fill="#d95f02" stroke="#111" stroke-width="0.75"/>
<circle cx="123.51" cy="648.99" r="2.15" fill="#d95f02" stroke="#111" stroke-width="0.75"/>
<circle cx="156" cy="618.51" r="2.15" fill="#1b9e77" stroke="#111" stroke-width="0.75"/>
<circle cx="221.59" cy="573.6" r="2.15" fill="#d95f02" stroke="#111" stroke-width="0.75"/>
<circle cx="110.11" cy="660.08" r="2.15" fill="#1b9e77" stroke="#111" stroke-width="0.75"/>
<circle cx="124.38" cy="646.02" r="2.15" fill="#1b9e77" stroke="#111" stroke-width="0.75"/>
<circle cx="96.16" cy="666.86" r="2.15" fill="#d95f02" stroke="#111" stroke-width="0.75"/>
<circle cx="113.58" cy="658.8" r="2.15" fill="#d95f02" stroke="#111" stroke-width="0.75"/>
<circle cx="104.61" cy="661.42" r="2.15" fill="#d95f02" stroke="#111" stroke-width="0.75"/>
<circle cx="121.53" cy="651.19" r="2.15" fill="#7570b3" stroke="#111" stroke-width="0.75"/>
<circle cx="89.28" cy="673.06" r="2.15" fill="#d95f02" stroke="#111" stroke-width="0.75"/>
<circle cx="87.9" cy="673.89" r="2.15" fill="#d95f02" stroke="#111" stroke-width="0.75"/>
<circle cx="174.1" cy="613.49" r="2.15" fill="#1b9e77" stroke="#111" stroke-width="0.75"/>
<circle cx="151.17" cy="627.83" r="2.15" fill="#d95f02" stroke="#111" stroke-width="0.75"/>
<circle cx="151.53" cy="626.39" r="2.15" fill="#1b9e77" stroke="#111" stroke-width="0.75"/>
<circle cx="97.74" cy="673.81" r="2.15" fill="#1b9e77" stroke="#111" stroke-width="0.75"/>
<circle cx="183.99" cy="605.16" r="2.15" fill="#1b9e77" stroke="#111" stroke-width="0.75"/>
<circle cx="191" cy="601.81" r="2.15" fill="#d95f02" stroke="#111" stroke-width="0.75"/>
<circle cx="105.42" cy="665.24" r="2.15" fill="#d95f02" stroke="#111" stroke-width="0.75"/>
<circle cx="233.03" cy="572.9" r="2.15" fill="#d95f02" stroke="#111" stroke-width="0.75"/>
<circle cx="215.54" cy="577.38" r="2.15" fill="#1b9e77" stroke="#111" stroke-width="0.75"/>
<circle cx="122.41" cy="650.4" r="2.15" fill="#d95f02" stroke="#111" stroke-width="0.75"/>
<circle cx="126.4" cy="643.54" r="2.15" fill="#d95f02" stroke="#111" stroke-width="0.75"/>
<circle cx="110.62" cy="657.88" r="2.15" fill="#1b9e77" stroke="#111" stroke-width="0.75"/>
<circle cx="90.94" cy="671.09" r="2.15" fill="#1b9e77" stroke="#111" stroke-width="0.75"/>
<circle cx="97.61" cy="668.88" r="2.15" fill="#d95f02" stroke="#111" stroke-width="0.75"/>
<circle cx="175.11" cy="609.98" r="2.15" fill="#d95f02" stroke="#111" stroke-width="0.75"/>
<circle cx="88.73" cy="674.74" r="2.15" fill="#d95f02" stroke="#111" stroke-width="0.75"/>
<circle cx="113.28" cy="651.61" r="2.15" fill="#1b9e77" stroke="#111" stroke-width="0.75"/>
<circle cx="115.28" cy="657.65" r="2.15" fill="#d95f02" stroke="#111" stroke-width="0.75"/>
<circle cx="181.5" cy="606.38" r="2.15" fill="#d95f02" stroke="#111" stroke-width="0.75"/>
<circle cx="132.46" cy="635.7" r="2.15" fill="#1b9e77" stroke="#111" stroke-width="0.75"/>
<circle cx="144.35" cy="631.97" r="2.15" fill="#d95f02" stroke="#111" stroke-width="0.75"/>
<circle cx="130.42" cy="640.01" r="2.15" fill="#d95f02" stroke="#111" stroke-width="0.75"/>
<circle cx="126.28" cy="642.63" r="2.15" fill="#d95f02" stroke="#111" stroke-width="0.75"/>
<circle cx="208.5" cy="591.91" r="2.15" fill="#d95f02" stroke="#111" stroke-width="0.75"/>
<circle cx="237.72" cy="568.65" r="2.15" fill="#d95f02" stroke="#111" stroke-width="0.75"/>
<circle cx="123.16" cy="645.51" r="2.15" fill="#d95f02" stroke="#111" stroke-width="0.75"/>
<circle cx="128.18" cy="643.13" r="2.15" fill="#1b9e77" stroke="#111" stroke-width="0.75"/>
<circle cx="237.58" cy="568.25" r="2.15" fill="#d95f02" stroke="#111" stroke-width="0.75"/>
<circle cx="174.02" cy="610.02" r="2.15" fill="#1b9e77" stroke="#111" stroke-width="0.75"/>
<circle cx="116.37" cy="656.16" r="2.15" fill="#1b9e77" stroke="#111" stroke-width="0.75"/>
<circle cx="91.83" cy="670.89" r="2.15" fill="#d95f02" stroke="#111" stroke-width="0.75"/>
<circle cx="99.35" cy="666.13" r="2.15" fill="#d95f02" stroke="#111" stroke-width="0.75"/>
<circle cx="96.33" cy="669.35" r="2.15" fill="#1b9e77" stroke="#111" stroke-width="0.75"/>
<circle cx="236.16" cy="566.31" r="2.15" fill="#d95f02" stroke="#111" stroke-width="0.75"/>
<circle cx="119.88" cy="653.75" r="2.15" fill="#d95f02" stroke="#111" stroke-width="0.75"/>
<circle cx="97.5" cy="665.56" r="2.15" fill="#1b9e77" stroke="#111" stroke-width="0.75"/>
<circle cx="228.9" cy="573.28" r="2.15" fill="#1b9e77" stroke="#111" stroke-width="0.75"/>
<circle cx="193.62" cy="597.93" r="2.15" fill="#d95f02" stroke="#111" stroke-width="0.75"/>
<circle cx="102.86" cy="659.78" r="2.15" fill="#d95f02" stroke="#111" stroke-width="0.75"/>
<circle cx="236.18" cy="566.87" r="2.15" fill="#1b9e77" stroke="#111" stroke-width="0.75"/>
<circle cx="215.93" cy="579.3" r="2.15" fill="#d95f02" stroke="#111" stroke-width="0.75"/>
<circle cx="114.87" cy="650.75" r="2.15" fill="#7570b3" stroke="#111" stroke-width="0.75"/>
<circle cx="98.92" cy="668.57" r="2.15" fill="#d95f02" stroke="#111" stroke-width="0.75"/>
<circle cx="186.57" cy="599.44" r="2.15" fill="#1b9e77" stroke="#111" stroke-width="0.75"/>
<circle cx="216.69" cy="577.14" r="2.15" fill="#d95f02" stroke="#111" stroke-width="0.75"/>
<circle cx="111.48" cy="654.83" r="2.15" fill="#1b9e77" stroke="#111" stroke-width="0.75"/>
<circle cx="84.82" cy="675.66" r="2.15" fill="#d95f02" stroke="#111" stroke-width="0.75"/>
<circle cx="85.03" cy="674.07" r="2.15" fill="#d95f02" stroke="#111" stroke-width="0.75"/>
<circle cx="128.46" cy="640.61" r="2.15" fill="#d95f02" stroke="#111" stroke-width="0.75"/>
<circle cx="223.51" cy="574.93" r="2.15" fill="#1b9e77" stroke="#111" stroke-width="0.75"/>
<circle cx="114.61" cy="659.77" r="2.15" fill="#1b9e77" stroke="#111" stroke-width="0.75"/>
<circle cx="122.76" cy="646.81" r="2.15" fill="#1b9e77" stroke="#111" stroke-width="0.75"/>
<circle cx="145.08" cy="635.91" r="2.15" fill="#1b9e77" stroke="#111" stroke-width="0.75"/>
<circle cx="228.28" cy="575.15" r="2.15" fill="#1b9e77" stroke="#111" stroke-width="0.75"/>
<circle cx="187.12" cy="602.6" r="2.15" fill="#d95f02" stroke="#111" stroke-width="0.75"/>
<circle cx="93.7" cy="670.39" r="2.15" fill="#d95f02" stroke="#111" stroke-width="0.75"/>
<circle cx="84.44" cy="681.03" r="2.15" fill="#7570b3" stroke="#111" stroke-width="0.75"/>
<circle cx="185.7" cy="609.74" r="2.15" fill="#d95f02" stroke="#111" stroke-width="0.75"/>
<circle cx="83.94" cy="678.1" r="2.15" fill="#d95f02" stroke="#111" stroke-width="0.75"/>
<circle cx="103.24" cy="665.72" r="2.15" fill="#d95f02" stroke="#111" stroke-width="0.75"/>
<circle cx="90.51" cy="669.18" r="2.15" fill="#d95f02" stroke="#111" stroke-width="0.75"/>
<circle cx="105.99" cy="659.71" r="2.15" fill="#d95f02" stroke="#111" stroke-width="0.75"/>
<circle cx="97.96" cy="663.14" r="2.15" fill="#d95f02" stroke="#111" stroke-width="0.75"/>
<circle cx="105.37" cy="657.81" r="2.15" fill="#d95f02" stroke="#111" stroke-width="0.75"/>
<circle cx="97.03" cy="663.51" r="2.15" fill="#d95f02" stroke="#111" stroke-width="0.75"/>
<circle cx="110.39" cy="656.08" r="2.15" fill="#1b9e77" stroke="#111" stroke-width="0.75"/>
<circle cx="186.84" cy="603.32" r="2.15" fill="#7570b3" stroke="#111" stroke-width="0.75"/>
<circle cx="128.76" cy="649.43" r="2.15" fill="#1b9e77" stroke="#111" stroke-width="0.75"/>
<circle cx="239.96" cy="564.31" r="2.15" fill="#1b9e77" stroke="#111" stroke-width="0.75"/>
<circle cx="109.94" cy="660.01" r="2.15" fill="#d95f02" stroke="#111" stroke-width="0.75"/>
<circle cx="116.5" cy="650" r="2.15" fill="#d95f02" stroke="#111" stroke-width="0.75"/>
<circle cx="108.74" cy="661" r="2.15" fill="#1b9e77" stroke="#111" stroke-width="0.75"/>
<circle cx="120.65" cy="649.37" r="2.15" fill="#1b9e77" stroke="#111" stroke-width="0.75"/>
<circle cx="148.9" cy="627.39" r="2.15" fill="#7570b3" stroke="#111" stroke-width="0.75"/>
<circle cx="174.39" cy="610.63" r="2.15" fill="#1b9e77" stroke="#111" stroke-width="0.75"/>
<circle cx="96.19" cy="667.45" r="2.15" fill="#d95f02" stroke="#111" stroke-width="0.75"/>
<circle cx="161.38" cy="624.35" r="2.15" fill="#d95f02" stroke="#111" stroke-width="0.75"/>
<circle cx="123.73" cy="645.82" r="2.15" fill="#d95f02" stroke="#111" stroke-width="0.75"/>
<circle cx="106.57" cy="659.52" r="2.15" fill="#d95f02" stroke="#111" stroke-width="0.75"/>
<circle cx="94.81" cy="671.21" r="2.15" fill="#d95f02" stroke="#111" stroke-width="0.75"/>
<circle cx="212.09" cy="582.4" r="2.15" fill="#1b9e77" stroke="#111" stroke-width="0.75"/>
<circle cx="259.61" cy="550.27" r="2.15" fill="#1b9e77" stroke="#111" stroke-width="0.75"/>
<circle cx="87.81" cy="670.45" r="2.15" fill="#7570b3" stroke="#111" stroke-width="0.75"/>
<circle cx="117.63" cy="655.36" r="2.15" fill="#d95f02" stroke="#111" stroke-width="0.75"/>
<circle cx="114.2" cy="651.28" r="2.15" fill="#1b9e77" stroke="#111" stroke-width="0.75"/>
<circle cx="123.1" cy="644.88" r="2.15" fill="#d95f02" stroke="#111" stroke-width="0.75"/>
<circle cx="165.7" cy="616.56" r="2.15" fill="#1b9e77" stroke="#111" stroke-width="0.75"/>
<circle cx="161.67" cy="619.85" r="2.15" fill="#1b9e77" stroke="#111" stroke-width="0.75"/>
<circle cx="90.71" cy="675.23" r="2.15" fill="#d95f02" stroke="#111" stroke-width="0.75"/>
<circle cx="131.63" cy="646.48" r="2.15" fill="#d95f02" stroke="#111" stroke-width="0.75"/>
<circle cx="161.99" cy="614.35" r="2.15" fill="#1b9e77" stroke="#111" stroke-width="0.75"/>
<circle cx="105.18" cy="657.05" r="2.15" fill="#d95f02" stroke="#111" stroke-width="0.75"/>
<circle cx="234.71" cy="567.57" r="2.15" fill="#d95f02" stroke="#111" stroke-width="0.75"/>
<circle cx="103.17" cy="662.2" r="2.15" fill="#d95f02" stroke="#111" stroke-width="0.75"/>
<circle cx="114.41" cy="646.45" r="2.15" fill="#1b9e77" stroke="#111" stroke-width="0.75"/>
<circle cx="94.62" cy="669.99" r="2.15" fill="#d95f02" stroke="#111" stroke-width="0.75"/>
<circle cx="99.36" cy="664.79" r="2.15" fill="#d95f02" stroke="#111" stroke-width="0.75"/>
<circle cx="99.95" cy="663.62" r="2.15" fill="#d95f02" stroke="#111" stroke-width="0.75"/>
<circle cx="101.93" cy="663" r="2.15" fill="#d95f02" stroke="#111" stroke-width="0.75"/>
<circle cx="195.57" cy="599.32" r="2.15" fill="#1b9e77" stroke="#111" stroke-width="0.75"/>
<circle cx="119" cy="654.72" r="2.15" fill="#1b9e77" stroke="#111" stroke-width="0.75"/>
<circle cx="118.49" cy="652.97" r="2.15" fill="#d95f02" stroke="#111" stroke-width="0.75"/>
<circle cx="92.83" cy="667.05" r="2.15" fill="#d95f02" stroke="#111" stroke-width="0.75"/>
<circle cx="234.35" cy="571.01" r="2.15" fill="#1b9e77" stroke="#111" stroke-width="0.75"/>
<circle cx="173.64" cy="607.87" r="2.15" fill="#1b9e77" stroke="#111" stroke-width="0.75"/>
<circle cx="147.26" cy="637.43" r="2.15" fill="#1b9e77" stroke="#111" stroke-width="0.75"/>
<circle cx="106.27" cy="654.74" r="2.15" fill="#d95f02" stroke="#111" stroke-width="0.75"/>
<circle cx="159.92" cy="619.88" r="2.15" fill="#1b9e77" stroke="#111" stroke-width="0.75"/>
<circle cx="191.51" cy="597.73" r="2.15" fill="#1b9e77" stroke="#111" stroke-width="0.75"/>
<circle cx="116.94" cy="655.71" r="2.15" fill="#d95f02" stroke="#111" stroke-width="0.75"/>
<circle cx="187.3" cy="601.39" r="2.15" fill="#d95f02" stroke="#111" stroke-width="0.75"/>
<circle cx="85.27" cy="673.86" r="2.15" fill="#d95f02" stroke="#111" stroke-width="0.75"/>
<circle cx="91.04" cy="672.13" r="2.15" fill="#d95f02" stroke="#111" stroke-width="0.75"/>
<circle cx="100.48" cy="665.23" r="2.15" fill="#d95f02" stroke="#111" stroke-width="0.75"/>
<circle cx="190.31" cy="600.46" r="2.15" fill="#1b9e77" stroke="#111" stroke-width="0.75"/>
<circle cx="248.76" cy="557.86" r="2.15" fill="#d95f02" stroke="#111" stroke-width="0.75"/>
<circle cx="149.44" cy="627.73" r="2.15" fill="#d95f02" stroke="#111" stroke-width="0.75"/>
<circle cx="167.28" cy="618.34" r="2.15" fill="#1b9e77" stroke="#111" stroke-width="0.75"/>
<circle cx="106.35" cy="662.91" r="2.15" fill="#1b9e77" stroke="#111" stroke-width="0.75"/>
<circle cx="222.33" cy="577.1" r="2.15" fill="#1b9e77" stroke="#111" stroke-width="0.75"/>
<circle cx="218.15" cy="574.68" r="2.15" fill="#1b9e77" stroke="#111" stroke-width="0.75"/>
<circle cx="238.61" cy="565.61" r="2.15" fill="#1b9e77" stroke="#111" stroke-width="0.75"/>
<circle cx="137.32" cy="634.82" r="2.15" fill="#1b9e77" stroke="#111" stroke-width="0.75"/>
<circle cx="91.99" cy="671.75" r="2.15" fill="#d95f02" stroke="#111" stroke-width="0.75"/>
<circle cx="145.79" cy="632.26" r="2.15" fill="#d95f02" stroke="#111" stroke-width="0.75"/>
<circle cx="127.55" cy="648.04" r="2.15" fill="#d95f02" stroke="#111" stroke-width="0.75"/>
<circle cx="122.28" cy="643.88" r="2.15" fill="#d95f02" stroke="#111" stroke-width="0.75"/>
<circle cx="84.83" cy="675.84" r="2.15" fill="#d95f02" stroke="#111" stroke-width="0.75"/>
<circle cx="100.75" cy="664" r="2.15" fill="#d95f02" stroke="#111" stroke-width="0.75"/>
<circle cx="109.39" cy="662.77" r="2.15" fill="#d95f02" stroke="#111" stroke-width="0.75"/>
<circle cx="88.47" cy="673.52" r="2.15" fill="#d95f02" stroke="#111" stroke-width="0.75"/>
<circle cx="106.4" cy="660.57" r="2.15" fill="#d95f02" stroke="#111" stroke-width="0.75"/>
<circle cx="125.85" cy="647.44" r="2.15" fill="#7570b3" stroke="#111" stroke-width="0.75"/>
<circle cx="123.54" cy="647.15" r="2.15" fill="#1b9e77" stroke="#111" stroke-width="0.75"/>
<circle cx="239.61" cy="566.71" r="2.15" fill="#1b9e77" stroke="#111" stroke-width="0.75"/>
<circle cx="154.31" cy="624.36" r="2.15" fill="#d95f02" stroke="#111" stroke-width="0.75"/>
<circle cx="225.86" cy="576.19" r="2.15" fill="#1b9e77" stroke="#111" stroke-width="0.75"/>
<circle cx="135.17" cy="642.34" r="2.15" fill="#d95f02" stroke="#111" stroke-width="0.75"/>
<circle cx="117.19" cy="645.57" r="2.15" fill="#1b9e77" stroke="#111" stroke-width="0.75"/>
<circle cx="106.86" cy="658.46" r="2.15" fill="#1b9e77" stroke="#111" stroke-width="0.75"/>
<circle cx="194.49" cy="595.47" r="2.15" fill="#d95f02" stroke="#111" stroke-width="0.75"/>
<circle cx="184.33" cy="607.5" r="2.15" fill="#1b9e77" stroke="#111" stroke-width="0.75"/>
<circle cx="110.66" cy="656.57" r="2.15" fill="#d95f02" stroke="#111" stroke-width="0.75"/>
<circle cx="208.74" cy="586.42" r="2.15" fill="#1b9e77" stroke="#111" stroke-width="0.75"/>
<circle cx="233.2" cy="568.37" r="2.15" fill="#1b9e77" stroke="#111" stroke-width="0.75"/>
<circle cx="111.63" cy="657.36" r="2.15" fill="#d95f02" stroke="#111" stroke-width="0.75"/>
<circle cx="143.86" cy="633.97" r="2.15" fill="#1b9e77" stroke="#111" stroke-width="0.75"/>
<circle cx="89.07" cy="668.88" r="2.15" fill="#d95f02" stroke="#111" stroke-width="0.75"/>
<circle cx="91.79" cy="669.7" r="2.15" fill="#7570b3" stroke="#111" stroke-width="0.75"/>
<circle cx="106.65" cy="660.69" r="2.15" fill="#d95f02" stroke="#111" stroke-width="0.75"/>
<circle cx="88.98" cy="675.06" r="2.15" fill="#d95f02" stroke="#111" stroke-width="0.75"/>
<circle cx="153.72" cy="623.59" r="2.15" fill="#d95f02" stroke="#111" stroke-width="0.75"/>
<circle cx="229.31" cy="571.18" r="2.15" fill="#d95f02" stroke="#111" stroke-width="0.75"/>
<circle cx="194.61" cy="600.09" r="2.15" fill="#d95f02" stroke="#111" stroke-width="0.75"/>
<circle cx="126.32" cy="647.07" r="2.15" fill="#1b9e77" stroke="#111" stroke-width="0.75"/>
<circle cx="94.05" cy="670.17" r="2.15" fill="#d95f02" stroke="#111" stroke-width="0.75"/>
<circle cx="99.11" cy="667.87" r="2.15" fill="#d95f02" stroke="#111" stroke-width="0.75"/>
<circle cx="94.5" cy="670.73" r="2.15" fill="#d95f02" stroke="#111" stroke-width="0.75"/>
<circle cx="110.11" cy="656.13" r="2.15" fill="#d95f02" stroke="#111" stroke-width="0.75"/>
<circle cx="144.6" cy="634.51" r="2.15" fill="#1b9e77" stroke="#111" stroke-width="0.75"/>
<circle cx="125.88" cy="649.52" r="2.15" fill="#7570b3" stroke="#111" stroke-width="0.75"/>
<circle cx="107.25" cy="660.26" r="2.15" fill="#d95f02" stroke="#111" stroke-width="0.75"/>
<circle cx="107.98" cy="658" r="2.15" fill="#d95f02" stroke="#111" stroke-width="0.75"/>
<circle cx="149.8" cy="628.9" r="2.15" fill="#1b9e77" stroke="#111" stroke-width="0.75"/>
<circle cx="122.55" cy="650.79" r="2.15" fill="#d95f02" stroke="#111" stroke-width="0.75"/>
<circle cx="110.37" cy="654.92" r="2.15" fill="#d95f02" stroke="#111" stroke-width="0.75"/>
<circle cx="244.51" cy="560.62" r="2.15" fill="#1b9e77" stroke="#111" stroke-width="0.75"/>
<circle cx="92.27" cy="670.97" r="2.15" fill="#d95f02" stroke="#111" stroke-width="0.75"/>
<circle cx="98.35" cy="663.05" r="2.15" fill="#d95f02" stroke="#111" stroke-width="0.75"/>
<circle cx="231.96" cy="573.03" r="2.15" fill="#1b9e77" stroke="#111" stroke-width="0.75"/>
<circle cx="133.69" cy="642.03" r="2.15" fill="#1b9e77" stroke="#111" stroke-width="0.75"/>
<circle cx="95.22" cy="668.96" r="2.15" fill="#d95f02" stroke="#111" stroke-width="0.75"/>
<circle cx="100.09" cy="667.26" r="2.15" fill="#d95f02" stroke="#111" stroke-width="0.75"/>
<circle cx="84.26" cy="680.2" r="2.15" fill="#d95f02" stroke="#111" stroke-width="0.75"/>
<circle cx="237.42" cy="567.49" r="2.15" fill="#1b9e77" stroke="#111" stroke-width="0.75"/>
<circle cx="146.62" cy="628.08" r="2.15" fill="#d95f02" stroke="#111" stroke-width="0.75"/>
<circle cx="96.61" cy="671.02" r="2.15" fill="#1b9e77" stroke="#111" stroke-width="0.75"/>
<circle cx="106.09" cy="661.2" r="2.15" fill="#d95f02" stroke="#111" stroke-width="0.75"/>
<circle cx="124.58" cy="643.96" r="2.15" fill="#7570b3" stroke="#111" stroke-width="0.75"/>
<circle cx="95.95" cy="667.55" r="2.15" fill="#d95f02" stroke="#111" stroke-width="0.75"/>
<circle cx="234.39" cy="572.03" r="2.15" fill="#d95f02" stroke="#111" stroke-width="0.75"/>
<circle cx="155.32" cy="621.07" r="2.15" fill="#d95f02" stroke="#111" stroke-width="0.75"/>
<circle cx="182.88" cy="605.99" r="2.15" fill="#1b9e77" stroke="#111" stroke-width="0.75"/>
<circle cx="185.15" cy="599.43" r="2.15" fill="#1b9e77" stroke="#111" stroke-width="0.75"/>
<circle cx="178.5" cy="607.07" r="2.15" fill="#d95f02" stroke="#111" stroke-width="0.75"/>
<circle cx="237.33" cy="565.88" r="2.15" fill="#1b9e77" stroke="#111" stroke-width="0.75"/>
<circle cx="223.63" cy="571.14" r="2.15" fill="#d95f02" stroke="#111" stroke-width="0.75"/>
<circle cx="214.51" cy="576.7" r="2.15" fill="#1b9e77" stroke="#111" stroke-width="0.75"/>
<circle cx="240.35" cy="562.63" r="2.15" fill="#1b9e77" stroke="#111" stroke-width="0.75"/>
<circle cx="175.37" cy="609.11" r="2.15" fill="#1b9e77" stroke="#111" stroke-width="0.75"/>
<circle cx="98.71" cy="665.91" r="2.15" fill="#d95f02" stroke="#111" stroke-width="0.75"/>
<circle cx="105.39" cy="665.13" r="2.15" fill="#d95f02" stroke="#111" stroke-width="0.75"/>
<circle cx="236.38" cy="569.65" r="2.15" fill="#1b9e77" stroke="#111" stroke-width="0.75"/>
<circle cx="111.25" cy="659.21" r="2.15" fill="#1b9e77" stroke="#111" stroke-width="0.75"/>
<circle cx="101.48" cy="664.6" r="2.15" fill="#d95f02" stroke="#111" stroke-width="0.75"/>
<circle cx="142.62" cy="639.29" r="2.15" fill="#7570b3" stroke="#111" stroke-width="0.75"/>
<circle cx="173.43" cy="617.56" r="2.15" fill="#d95f02" stroke="#111" stroke-width="0.75"/>
<circle cx="107.25" cy="665.68" r="2.15" fill="#1b9e77" stroke="#111" stroke-width="0.75"/>
<circle cx="90.06" cy="671.6" r="2.15" fill="#d95f02" stroke="#111" stroke-width="0.75"/>
<circle cx="213.1" cy="587.53" r="2.15" fill="#1b9e77" stroke="#111" stroke-width="0.75"/>
<circle cx="89.74" cy="671.44" r="2.15" fill="#d95f02" stroke="#111" stroke-width="0.75"/>
<circle cx="107.92" cy="657.9" r="2.15" fill="#d95f02" stroke="#111" stroke-width="0.75"/>
<circle cx="238.27" cy="561.33" r="2.15" fill="#1b9e77" stroke="#111" stroke-width="0.75"/>
<circle cx="201.31" cy="592.35" r="2.15" fill="#1b9e77" stroke="#111" stroke-width="0.75"/>
<circle cx="103.37" cy="661.36" r="2.15" fill="#7570b3" stroke="#111" stroke-width="0.75"/>
<circle cx="89.59" cy="669.32" r="2.15" fill="#d95f02" stroke="#111" stroke-width="0.75"/>
<circle cx="105.47" cy="661.61" r="2.15" fill="#1b9e77" stroke="#111" stroke-width="0.75"/>
<circle cx="122.19" cy="651.71" r="2.15" fill="#1b9e77" stroke="#111" stroke-width="0.75"/>
<circle cx="226.1" cy="575.48" r="2.15" fill="#1b9e77" stroke="#111" stroke-width="0.75"/>
<circle cx="93.15" cy="670.08" r="2.15" fill="#d95f02" stroke="#111" stroke-width="0.75"/>
<circle cx="191.22" cy="600.01" r="2.15" fill="#d95f02" stroke="#111" stroke-width="0.75"/>
<circle cx="178.93" cy="608.82" r="2.15" fill="#1b9e77" stroke="#111" stroke-width="0.75"/>
<circle cx="232.38" cy="571.74" r="2.15" fill="#d95f02" stroke="#111" stroke-width="0.75"/>
<circle cx="105.51" cy="660.09" r="2.15" fill="#d95f02" stroke="#111" stroke-width="0.75"/>
<circle cx="193.75" cy="598.89" r="2.15" fill="#d95f02" stroke="#111" stroke-width="0.75"/>
<circle cx="101.59" cy="664.8" r="2.15" fill="#1b9e77" stroke="#111" stroke-width="0.75"/>
<circle cx="91.23" cy="673.24" r="2.15" fill="#d95f02" stroke="#111" stroke-width="0.75"/>
<circle cx="140.06" cy="639.97" r="2.15" fill="#1b9e77" stroke="#111" stroke-width="0.75"/>
<circle cx="135.6" cy="649.37" r="2.15" fill="#d95f02" stroke="#111" stroke-width="0.75"/>
<circle cx="99.66" cy="667.66" r="2.15" fill="#d95f02" stroke="#111" stroke-width="0.75"/>
<circle cx="142.36" cy="640.29" r="2.15" fill="#d95f02" stroke="#111" stroke-width="0.75"/>
<circle cx="200.4" cy="588.9" r="2.15" fill="#7570b3" stroke="#111" stroke-width="0.75"/>
<circle cx="203.11" cy="590.31" r="2.15" fill="#1b9e77" stroke="#111" stroke-width="0.75"/>
<circle cx="90.94" cy="670.82" r="2.15" fill="#d95f02" stroke="#111" stroke-width="0.75"/>
<circle cx="133.74" cy="641.77" r="2.15" fill="#1b9e77" stroke="#111" stroke-width="0.75"/>
<circle cx="221.93" cy="577.48" r="2.15" fill="#d95f02" stroke="#111" stroke-width="0.75"/>
<circle cx="95.88" cy="661.96" r="2.15" fill="#d95f02" stroke="#111" stroke-width="0.75"/>
<circle cx="86.7" cy="673.69" r="2.15" fill="#d95f02" stroke="#111" stroke-width="0.75"/>
<circle cx="180.35" cy="607.19" r="2.15" fill="#1b9e77" stroke="#111" stroke-width="0.75"/>
<circle cx="181.09" cy="604.61" r="2.15" fill="#1b9e77" stroke="#111" stroke-width="0.75"/>
<circle cx="232.88" cy="572.59" r="2.15" fill="#1b9e77" stroke="#111" stroke-width="0.75"/>
<circle cx="194.2" cy="599.7" r="2.15" fill="#d95f02" stroke="#111" stroke-width="0.75"/>
<circle cx="236.93" cy="565.93" r="2.15" fill="#d95f02" stroke="#111" stroke-width="0.75"/>
<circle cx="226.74" cy="573.18" r="2.15" fill="#1b9e77" stroke="#111" stroke-width="0.75"/>
<circle cx="220.6" cy="576.26" r="2.15" fill="#1b9e77" stroke="#111" stroke-width="0.75"/>
<circle cx="145.44" cy="628.64" r="2.15" fill="#1b9e77" stroke="#111" stroke-width="0.75"/>
<circle cx="87.58" cy="671.47" r="2.15" fill="#d95f02" stroke="#111" stroke-width="0.75"/>
<circle cx="170.4" cy="610.7" r="2.15" fill="#1b9e77" stroke="#111" stroke-width="0.75"/>
<circle cx="162.82" cy="625.55" r="2.15" fill="#d95f02" stroke="#111" stroke-width="0.75"/>
<circle cx="168.28" cy="620.09" r="2.15" fill="#d95f02" stroke="#111" stroke-width="0.75"/>
<circle cx="91.42" cy="673.6" r="2.15" fill="#d95f02" stroke="#111" stroke-width="0.75"/>
<circle cx="85.15" cy="675.66" r="2.15" fill="#1b9e77" stroke="#111" stroke-width="0.75"/>
<circle cx="136.62" cy="641.36" r="2.15" fill="#d95f02" stroke="#111" stroke-width="0.75"/>
<circle cx="231.72" cy="568.18" r="2.15" fill="#1b9e77" stroke="#111" stroke-width="0.75"/>
<circle cx="104.59" cy="659.29" r="2.15" fill="#7570b3" stroke="#111" stroke-width="0.75"/>
<circle cx="225.86" cy="572.37" r="2.15" fill="#d95f02" stroke="#111" stroke-width="0.75"/>
<circle cx="84.29" cy="682.54" r="2.15" fill="#d95f02" stroke="#111" stroke-width="0.75"/>
<circle cx="100.56" cy="664.15" r="2.15" fill="#7570b3" stroke="#111" stroke-width="0.75"/>
<circle cx="92.83" cy="670.81" r="2.15" fill="#d95f02" stroke="#111" stroke-width="0.75"/>
<circle cx="176.82" cy="606.68" r="2.15" fill="#d95f02" stroke="#111" stroke-width="0.75"/>
<circle cx="140.24" cy="631.9" r="2.15" fill="#1b9e77" stroke="#111" stroke-width="0.75"/>
<circle cx="225.36" cy="572.05" r="2.15" fill="#1b9e77" stroke="#111" stroke-width="0.75"/>
<circle cx="94.62" cy="670.92" r="2.15" fill="#7570b3" stroke="#111" stroke-width="0.75"/>
<circle cx="128.97" cy="649.19" r="2.15" fill="#1b9e77" stroke="#111" stroke-width="0.75"/>
<circle cx="127.65" cy="642.73" r="2.15" fill="#1b9e77" stroke="#111" stroke-width="0.75"/>
<circle cx="158.68" cy="620.99" r="2.15" fill="#1b9e77" stroke="#111" stroke-width="0.75"/>
<circle cx="93.28" cy="672.94" r="2.15" fill="#d95f02" stroke="#111" stroke-width="0.75"/>
<circle cx="109.78" cy="651.98" r="2.15" fill="#1b9e77" stroke="#111" stroke-width="0.75"/>
<circle cx="123.62" cy="648.53" r="2.15" fill="#1b9e77" stroke="#111" stroke-width="0.75"/>
<circle cx="112.08" cy="662.01" r="2.15" fill="#1b9e77" stroke="#111" stroke-width="0.75"/>
<circle cx="123.47" cy="647.95" r="2.15" fill="#1b9e77" stroke="#111" stroke-width="0.75"/>
<circle cx="113.89" cy="654.11" r="2.15" fill="#d95f02" stroke="#111" stroke-width="0.75"/>
<circle cx="121.27" cy="657.51" r="2.15" fill="#1b9e77" stroke="#111" stroke-width="0.75"/>
<circle cx="142.44" cy="633.31" r="2.15" fill="#d95f02" stroke="#111" stroke-width="0.75"/>
<circle cx="96.17" cy="668.25" r="2.15" fill="#7570b3" stroke="#111" stroke-width="0.75"/>
<circle cx="101.73" cy="662.69" r="2.15" fill="#1b9e77" stroke="#111" stroke-width="0.75"/>
<circle cx="129.99" cy="641.18" r="2.15" fill="#1b9e77" stroke="#111" stroke-width="0.75"/>
<circle cx="231.37" cy="568.45" r="2.15" fill="#d95f02" stroke="#111" stroke-width="0.75"/>
<circle cx="178.6" cy="611.51" r="2.15" fill="#d95f02" stroke="#111" stroke-width="0.75"/>
<circle cx="183.46" cy="601.28" r="2.15" fill="#d95f02" stroke="#111" stroke-width="0.75"/>
<circle cx="215.93" cy="582.26" r="2.15" fill="#1b9e77" stroke="#111" stroke-width="0.75"/>
<circle cx="193.22" cy="595.4" r="2.15" fill="#1b9e77" stroke="#111" stroke-width="0.75"/>
<circle cx="103.7" cy="664.33" r="2.15" fill="#d95f02" stroke="#111" stroke-width="0.75"/>
<circle cx="194.7" cy="595.75" r="2.15" fill="#d95f02" stroke="#111" stroke-width="0.75"/>
<circle cx="95.99" cy="670.29" r="2.15" fill="#1b9e77" stroke="#111" stroke-width="0.75"/>
<circle cx="223.1" cy="578.88" r="2.15" fill="#1b9e77" stroke="#111" stroke-width="0.75"/>
<circle cx="98.51" cy="670.83" r="2.15" fill="#d95f02" stroke="#111" stroke-width="0.75"/>
<circle cx="119.86" cy="652.06" r="2.15" fill="#1b9e77" stroke="#111" stroke-width="0.75"/>
<circle cx="226.37" cy="574.2" r="2.15" fill="#1b9e77" stroke="#111" stroke-width="0.75"/>
<circle cx="128.31" cy="645.59" r="2.15" fill="#d95f02" stroke="#111" stroke-width="0.75"/>
<circle cx="119.83" cy="655.47" r="2.15" fill="#d95f02" stroke="#111" stroke-width="0.75"/>
<circle cx="97" cy="671.69" r="2.15" fill="#d95f02" stroke="#111" stroke-width="0.75"/>
<circle cx="143.96" cy="634.75" r="2.15" fill="#7570b3" stroke="#111" stroke-width="0.75"/>
<circle cx="124.48" cy="648.23" r="2.15" fill="#1b9e77" stroke="#111" stroke-width="0.75"/>
<circle cx="86.78" cy="675.71" r="2.15" fill="#d95f02" stroke="#111" stroke-width="0.75"/>
<circle cx="160.45" cy="621.25" r="2.15" fill="#d95f02" stroke="#111" stroke-width="0.75"/>
<circle cx="85.53" cy="677.59" r="2.15" fill="#d95f02" stroke="#111" stroke-width="0.75"/>
<circle cx="89.56" cy="671.54" r="2.15" fill="#d95f02" stroke="#111" stroke-width="0.75"/>
<circle cx="114.23" cy="651.29" r="2.15" fill="#d95f02" stroke="#111" stroke-width="0.75"/>
<circle cx="189.07" cy="602.32" r="2.15" fill="#d95f02" stroke="#111" stroke-width="0.75"/>
<circle cx="83.97" cy="673.67" r="2.15" fill="#d95f02" stroke="#111" stroke-width="0.75"/>
<circle cx="108.72" cy="656.3" r="2.15" fill="#1b9e77" stroke="#111" stroke-width="0.75"/>
<circle cx="92.35" cy="675.98" r="2.15" fill="#d95f02" stroke="#111" stroke-width="0.75"/>
<circle cx="89.44" cy="666.27" r="2.15" fill="#d95f02" stroke="#111" stroke-width="0.75"/>
<circle cx="112.7" cy="651.98" r="2.15" fill="#d95f02" stroke="#111" stroke-width="0.75"/>
<circle cx="190.16" cy="598.81" r="2.15" fill="#d95f02" stroke="#111" stroke-width="0.75"/>
<circle cx="211.73" cy="585.83" r="2.15" fill="#d95f02" stroke="#111" stroke-width="0.75"/>
<circle cx="130.16" cy="646.36" r="2.15" fill="#1b9e77" stroke="#111" stroke-width="0.75"/>
<circle cx="102.94" cy="660.2" r="2.15" fill="#d95f02" stroke="#111" stroke-width="0.75"/>
<circle cx="226.68" cy="573.19" r="2.15" fill="#d95f02" stroke="#111" stroke-width="0.75"/>
<circle cx="214.04" cy="581.96" r="2.15" fill="#1b9e77" stroke="#111" stroke-width="0.75"/>
<circle cx="213.59" cy="581.13" r="2.15" fill="#1b9e77" stroke="#111" stroke-width="0.75"/>
<circle cx="123.44" cy="649.6" r="2.15" fill="#7570b3" stroke="#111" stroke-width="0.75"/>
<circle cx="156.54" cy="625.95" r="2.15" fill="#7570b3" stroke="#111" stroke-width="0.75"/>
<circle cx="228.44" cy="569.2" r="2.15" fill="#d95f02" stroke="#111" stroke-width="0.75"/>
<circle cx="132.75" cy="638.71" r="2.15" fill="#1b9e77" stroke="#111" stroke-width="0.75"/>
<circle cx="103.45" cy="662.78" r="2.15" fill="#d95f02" stroke="#111" stroke-width="0.75"/>
<circle cx="86.73" cy="676.89" r="2.15" fill="#d95f02" stroke="#111" stroke-width="0.75"/>
<circle cx="97.54" cy="672.13" r="2.15" fill="#d95f02" stroke="#111" stroke-width="0.75"/>
<circle cx="109.98" cy="656.26" r="2.15" fill="#1b9e77" stroke="#111" stroke-width="0.75"/>
<circle cx="256.46" cy="552.82" r="2.15" fill="#d95f02" stroke="#111" stroke-width="0.75"/>
<circle cx="96.66" cy="670.15" r="2.15" fill="#d95f02" stroke="#111" stroke-width="0.75"/>
<circle cx="94.38" cy="670.41" r="2.15" fill="#d95f02" stroke="#111" stroke-width="0.75"/>
<circle cx="98.32" cy="664.38" r="2.15" fill="#d95f02" stroke="#111" stroke-width="0.75"/>
<circle cx="192.71" cy="596.95" r="2.15" fill="#d95f02" stroke="#111" stroke-width="0.75"/>
<circle cx="208.2" cy="586.03" r="2.15" fill="#d95f02" stroke="#111" stroke-width="0.75"/>
<circle cx="96.06" cy="667.99" r="2.15" fill="#d95f02" stroke="#111" stroke-width="0.75"/>
<circle cx="129.73" cy="641.48" r="2.15" fill="#d95f02" stroke="#111" stroke-width="0.75"/>
<circle cx="115.15" cy="656.32" r="2.15" fill="#d95f02" stroke="#111" stroke-width="0.75"/>
<circle cx="99.55" cy="664.81" r="2.15" fill="#d95f02" stroke="#111" stroke-width="0.75"/>
<circle cx="114.62" cy="651.77" r="2.15" fill="#1b9e77" stroke="#111" stroke-width="0.75"/>
<circle cx="129.15" cy="641.3" r="2.15" fill="#1b9e77" stroke="#111" stroke-width="0.75"/>
<circle cx="84.22" cy="677.87" r="2.15" fill="#7570b3" stroke="#111" stroke-width="0.75"/>
<circle cx="199.64" cy="593.42" r="2.15" fill="#1b9e77" stroke="#111" stroke-width="0.75"/>
<circle cx="97.88" cy="668.74" r="2.15" fill="#d95f02" stroke="#111" stroke-width="0.75"/>
<circle cx="124.37" cy="649.36" r="2.15" fill="#d95f02" stroke="#111" stroke-width="0.75"/>
<circle cx="120.63" cy="647.76" r="2.15" fill="#d95f02" stroke="#111" stroke-width="0.75"/>
<circle cx="222.91" cy="573.62" r="2.15" fill="#1b9e77" stroke="#111" stroke-width="0.75"/>
<circle cx="83.78" cy="677.99" r="2.15" fill="#d95f02" stroke="#111" stroke-width="0.75"/>
<circle cx="220.08" cy="580.12" r="2.15" fill="#1b9e77" stroke="#111" stroke-width="0.75"/>
<circle cx="98.62" cy="666.83" r="2.15" fill="#d95f02" stroke="#111" stroke-width="0.75"/>
<circle cx="87.64" cy="673.73" r="2.15" fill="#d95f02" stroke="#111" stroke-width="0.75"/>
<circle cx="89.3" cy="669.26" r="2.15" fill="#d95f02" stroke="#111" stroke-width="0.75"/>
<circle cx="96.3" cy="669.33" r="2.15" fill="#d95f02" stroke="#111" stroke-width="0.75"/>
<circle cx="104.19" cy="665.75" r="2.15" fill="#d95f02" stroke="#111" stroke-width="0.75"/>
<circle cx="132.08" cy="643.24" r="2.15" fill="#1b9e77" stroke="#111" stroke-width="0.75"/>
<circle cx="112.03" cy="655.73" r="2.15" fill="#7570b3" stroke="#111" stroke-width="0.75"/>
<circle cx="108.59" cy="658.76" r="2.15" fill="#d95f02" stroke="#111" stroke-width="0.75"/>
<circle cx="90.98" cy="672.35" r="2.15" fill="#d95f02" stroke="#111" stroke-width="0.75"/>
<circle cx="116.54" cy="651.83" r="2.15" fill="#d95f02" stroke="#111" stroke-width="0.75"/>
<circle cx="137.66" cy="635.04" r="2.15" fill="#7570b3" stroke="#111" stroke-width="0.75"/>
<circle cx="101.11" cy="667.06" r="2.15" fill="#7570b3" stroke="#111" stroke-width="0.75"/>
<circle cx="101.59" cy="665.51" r="2.15" fill="#d95f02" stroke="#111" stroke-width="0.75"/>
<circle cx="106.46" cy="666.19" r="2.15" fill="#1b9e77" stroke="#111" stroke-width="0.75"/>
<circle cx="181.8" cy="602.52" r="2.15" fill="#1b9e77" stroke="#111" stroke-width="0.75"/>
<circle cx="133.19" cy="639.69" r="2.15" fill="#1b9e77" stroke="#111" stroke-width="0.75"/>
<circle cx="121.25" cy="650.6" r="2.15" fill="#7570b3" stroke="#111" stroke-width="0.75"/>
<circle cx="181.01" cy="608.87" r="2.15" fill="#1b9e77" stroke="#111" stroke-width="0.75"/>
<circle cx="95.72" cy="674.32" r="2.15" fill="#d95f02" stroke="#111" stroke-width="0.75"/>
<circle cx="119.92" cy="652.33" r="2.15" fill="#1b9e77" stroke="#111" stroke-width="0.75"/>
<circle cx="163.15" cy="618.78" r="2.15" fill="#1b9e77" stroke="#111" stroke-width="0.75"/>
<circle cx="230.62" cy="566.9" r="2.15" fill="#d95f02" stroke="#111" stroke-width="0.75"/>
<circle cx="216.74" cy="581.55" r="2.15" fill="#1b9e77" stroke="#111" stroke-width="0.75"/>
<circle cx="90.03" cy="676.39" r="2.15" fill="#1b9e77" stroke="#111" stroke-width="0.75"/>
<circle cx="114.11" cy="657.37" r="2.15" fill="#1b9e77" stroke="#111" stroke-width="0.75"/>
<circle cx="109.22" cy="652.28" r="2.15" fill="#d95f02" stroke="#111" stroke-width="0.75"/>
<circle cx="87.03" cy="671.54" r="2.15" fill="#d95f02" stroke="#111" stroke-width="0.75"/>
<circle cx="123.18" cy="643.82" r="2.15" fill="#d95f02" stroke="#111" stroke-width="0.75"/>
<circle cx="113.89" cy="659.72" r="2.15" fill="#d95f02" stroke="#111" stroke-width="0.75"/>
<circle cx="141.6" cy="632.11" r="2.15" fill="#1b9e77" stroke="#111" stroke-width="0.75"/>
<circle cx="112.2" cy="654.69" r="2.15" fill="#d95f02" stroke="#111" stroke-width="0.75"/>
<circle cx="95.63" cy="670.31" r="2.15" fill="#d95f02" stroke="#111" stroke-width="0.75"/>
<circle cx="215.57" cy="584.22" r="2.15" fill="#1b9e77" stroke="#111" stroke-width="0.75"/>
<circle cx="93" cy="668.49" r="2.15" fill="#d95f02" stroke="#111" stroke-width="0.75"/>
<circle cx="110.09" cy="661.44" r="2.15" fill="#1b9e77" stroke="#111" stroke-width="0.75"/>
<circle cx="116.44" cy="653.85" r="2.15" fill="#1b9e77" stroke="#111" stroke-width="0.75"/>
<circle cx="236.39" cy="569.14" r="2.15" fill="#1b9e77" stroke="#111" stroke-width="0.75"/>
<circle cx="178.72" cy="606.99" r="2.15" fill="#1b9e77" stroke="#111" stroke-width="0.75"/>
<circle cx="93.09" cy="670.18" r="2.15" fill="#d95f02" stroke="#111" stroke-width="0.75"/>
<circle cx="116.82" cy="650.81" r="2.15" fill="#1b9e77" stroke="#111" stroke-width="0.75"/>
<circle cx="92.02" cy="674.09" r="2.15" fill="#d95f02" stroke="#111" stroke-width="0.75"/>
<circle cx="83.97" cy="678.83" r="2.15" fill="#d95f02" stroke="#111" stroke-width="0.75"/>
<circle cx="126.31" cy="649.57" r="2.15" fill="#d95f02" stroke="#111" stroke-width="0.75"/>
<circle cx="106.1" cy="660.03" r="2.15" fill="#1b9e77" stroke="#111" stroke-width="0.75"/>
<circle cx="122.41" cy="646.37" r="2.15" fill="#d95f02" stroke="#111" stroke-width="0.75"/>
<circle cx="133.87" cy="641.99" r="2.15" fill="#1b9e77" stroke="#111" stroke-width="0.75"/>
<circle cx="184.38" cy="603.27" r="2.15" fill="#d95f02" stroke="#111" stroke-width="0.75"/>
<circle cx="237.43" cy="566.67" r="2.15" fill="#1b9e77" stroke="#111" stroke-width="0.75"/>
<circle cx="200.86" cy="591.75" r="2.15" fill="#1b9e77" stroke="#111" stroke-width="0.75"/>
<circle cx="86.01" cy="674.17" r="2.15" fill="#1b9e77" stroke="#111" stroke-width="0.75"/>
<circle cx="92.53" cy="671.7" r="2.15" fill="#d95f02" stroke="#111" stroke-width="0.75"/>
<circle cx="104.52" cy="661.65" r="2.15" fill="#d95f02" stroke="#111" stroke-width="0.75"/>
<circle cx="119.49" cy="650.86" r="2.15" fill="#1b9e77" stroke="#111" stroke-width="0.75"/>
<circle cx="215.58" cy="585.07" r="2.15" fill="#1b9e77" stroke="#111" stroke-width="0.75"/>
<circle cx="115.52" cy="647.75" r="2.15" fill="#d95f02" stroke="#111" stroke-width="0.75"/>
<circle cx="115.38" cy="655.47" r="2.15" fill="#d95f02" stroke="#111" stroke-width="0.75"/>
<circle cx="94.08" cy="675.95" r="2.15" fill="#d95f02" stroke="#111" stroke-width="0.75"/>
<circle cx="147.98" cy="625.2" r="2.15" fill="#d95f02" stroke="#111" stroke-width="0.75"/>
<circle cx="114.65" cy="655.93" r="2.15" fill="#1b9e77" stroke="#111" stroke-width="0.75"/>
<circle cx="241.17" cy="562.97" r="2.15" fill="#d95f02" stroke="#111" stroke-width="0.75"/>
<circle cx="128.07" cy="640.18" r="2.15" fill="#d95f02" stroke="#111" stroke-width="0.75"/>
<circle cx="120.7" cy="655.22" r="2.15" fill="#d95f02" stroke="#111" stroke-width="0.75"/>
<circle cx="116.66" cy="654.1" r="2.15" fill="#7570b3" stroke="#111" stroke-width="0.75"/>
<circle cx="90.67" cy="674.56" r="2.15" fill="#d95f02" stroke="#111" stroke-width="0.75"/>
<circle cx="102.91" cy="661.18" r="2.15" fill="#d95f02" stroke="#111" stroke-width="0.75"/>
<circle cx="144.79" cy="625.51" r="2.15" fill="#d95f02" stroke="#111" stroke-width="0.75"/>
<circle cx="218.11" cy="580.89" r="2.15" fill="#1b9e77" stroke="#111" stroke-width="0.75"/>
<circle cx="121.99" cy="651.16" r="2.15" fill="#7570b3" stroke="#111" stroke-width="0.75"/>
<circle cx="127.82" cy="644.51" r="2.15" fill="#1b9e77" stroke="#111" stroke-width="0.75"/>
<circle cx="113.88" cy="654.6" r="2.15" fill="#1b9e77" stroke="#111" stroke-width="0.75"/>
<circle cx="86.15" cy="677.25" r="2.15" fill="#d95f02" stroke="#111" stroke-width="0.75"/>
<circle cx="103.22" cy="662.46" r="2.15" fill="#1b9e77" stroke="#111" stroke-width="0.75"/>
<circle cx="221.99" cy="578.49" r="2.15" fill="#1b9e77" stroke="#111" stroke-width="0.75"/>
<circle cx="128.07" cy="644.37" r="2.15" fill="#d95f02" stroke="#111" stroke-width="0.75"/>
<circle cx="160.29" cy="622.72" r="2.15" fill="#7570b3" stroke="#111" stroke-width="0.75"/>
<circle cx="114.32" cy="652.92" r="2.15" fill="#d95f02" stroke="#111" stroke-width="0.75"/>
<circle cx="233" cy="568.85" r="2.15" fill="#d95f02" stroke="#111" stroke-width="0.75"/>
<circle cx="118.13" cy="649.82" r="2.15" fill="#d95f02" stroke="#111" stroke-width="0.75"/>
<circle cx="237.25" cy="568.63" r="2.15" fill="#1b9e77" stroke="#111" stroke-width="0.75"/>
<circle cx="158.83" cy="625.88" r="2.15" fill="#1b9e77" stroke="#111" stroke-width="0.75"/>
<circle cx="128.83" cy="649.5" r="2.15" fill="#7570b3" stroke="#111" stroke-width="0.75"/>
<circle cx="243.85" cy="564.25" r="2.15" fill="#d95f02" stroke="#111" stroke-width="0.75"/>
<circle cx="140.06" cy="633.17" r="2.15" fill="#1b9e77" stroke="#111" stroke-width="0.75"/>
<circle cx="110.33" cy="654.81" r="2.15" fill="#1b9e77" stroke="#111" stroke-width="0.75"/>
<circle cx="194.95" cy="592.23" r="2.15" fill="#1b9e77" stroke="#111" stroke-width="0.75"/>
<circle cx="85.87" cy="678.68" r="2.15" fill="#d95f02" stroke="#111" stroke-width="0.75"/>
</g>
<rect x="48.6" y="506.9" width="268.1" height="200.2" fill="none" stroke="#b3b3b3" stroke-width="1" rx="0"/>
<line x1="44" y1="670.3" x2="48.6" y2="670.3" stroke="#b3b3b3" stroke-width="1.1"/>
<text x="40" y="673.7" font-size="9.8" text-anchor="end" fill="#4d4d4d" stroke="#4d4d4d" stroke-width="0.25">0</text>
<line x1="97.3" y1="707.1" x2="97.3" y2="711.3" stroke="#b3b3b3" stroke-width="1.1"/>
<text x="97.3" y="723.7" font-size="9.8" text-anchor="middle" fill="#4d4d4d" stroke="#4d4d4d" stroke-width="0.25">0</text>
<line x1="44" y1="614" x2="48.6" y2="614" stroke="#b3b3b3" stroke-width="1.1"/>
<text x="40" y="617.4" font-size="9.8" text-anchor="end" fill="#4d4d4d" stroke="#4d4d4d" stroke-width="0.25">2</text>
<line x1="172.8" y1="707.1" x2="172.8" y2="711.3" stroke="#b3b3b3" stroke-width="1.1"/>
<text x="172.8" y="723.7" font-size="9.8" text-anchor="middle" fill="#4d4d4d" stroke="#4d4d4d" stroke-width="0.25">2</text>
<line x1="44" y1="557.7" x2="48.6" y2="557.7" stroke="#b3b3b3" stroke-width="1.1"/>
<text x="40" y="561.1" font-size="9.8" text-anchor="end" fill="#4d4d4d" stroke="#4d4d4d" stroke-width="0.25">4</text>
<line x1="248.3" y1="707.1" x2="248.3" y2="711.3" stroke="#b3b3b3" stroke-width="1.1"/>
<text x="248.3" y="723.7" font-size="9.8" text-anchor="middle" fill="#4d4d4d" stroke="#4d4d4d" stroke-width="0.25">4</text>
<text x="182.3" y="739.5" font-size="13.4" text-anchor="middle" fill="#000" stroke="#000" stroke-width="0.25">log RpoB ptChIP enrichment</text>
<text x="22.5" y="609" font-size="13.4" text-anchor="middle" fill="#000" stroke="#000" stroke-width="0.25" transform="rotate(-90 22.5 609)">log2 PAP1 ptChIP enrichment</text>
<text x="56.8" y="522.7" font-size="13.2" text-anchor="start" fill="#000" stroke="#000" stroke-width="0.25">Genomic regions</text>
<circle cx="63.5" cy="534.2" r="2.2" fill="#1b9e77" stroke="#111" stroke-width="0.75"/>
<text x="71.2" y="537.7" font-size="9.8" text-anchor="start" fill="#000" stroke="#000" stroke-width="0.25">LSC</text>
<circle cx="63.5" cy="548.4" r="2.2" fill="#d95f02" stroke="#111" stroke-width="0.75"/>
<text x="71.2" y="551.9" font-size="9.8" text-anchor="start" fill="#000" stroke="#000" stroke-width="0.25">IR</text>
<circle cx="63.5" cy="562.9" r="2.2" fill="#7570b3" stroke="#111" stroke-width="0.75"/>
<text x="71.2" y="566.4" font-size="9.8" text-anchor="start" fill="#000" stroke="#000" stroke-width="0.25">SSC</text>
<text x="122.9" y="703.1" font-size="10" font-weight="bold" fill="#000">y</text>
<text x="130.6" y="702.8" font-size="9.2" font-weight="bold" fill="#000">=</text>
<text x="138.4" y="703.1" font-size="10" font-weight="bold" fill="#000">0.11</text>
<text x="160.1" y="702.8" font-size="9.2" font-weight="bold" fill="#000">+</text>
<text x="167.6" y="703.1" font-size="10" font-weight="bold" fill="#000">0.97</text>
<text x="188.9" y="703.1" font-size="10" font-weight="bold" fill="#000">x</text>
<text x="199.4" y="703.1" font-size="10" font-weight="bold" fill="#000">R</text>
<text x="205.8" y="698.9" font-size="7" font-weight="bold" fill="#000">2</text>
<text x="212.7" y="702.8" font-size="9.2" font-weight="bold" fill="#000">=</text>
<text x="220.4" y="703.1" font-size="10" font-weight="bold" fill="#000">0.99</text>
<text x="245.1" y="703.1" font-size="10" font-weight="bold" fill="#000">p</text>
<text x="253.9" y="702.8" font-size="9.2" font-weight="bold" fill="#000">≤</text>
<text x="261.3" y="703.1" font-size="10" font-weight="bold" fill="#000">0</text>
<text x="336.3" y="233.6" font-size="17" text-anchor="start" fill="#000" stroke="#000" stroke-width="0.25">D</text>
<text x="358.1" y="262.2" font-size="13.3" text-anchor="middle" fill="#000" stroke="#000" stroke-width="0.25" transform="rotate(-90 358.1 262.2)">ptChIP</text>
<text x="372.5" y="262.2" font-size="13.3" text-anchor="middle" fill="#000" stroke="#000" stroke-width="0.25" transform="rotate(-90 372.5 262.2)">enrichment</text>
<line x1="403.3" y1="286.9" x2="407.8" y2="286.9" stroke="#333333" stroke-width="1.4"/>
<text x="399" y="290.3" font-size="9.8" text-anchor="end" fill="#4d4d4d" stroke="#4d4d4d" stroke-width="0.25">0</text>
<line x1="403.3" y1="274.8" x2="407.8" y2="274.8" stroke="#333333" stroke-width="1.4"/>
<text x="399" y="278.2" font-size="9.8" text-anchor="end" fill="#4d4d4d" stroke="#4d4d4d" stroke-width="0.25">5</text>
<line x1="403.3" y1="262.7" x2="407.8" y2="262.7" stroke="#333333" stroke-width="1.4"/>
<text x="399" y="266.1" font-size="9.8" text-anchor="end" fill="#4d4d4d" stroke="#4d4d4d" stroke-width="0.25">10</text>
<line x1="403.3" y1="250.6" x2="407.8" y2="250.6" stroke="#333333" stroke-width="1.4"/>
<text x="399" y="254" font-size="9.8" text-anchor="end" fill="#4d4d4d" stroke="#4d4d4d" stroke-width="0.25">15</text>
<line x1="403.3" y1="238.5" x2="407.8" y2="238.5" stroke="#333333" stroke-width="1.4"/>
<text x="399" y="241.9" font-size="9.8" text-anchor="end" fill="#4d4d4d" stroke="#4d4d4d" stroke-width="0.25">20</text>
<line x1="458.6" y1="289.2" x2="458.6" y2="293.2" stroke="#333333" stroke-width="1.4"/>
<text x="458.6" y="305" font-size="9.8" text-anchor="middle" fill="#4d4d4d" stroke="#4d4d4d" stroke-width="0.25">1500</text>
<line x1="528.43" y1="289.2" x2="528.43" y2="293.2" stroke="#333333" stroke-width="1.4"/>
<text x="528.43" y="305" font-size="9.8" text-anchor="middle" fill="#4d4d4d" stroke="#4d4d4d" stroke-width="0.25">1000</text>
<line x1="598.26" y1="289.2" x2="598.26" y2="293.2" stroke="#333333" stroke-width="1.4"/>
<text x="598.26" y="305" font-size="9.8" text-anchor="middle" fill="#4d4d4d" stroke="#4d4d4d" stroke-width="0.25">500</text>
<line x1="668.1" y1="289.2" x2="668.1" y2="293.2" stroke="#333333" stroke-width="1.4"/>
<text x="668.1" y="305" font-size="9.8" text-anchor="middle" fill="#4d4d4d" stroke="#4d4d4d" stroke-width="0.25">0</text>
<line x1="407.8" y1="250" x2="675.8" y2="250" stroke="#bebebe" stroke-width="1.4"/>
<rect x="423.7" y="245.7" width="4.8" height="4.8" fill="#e78ac3" stroke="#333" stroke-width="0.7" rx="0"/>
<rect x="466.5" y="245.7" width="148" height="4.8" fill="#66c2a5" stroke="#333" stroke-width="0.7" rx="0"/>
<rect x="657.2" y="245.7" width="10.3" height="4.8" fill="#e78ac3" stroke="#333" stroke-width="0.7" rx="0"/>
<text x="426.8" y="244.6" font-size="10.2" text-anchor="middle" fill="#111" stroke="#111" stroke-width="0.25" font-style="italic">trnK_2</text>
<text x="541.4" y="244.6" font-size="10.2" text-anchor="middle" fill="#111" stroke="#111" stroke-width="0.25" font-style="italic">psbA</text>
<text x="663.1" y="244.6" font-size="10.2" text-anchor="middle" fill="#111" stroke="#111" stroke-width="0.25" font-style="italic">trnH</text>
<polygon points="419.4,276.57 434.7,275.8 443.5,267.44 451.1,258.97 456.6,255.01 462.1,255.23 467.6,257.1 476.3,259.85 487.3,263.15 498.2,264.58 509.2,266.01 517.9,265.35 524.5,264.14 533.2,264.25 542,266.01 548.1,268.1 555.1,269.42 563.5,271.73 578.8,272.5 596.3,271.73 611.6,272.5 622.6,274.15 631.3,277.01 636.8,278 642.3,275.25 651,270.19 657.6,267.55 663.1,264.91 663.1,270.29 657.6,272.45 651,274.61 642.3,278.75 636.8,281 631.3,280.19 622.6,277.85 611.6,276.5 596.3,275.87 578.8,276.5 563.5,275.87 555.1,273.98 548.1,272.9 542,271.19 533.2,269.75 524.5,269.66 517.9,270.65 509.2,271.19 498.2,270.02 487.3,268.85 476.3,266.15 467.6,263.9 462.1,262.37 456.6,262.19 451.1,265.43 443.5,272.36 434.7,279.2 419.4,279.83" fill="rgba(55,126,184,0.2)"/>
<polygon points="419.4,275.83 434.7,275.08 443.5,266.87 451.1,258.55 456.6,254.56 462.1,254.56 467.6,256.18 476.3,259.31 487.3,262.12 498.2,263.74 509.2,264.49 517.9,263.31 524.5,260.93 533.2,261.69 542,264.06 548.1,267.52 555.1,269.46 563.5,271.08 578.8,271.84 596.3,271.08 611.6,271.84 622.6,273.46 631.3,276.27 636.8,278.97 642.3,277.02 651,274.65 657.6,271.84 663.1,271.84 663.1,275.56 657.6,275.56 651,277.95 642.3,279.98 636.8,281.63 631.3,279.33 622.6,276.94 611.6,275.56 596.3,274.92 578.8,275.56 563.5,274.92 555.1,273.54 548.1,271.88 542,268.94 533.2,266.91 524.5,266.27 517.9,268.29 509.2,269.31 498.2,268.66 487.3,267.28 476.3,264.89 467.6,262.22 462.1,260.84 456.6,260.84 451.1,264.25 443.5,271.33 434.7,278.32 419.4,278.97" fill="rgba(152,78,163,0.2)"/>
<polygon points="419.4,283.2 450,282.8 480,283 520,283.3 560,283.2 600,283.5 640,283.6 663.1,283.4 663.1,285 640,285.2 600,285.1 560,284.8 520,284.9 480,284.6 450,284.4 419.4,284.8" fill="rgba(77,175,74,0.2)"/>
<polyline points="419.4,284 450,283.6 480,283.8 520,284.1 560,284 600,284.3 640,284.4 663.1,284.2" fill="none" stroke="#4daf4a" stroke-width="1.7" stroke-linejoin="round" stroke-linecap="round"/>
<polyline points="419.4,278.2 434.7,277.5 443.5,269.9 451.1,262.2 456.6,258.6 462.1,258.8 467.6,260.5 476.3,263 487.3,266 498.2,267.3 509.2,268.6 517.9,268 524.5,266.9 533.2,267 542,268.6 548.1,270.5 555.1,271.7 563.5,273.8 578.8,274.5 596.3,273.8 611.6,274.5 622.6,276 631.3,278.6 636.8,279.5 642.3,277 651,272.4 657.6,270 663.1,267.6" fill="none" stroke="#377eb8" stroke-width="2.0" stroke-linejoin="round" stroke-linecap="round"/>
<polyline points="419.4,277.4 434.7,276.7 443.5,269.1 451.1,261.4 456.6,257.7 462.1,257.7 467.6,259.2 476.3,262.1 487.3,264.7 498.2,266.2 509.2,266.9 517.9,265.8 524.5,263.6 533.2,264.3 542,266.5 548.1,269.7 555.1,271.5 563.5,273 578.8,273.7 596.3,273 611.6,273.7 622.6,275.2 631.3,277.8 636.8,280.3 642.3,278.5 651,276.3 657.6,273.7 663.1,273.7" fill="none" stroke="#984ea3" stroke-width="2.0" stroke-linejoin="round" stroke-linecap="round"/>
<text x="336.6" y="338.6" font-size="17" text-anchor="start" fill="#000" stroke="#000" stroke-width="0.25">E</text>
<text x="358.1" y="367" font-size="13.3" text-anchor="middle" fill="#000" stroke="#000" stroke-width="0.25" transform="rotate(-90 358.1 367)">ptChIP</text>
<text x="372.5" y="367" font-size="13.3" text-anchor="middle" fill="#000" stroke="#000" stroke-width="0.25" transform="rotate(-90 372.5 367)">enrichment</text>
<line x1="403.3" y1="391.2" x2="407.8" y2="391.2" stroke="#333333" stroke-width="1.4"/>
<text x="399" y="394.6" font-size="9.8" text-anchor="end" fill="#4d4d4d" stroke="#4d4d4d" stroke-width="0.25">0.0</text>
<line x1="403.3" y1="381.1" x2="407.8" y2="381.1" stroke="#333333" stroke-width="1.4"/>
<text x="399" y="384.5" font-size="9.8" text-anchor="end" fill="#4d4d4d" stroke="#4d4d4d" stroke-width="0.25">2.5</text>
<line x1="403.3" y1="371" x2="407.8" y2="371" stroke="#333333" stroke-width="1.4"/>
<text x="399" y="374.4" font-size="9.8" text-anchor="end" fill="#4d4d4d" stroke="#4d4d4d" stroke-width="0.25">5.0</text>
<line x1="403.3" y1="360.9" x2="407.8" y2="360.9" stroke="#333333" stroke-width="1.4"/>
<text x="399" y="364.3" font-size="9.8" text-anchor="end" fill="#4d4d4d" stroke="#4d4d4d" stroke-width="0.25">7.5</text>
<line x1="403.3" y1="350.8" x2="407.8" y2="350.8" stroke="#333333" stroke-width="1.4"/>
<text x="399" y="354.2" font-size="9.8" text-anchor="end" fill="#4d4d4d" stroke="#4d4d4d" stroke-width="0.25">10.0</text>
<line x1="448.1" y1="394.2" x2="448.1" y2="398.2" stroke="#333333" stroke-width="1.4"/>
<text x="448.1" y="409.4" font-size="9.8" text-anchor="middle" fill="#4d4d4d" stroke="#4d4d4d" stroke-width="0.25">64500</text>
<line x1="517.8" y1="394.2" x2="517.8" y2="398.2" stroke="#333333" stroke-width="1.4"/>
<text x="517.8" y="409.4" font-size="9.8" text-anchor="middle" fill="#4d4d4d" stroke="#4d4d4d" stroke-width="0.25">64000</text>
<line x1="587.5" y1="394.2" x2="587.5" y2="398.2" stroke="#333333" stroke-width="1.4"/>
<text x="587.5" y="409.4" font-size="9.8" text-anchor="middle" fill="#4d4d4d" stroke="#4d4d4d" stroke-width="0.25">63500</text>
<line x1="657.2" y1="394.2" x2="657.2" y2="398.2" stroke="#333333" stroke-width="1.4"/>
<text x="657.2" y="409.4" font-size="9.8" text-anchor="middle" fill="#4d4d4d" stroke="#4d4d4d" stroke-width="0.25">63000</text>
<line x1="407.8" y1="354.8" x2="675.8" y2="354.8" stroke="#bebebe" stroke-width="1.4"/>
<rect x="473.3" y="350.3" width="34.7" height="5.1" fill="#66c2a5" stroke="#333" stroke-width="0.7" rx="0"/>
<rect x="509.5" y="350.3" width="16.9" height="5.1" fill="#66c2a5" stroke="#333" stroke-width="0.7" rx="0"/>
<rect x="529.1" y="350.3" width="16.3" height="5.1" fill="#66c2a5" stroke="#333" stroke-width="0.7" rx="0"/>
<rect x="565.3" y="350.3" width="17.3" height="5.1" fill="#66c2a5" stroke="#333" stroke-width="0.7" rx="0"/>
<text x="490.7" y="350.3" font-size="10.2" text-anchor="middle" fill="#111" stroke="#111" stroke-width="0.25" font-style="italic">psbE</text>
<text x="517.2" y="350.3" font-size="10.2" text-anchor="middle" fill="#111" stroke="#111" stroke-width="0.25" font-style="italic">psbF</text>
<text x="538.7" y="350.3" font-size="10.2" text-anchor="middle" fill="#111" stroke="#111" stroke-width="0.25" font-style="italic">psbL</text>
<text x="574.5" y="350.3" font-size="10.2" text-anchor="middle" fill="#111" stroke="#111" stroke-width="0.25" font-style="italic">psbJ</text>
<polygon points="419.4,384.91 428.1,383.72 436.9,378.32 445.7,368.71 455.1,363.31 463.2,372.27 471.9,378.97 482.9,383.07 502.6,383.72 524.5,384.69 546.4,385.23 561.3,383.94 580,383.4 596.3,383.18 615,384.48 631.3,386.7 640.1,384.8 644.5,384.37 662.7,385.34 662.7,387.46 644.5,386.63 640.1,387 631.3,388.7 615,386.72 596.3,385.62 580,385.8 561.3,386.26 546.4,387.37 524.5,386.91 502.6,386.08 482.9,385.53 471.9,382.03 463.2,376.33 455.1,368.69 445.7,373.29 436.9,381.48 428.1,386.08 419.4,387.09" fill="rgba(55,126,184,0.2)"/>
<polygon points="419.4,384.07 428.1,382.9 436.9,377.58 445.7,365.88 455.1,359.39 463.2,369.39 471.9,377.58 482.9,382.27 502.6,382.9 524.5,383.86 546.4,384.39 561.3,383.12 580,382.58 596.3,382.37 615,383.65 631.3,385.88 640.1,383.97 644.5,383.54 662.7,384.5 662.7,386.7 644.5,385.86 640.1,386.23 631.3,387.92 615,385.95 596.3,384.83 580,385.02 561.3,385.48 546.4,386.61 524.5,386.14 502.6,385.3 482.9,384.73 471.9,380.62 463.2,373.41 455.1,364.61 445.7,370.32 436.9,380.62 428.1,385.3 419.4,386.33" fill="rgba(152,78,163,0.2)"/>
<polygon points="419.4,386.6 455,386 500,386.4 535,386.8 561,386.4 596.3,385.7 631.3,387.4 645,386.5 662.7,386.4 662.7,388 645,388.1 631.3,389 596.3,387.3 561,388 535,388.4 500,388 455,387.6 419.4,388.2" fill="rgba(77,175,74,0.2)"/>
<polyline points="419.4,387.4 455,386.8 500,387.2 535,387.6 561,387.2 596.3,386.5 631.3,388.2 645,387.3 662.7,387.2" fill="none" stroke="#4daf4a" stroke-width="1.7" stroke-linejoin="round" stroke-linecap="round"/>
<polyline points="419.4,386 428.1,384.9 436.9,379.9 445.7,371 455.1,366 463.2,374.3 471.9,380.5 482.9,384.3 502.6,384.9 524.5,385.8 546.4,386.3 561.3,385.1 580,384.6 596.3,384.4 615,385.6 631.3,387.7 640.1,385.9 644.5,385.5 662.7,386.4" fill="none" stroke="#377eb8" stroke-width="2.0" stroke-linejoin="round" stroke-linecap="round"/>
<polyline points="419.4,385.2 428.1,384.1 436.9,379.1 445.7,368.1 455.1,362 463.2,371.4 471.9,379.1 482.9,383.5 502.6,384.1 524.5,385 546.4,385.5 561.3,384.3 580,383.8 596.3,383.6 615,384.8 631.3,386.9 640.1,385.1 644.5,384.7 662.7,385.6" fill="none" stroke="#984ea3" stroke-width="2.0" stroke-linejoin="round" stroke-linecap="round"/>
<text x="337.4" y="443" font-size="17" text-anchor="start" fill="#000" stroke="#000" stroke-width="0.25">F</text>
<text x="358.1" y="472.5" font-size="13.3" text-anchor="middle" fill="#000" stroke="#000" stroke-width="0.25" transform="rotate(-90 358.1 472.5)">ptChIP</text>
<text x="372.5" y="472.5" font-size="13.3" text-anchor="middle" fill="#000" stroke="#000" stroke-width="0.25" transform="rotate(-90 372.5 472.5)">enrichment</text>
<line x1="403.3" y1="496" x2="407.8" y2="496" stroke="#333333" stroke-width="1.4"/>
<text x="399" y="499.4" font-size="9.8" text-anchor="end" fill="#4d4d4d" stroke="#4d4d4d" stroke-width="0.25">0</text>
<line x1="403.3" y1="479.43" x2="407.8" y2="479.43" stroke="#333333" stroke-width="1.4"/>
<text x="399" y="482.83" font-size="9.8" text-anchor="end" fill="#4d4d4d" stroke="#4d4d4d" stroke-width="0.25">10</text>
<line x1="403.3" y1="462.86" x2="407.8" y2="462.86" stroke="#333333" stroke-width="1.4"/>
<text x="399" y="466.26" font-size="9.8" text-anchor="end" fill="#4d4d4d" stroke="#4d4d4d" stroke-width="0.25">20</text>
<line x1="403.3" y1="446.29" x2="407.8" y2="446.29" stroke="#333333" stroke-width="1.4"/>
<text x="399" y="449.69" font-size="9.8" text-anchor="end" fill="#4d4d4d" stroke="#4d4d4d" stroke-width="0.25">30</text>
<line x1="420.3" y1="498.6" x2="420.3" y2="502.6" stroke="#333333" stroke-width="1.4"/>
<text x="420.3" y="513.6" font-size="9.8" text-anchor="middle" fill="#4d4d4d" stroke="#4d4d4d" stroke-width="0.25">54500</text>
<line x1="490.05" y1="498.6" x2="490.05" y2="502.6" stroke="#333333" stroke-width="1.4"/>
<text x="490.05" y="513.6" font-size="9.8" text-anchor="middle" fill="#4d4d4d" stroke="#4d4d4d" stroke-width="0.25">55000</text>
<line x1="559.8" y1="498.6" x2="559.8" y2="502.6" stroke="#333333" stroke-width="1.4"/>
<text x="559.8" y="513.6" font-size="9.8" text-anchor="middle" fill="#4d4d4d" stroke="#4d4d4d" stroke-width="0.25">55500</text>
<line x1="629.55" y1="498.6" x2="629.55" y2="502.6" stroke="#333333" stroke-width="1.4"/>
<text x="629.55" y="513.6" font-size="9.8" text-anchor="middle" fill="#4d4d4d" stroke="#4d4d4d" stroke-width="0.25">56000</text>
<line x1="407.8" y1="459.9" x2="675.8" y2="459.9" stroke="#bebebe" stroke-width="1.4"/>
<rect x="484.1" y="454.1" width="192.4" height="5.7" fill="#66c2a5" stroke="#333" stroke-width="0.7" rx="0"/>
<text x="585.2" y="453.5" font-size="10.2" text-anchor="middle" fill="#111" stroke="#111" stroke-width="0.25" font-style="italic">rbcL</text>
<polygon points="420.2,491.26 437.3,488.02 446,481.4 454.8,474.65 459.6,469.25 470.1,477.35 480,484.1 482.6,485.72 490,486.94 520,487.21 550,486.53 580,487.48 610,486.67 640,487.21 664.6,488.29 664.6,492.91 640,492.39 610,492.13 580,492.52 550,492.07 520,492.39 490,492.26 482.6,491.68 480,490.9 470.1,487.65 459.6,483.75 454.8,486.35 446,489.6 437.3,492.78 420.2,494.34" fill="rgba(55,126,184,0.2)"/>
<polygon points="420.2,490.73 437.3,487.27 446,479.46 454.8,471.02 459.6,464.62 470.1,475.24 480,483.05 482.6,485.1 490,486.25 520,486.5 550,485.86 580,486.76 610,485.99 640,486.5 664.6,487.53 664.6,492.07 640,491.5 610,491.21 580,491.64 550,491.14 520,491.5 490,491.35 482.6,490.7 480,489.55 470.1,485.16 459.6,479.18 454.8,482.78 446,487.54 437.3,491.93 420.2,493.87" fill="rgba(152,78,163,0.2)"/>
<polygon points="420.2,493.4 460,494.7 500,494 540,493.8 580,494.1 620,493.5 664.6,493.7 664.6,495.3 620,495.1 580,495.7 540,495.4 500,495.6 460,496.3 420.2,495" fill="rgba(77,175,74,0.2)"/>
<polyline points="420.2,494.2 460,495.5 500,494.8 540,494.6 580,494.9 620,494.3 664.6,494.5" fill="none" stroke="#4daf4a" stroke-width="1.7" stroke-linejoin="round" stroke-linecap="round"/>
<polyline points="420.2,492.8 437.3,490.4 446,485.5 454.8,480.5 459.6,476.5 470.1,482.5 480,487.5 482.6,488.7 490,489.6 520,489.8 550,489.3 580,490 610,489.4 640,489.8 664.6,490.6" fill="none" stroke="#377eb8" stroke-width="2.0" stroke-linejoin="round" stroke-linecap="round"/>
<polyline points="420.2,492.3 437.3,489.6 446,483.5 454.8,476.9 459.6,471.9 470.1,480.2 480,486.3 482.6,487.9 490,488.8 520,489 550,488.5 580,489.2 610,488.6 640,489 664.6,489.8" fill="none" stroke="#984ea3" stroke-width="2.0" stroke-linejoin="round" stroke-linecap="round"/>
<text x="336" y="548" font-size="17" text-anchor="start" fill="#000" stroke="#000" stroke-width="0.25">G</text>
<text x="358.1" y="576.5" font-size="13.3" text-anchor="middle" fill="#000" stroke="#000" stroke-width="0.25" transform="rotate(-90 358.1 576.5)">ptChIP</text>
<text x="372.5" y="576.5" font-size="13.3" text-anchor="middle" fill="#000" stroke="#000" stroke-width="0.25" transform="rotate(-90 372.5 576.5)">enrichment</text>
<line x1="403.3" y1="601" x2="407.8" y2="601" stroke="#333333" stroke-width="1.4"/>
<text x="399" y="604.4" font-size="9.8" text-anchor="end" fill="#4d4d4d" stroke="#4d4d4d" stroke-width="0.25">0</text>
<line x1="403.3" y1="582.5" x2="407.8" y2="582.5" stroke="#333333" stroke-width="1.4"/>
<text x="399" y="585.9" font-size="9.8" text-anchor="end" fill="#4d4d4d" stroke="#4d4d4d" stroke-width="0.25">5</text>
<line x1="403.3" y1="564" x2="407.8" y2="564" stroke="#333333" stroke-width="1.4"/>
<text x="399" y="567.4" font-size="9.8" text-anchor="end" fill="#4d4d4d" stroke="#4d4d4d" stroke-width="0.25">10</text>
<line x1="461.8" y1="603.6" x2="461.8" y2="607.6" stroke="#333333" stroke-width="1.4"/>
<text x="461.8" y="619.4" font-size="9.8" text-anchor="middle" fill="#4d4d4d" stroke="#4d4d4d" stroke-width="0.25">42000</text>
<line x1="531.6" y1="603.6" x2="531.6" y2="607.6" stroke="#333333" stroke-width="1.4"/>
<text x="531.6" y="619.4" font-size="9.8" text-anchor="middle" fill="#4d4d4d" stroke="#4d4d4d" stroke-width="0.25">41500</text>
<line x1="601.4" y1="603.6" x2="601.4" y2="607.6" stroke="#333333" stroke-width="1.4"/>
<text x="601.4" y="619.4" font-size="9.8" text-anchor="middle" fill="#4d4d4d" stroke="#4d4d4d" stroke-width="0.25">41000</text>
<line x1="671.2" y1="603.6" x2="671.2" y2="607.6" stroke="#333333" stroke-width="1.4"/>
<text x="671.2" y="619.4" font-size="9.8" text-anchor="middle" fill="#4d4d4d" stroke="#4d4d4d" stroke-width="0.25">40500</text>
<line x1="407.8" y1="564.4" x2="675.8" y2="564.4" stroke="#bebebe" stroke-width="1.4"/>
<rect x="481.8" y="559.9" width="193.8" height="5.2" fill="#66c2a5" stroke="#333" stroke-width="0.7" rx="0"/>
<text x="638.3" y="558.9" font-size="10.2" text-anchor="middle" fill="#111" stroke="#111" stroke-width="0.25" font-style="italic">psaA</text>
<polygon points="419.3,596.3 428.5,594.83 437.3,591.26 446,585.49 455.9,578.35 468,585.9 480,590.52 484.2,592 505.7,591.26 536.3,592.62 567,593.88 603.8,594.72 643.6,593.47 662.6,593.88 662.6,596.12 643.6,595.74 603.8,596.88 567,596.12 536.3,594.97 505.7,593.74 484.2,594.41 480,593.07 468,588.89 455.9,582.06 446,588.51 437.3,593.74 428.5,596.97 419.3,598.3" fill="rgba(55,126,184,0.2)"/>
<polygon points="419.3,595.78 428.5,594.01 437.3,589.44 446,580.28 455.9,568.43 468,580.28 480,587.46 484.2,590.68 505.7,589.75 536.3,591.31 567,592.87 603.8,593.8 643.6,592.24 662.6,592.87 662.6,595.13 643.6,594.56 603.8,596 567,595.13 536.3,593.69 505.7,592.25 484.2,593.12 480,590.14 468,583.52 455.9,572.57 446,583.52 437.3,591.96 428.5,596.19 419.3,597.82" fill="rgba(152,78,163,0.2)"/>
<polygon points="419.3,596.9 440,595.7 455.9,594.7 475,595.5 500,596.3 540,596.5 600,596.4 662.6,596.1 662.6,597.7 600,598 540,598.1 500,597.9 475,597.1 455.9,596.3 440,597.3 419.3,598.5" fill="rgba(77,175,74,0.2)"/>
<polyline points="419.3,597.7 440,596.5 455.9,595.5 475,596.3 500,597.1 540,597.3 600,597.2 662.6,596.9" fill="none" stroke="#4daf4a" stroke-width="1.7" stroke-linejoin="round" stroke-linecap="round"/>
<polyline points="419.3,597.3 428.5,595.9 437.3,592.5 446,587 455.9,580.2 468,587.4 480,591.8 484.2,593.2 505.7,592.5 536.3,593.8 567,595 603.8,595.8 643.6,594.6 662.6,595" fill="none" stroke="#377eb8" stroke-width="2.0" stroke-linejoin="round" stroke-linecap="round"/>
<polyline points="419.3,596.8 428.5,595.1 437.3,590.7 446,581.9 455.9,570.5 468,581.9 480,588.8 484.2,591.9 505.7,591 536.3,592.5 567,594 603.8,594.9 643.6,593.4 662.6,594" fill="none" stroke="#984ea3" stroke-width="2.0" stroke-linejoin="round" stroke-linecap="round"/>
<text x="336.3" y="652.3" font-size="17" text-anchor="start" fill="#000" stroke="#000" stroke-width="0.25">H</text>
<text x="358.1" y="681.5" font-size="13.3" text-anchor="middle" fill="#000" stroke="#000" stroke-width="0.25" transform="rotate(-90 358.1 681.5)">ptChIP</text>
<text x="372.5" y="681.5" font-size="13.3" text-anchor="middle" fill="#000" stroke="#000" stroke-width="0.25" transform="rotate(-90 372.5 681.5)">enrichment</text>
<line x1="403.3" y1="705.5" x2="407.8" y2="705.5" stroke="#333333" stroke-width="1.4"/>
<text x="399" y="708.9" font-size="9.8" text-anchor="end" fill="#4d4d4d" stroke="#4d4d4d" stroke-width="0.25">0.0</text>
<line x1="403.3" y1="693.58" x2="407.8" y2="693.58" stroke="#333333" stroke-width="1.4"/>
<text x="399" y="696.98" font-size="9.8" text-anchor="end" fill="#4d4d4d" stroke="#4d4d4d" stroke-width="0.25">2.5</text>
<line x1="403.3" y1="681.65" x2="407.8" y2="681.65" stroke="#333333" stroke-width="1.4"/>
<text x="399" y="685.05" font-size="9.8" text-anchor="end" fill="#4d4d4d" stroke="#4d4d4d" stroke-width="0.25">5.0</text>
<line x1="403.3" y1="669.73" x2="407.8" y2="669.73" stroke="#333333" stroke-width="1.4"/>
<text x="399" y="673.12" font-size="9.8" text-anchor="end" fill="#4d4d4d" stroke="#4d4d4d" stroke-width="0.25">7.5</text>
<line x1="403.3" y1="657.8" x2="407.8" y2="657.8" stroke="#333333" stroke-width="1.4"/>
<text x="399" y="661.2" font-size="9.8" text-anchor="end" fill="#4d4d4d" stroke="#4d4d4d" stroke-width="0.25">10.0</text>
<line x1="431.4" y1="708.3" x2="431.4" y2="712.3" stroke="#333333" stroke-width="1.4"/>
<text x="431.4" y="724.5" font-size="9.8" text-anchor="middle" fill="#4d4d4d" stroke="#4d4d4d" stroke-width="0.25">72000</text>
<line x1="501.1" y1="708.3" x2="501.1" y2="712.3" stroke="#333333" stroke-width="1.4"/>
<text x="501.1" y="724.5" font-size="9.8" text-anchor="middle" fill="#4d4d4d" stroke="#4d4d4d" stroke-width="0.25">72500</text>
<line x1="570.8" y1="708.3" x2="570.8" y2="712.3" stroke="#333333" stroke-width="1.4"/>
<text x="570.8" y="724.5" font-size="9.8" text-anchor="middle" fill="#4d4d4d" stroke="#4d4d4d" stroke-width="0.25">73000</text>
<line x1="640.5" y1="708.3" x2="640.5" y2="712.3" stroke="#333333" stroke-width="1.4"/>
<text x="640.5" y="724.5" font-size="9.8" text-anchor="middle" fill="#4d4d4d" stroke="#4d4d4d" stroke-width="0.25">73500</text>
<line x1="407.8" y1="669.3" x2="675.8" y2="669.3" stroke="#bebebe" stroke-width="1.4"/>
<rect x="483.4" y="665.1" width="192.7" height="4.6" fill="#66c2a5" stroke="#333" stroke-width="0.7" rx="0"/>
<text x="589" y="662.5" font-size="10.2" text-anchor="middle" fill="#111" stroke="#111" stroke-width="0.25" font-style="italic">psbB</text>
<clipPath id="clipH"><rect x="407.8" y="640" width="270" height="80"/></clipPath>
<g clip-path="url(#clipH)">
<rect x="407" y="669.5" width="8.4" height="4.2" fill="#66c2a5" stroke="#333" stroke-width="0.5" rx="0"/>
<text x="424.9" y="681.9" font-size="9.7" text-anchor="end" fill="#111" stroke="#111" stroke-width="0.25" font-style="italic">clpP_1</text>
</g>
<polygon points="420.9,695.56 426.3,696.62 431.8,697.47 438.4,694.72 448.2,687.3 458.7,682.31 470.1,689.31 480,694.4 484.2,695.56 505.7,698.11 536.3,697.15 567,694.82 597.6,697.15 628.3,696.52 663.5,697.47 663.5,699.73 628.3,698.88 597.6,699.45 567,697.38 536.3,699.45 505.7,700.29 484.2,698.04 480,697 470.1,692.49 458.7,686.29 448.2,690.7 438.4,697.28 431.8,699.73 426.3,698.98 420.9,698.04" fill="rgba(55,126,184,0.2)"/>
<polygon points="420.9,692.89 426.3,695.61 431.8,697.18 438.4,693.31 448.2,680.73 458.7,672.14 470.1,684.08 480,692.15 484.2,694.67 505.7,697.29 536.3,696.34 567,694.04 597.6,696.34 628.3,695.72 663.5,696.66 663.5,698.94 628.3,698.08 597.6,698.66 567,696.56 536.3,698.66 505.7,699.51 484.2,697.13 480,694.85 470.1,687.52 458.7,676.66 448.2,684.47 438.4,695.89 431.8,699.42 426.3,697.99 420.9,695.51" fill="rgba(152,78,163,0.2)"/>
<polygon points="420.9,698.8 440,699.6 470,699.5 500,700 540,700.2 580,700.1 620,699.9 663.5,699.8 663.5,701.4 620,701.5 580,701.7 540,701.8 500,701.6 470,701.1 440,701.2 420.9,700.4" fill="rgba(77,175,74,0.2)"/>
<polyline points="420.9,699.6 440,700.4 470,700.3 500,700.8 540,701 580,700.9 620,700.7 663.5,700.6" fill="none" stroke="#4daf4a" stroke-width="1.7" stroke-linejoin="round" stroke-linecap="round"/>
<polyline points="420.9,696.8 426.3,697.8 431.8,698.6 438.4,696 448.2,689 458.7,684.3 470.1,690.9 480,695.7 484.2,696.8 505.7,699.2 536.3,698.3 567,696.1 597.6,698.3 628.3,697.7 663.5,698.6" fill="none" stroke="#377eb8" stroke-width="2.0" stroke-linejoin="round" stroke-linecap="round"/>
<polyline points="420.9,694.2 426.3,696.8 431.8,698.3 438.4,694.6 448.2,682.6 458.7,674.4 470.1,685.8 480,693.5 484.2,695.9 505.7,698.4 536.3,697.5 567,695.3 597.6,697.5 628.3,696.9 663.5,697.8" fill="none" stroke="#984ea3" stroke-width="2.0" stroke-linejoin="round" stroke-linecap="round"/>
</svg>
</body></html>
